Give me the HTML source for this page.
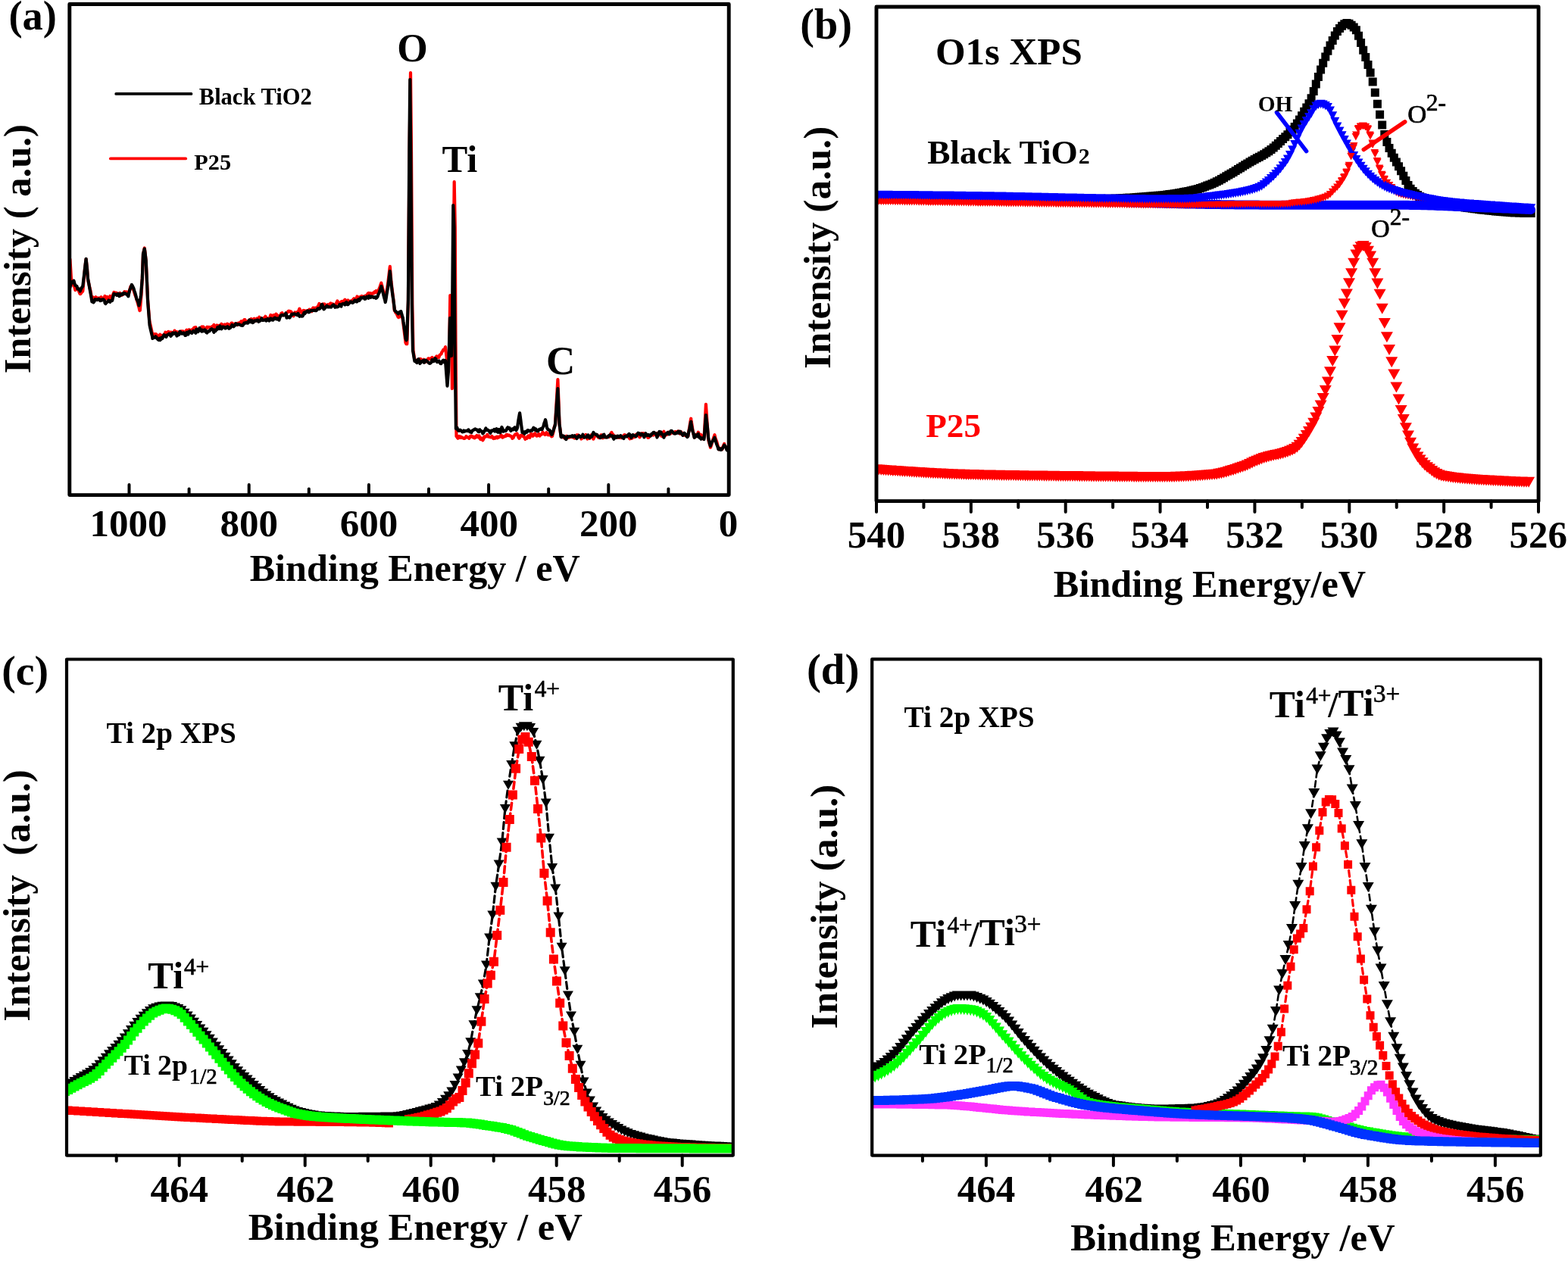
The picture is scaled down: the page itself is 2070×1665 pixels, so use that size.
<!DOCTYPE html>
<html><head><meta charset="utf-8"><title>XPS spectra</title>
<style>html,body{margin:0;padding:0;background:#fff;}svg{display:block;}</style>
</head><body>
<svg width="2070" height="1665" viewBox="0 0 2070 1665" font-family="Liberation Serif, Times New Roman, serif"><clipPath id="ca"><rect x="92" y="6" width="870" height="647"/></clipPath><g clip-path="url(#ca)"><polyline points="92.4,342.1 93.4,357.8 94.0,367.9 94.4,368.8 95.4,371.8 96.4,374.7 97.2,377.3 97.4,376.6 98.4,378.8 99.4,383.0 100.4,381.2 101.0,379.9 101.4,380.1 102.4,381.3 103.4,382.7 104.4,385.2 105.4,387.7 105.7,388.1 106.4,388.1 107.4,386.2 108.4,385.5 109.3,384.2 109.4,383.2 110.4,372.1 111.4,361.4 112.0,355.1 112.4,352.6 113.4,343.7 113.6,342.0 114.4,349.7 115.0,354.9 115.4,360.1 116.0,368.1 116.4,370.5 117.4,375.3 118.4,379.9 119.4,383.7 120.4,389.9 121.4,394.7 122.4,392.2 123.4,394.5 124.4,395.2 125.4,393.3 126.4,392.2 127.4,393.1 128.4,393.9 129.4,395.3 129.9,393.5 130.4,394.2 131.4,394.7 132.4,393.1 133.4,392.3 134.4,394.2 135.4,394.6 136.4,393.4 137.4,392.8 138.3,393.6 138.4,390.9 139.4,394.0 140.4,394.3 141.4,391.9 142.4,392.8 143.4,393.0 144.4,393.7 145.4,391.0 146.4,392.0 147.4,395.1 148.0,394.2 148.4,391.3 149.4,388.5 150.4,386.0 151.4,386.5 152.4,388.1 153.4,386.6 154.4,387.2 155.4,387.5 156.4,389.8 157.4,389.3 157.6,388.6 158.4,387.0 159.4,390.0 160.4,389.9 161.4,389.2 162.4,389.0 163.4,387.3 164.4,385.2 164.9,385.4 165.4,385.4 166.4,387.4 167.4,385.5 168.4,385.9 169.4,387.3 169.7,388.1 170.4,386.2 171.4,381.9 172.4,378.6 173.4,377.3 173.9,376.6 174.4,378.4 175.4,380.6 176.4,383.1 177.0,385.0 177.4,386.3 178.4,389.7 179.4,392.0 180.4,395.3 181.4,398.6 182.4,402.1 183.4,405.6 184.4,410.1 184.8,409.7 185.4,402.7 186.4,390.6 186.5,389.9 187.4,374.6 187.8,368.0 188.4,351.2 189.0,335.1 189.4,334.1 190.4,328.7 190.8,327.4 191.4,332.6 192.4,341.5 192.7,344.1 193.4,359.6 194.4,381.0 195.1,396.1 195.4,399.9 196.4,412.3 197.4,424.3 197.5,425.1 198.4,428.6 199.4,432.9 200.4,437.7 201.1,441.4 201.4,442.5 202.4,441.1 203.4,441.2 204.4,442.2 205.4,441.2 206.4,441.3 207.4,444.3 208.4,446.6 209.4,444.1 210.4,442.5 210.8,443.2 211.4,441.8 212.4,443.8 213.4,444.2 214.4,443.0 215.4,442.6 216.4,442.0 217.4,440.8 218.4,438.8 219.4,439.3 220.4,439.6 221.4,438.5 222.4,437.9 222.9,438.6 223.4,438.5 224.4,439.7 225.4,438.5 226.4,438.7 227.4,440.0 228.4,440.6 229.4,440.2 230.4,436.6 231.4,438.3 232.4,438.0 233.4,438.5 234.4,439.8 234.9,438.7 235.4,439.9 236.4,439.2 237.4,439.7 238.4,437.7 239.4,437.3 240.4,437.9 241.4,437.5 242.4,439.9 243.4,440.0 244.4,439.9 245.4,437.0 246.4,435.6 247.4,436.3 248.4,436.6 249.4,435.3 250.4,435.7 251.4,436.2 252.4,437.0 253.4,435.3 254.4,435.6 255.4,433.8 256.4,432.5 257.4,432.3 258.4,432.2 259.1,434.0 259.4,435.6 260.4,434.9 261.4,435.5 262.4,436.4 263.4,434.9 264.4,433.8 265.4,432.4 266.4,431.4 267.4,432.8 268.4,431.4 269.4,433.2 270.4,433.9 271.4,434.5 272.4,432.9 273.4,431.8 274.4,432.6 275.4,431.9 276.4,432.1 277.4,432.4 278.4,432.1 279.4,431.6 280.4,430.9 281.4,430.5 282.4,428.9 283.2,431.5 283.4,430.8 284.4,433.4 285.4,433.0 286.4,429.4 287.4,430.6 288.4,430.6 289.4,429.7 290.4,430.8 291.4,429.4 292.4,427.7 293.4,429.1 294.4,429.9 295.4,429.5 296.4,428.5 297.4,430.3 298.4,430.3 299.4,427.8 300.4,427.7 301.4,428.3 302.4,428.8 303.4,430.9 304.4,429.1 305.4,426.7 306.4,426.6 307.4,428.2 308.4,430.6 309.4,428.3 310.4,427.4 311.4,427.6 312.4,427.7 313.4,429.0 314.4,426.6 315.4,426.5 316.4,426.2 317.4,425.5 318.4,424.3 319.4,426.3 320.4,424.9 321.4,423.5 322.4,422.1 323.4,422.2 324.4,423.9 325.4,424.7 326.4,424.4 327.4,424.4 328.4,423.4 329.4,422.3 330.4,422.7 331.4,422.1 331.5,421.1 332.4,422.6 333.4,423.2 334.4,421.6 335.4,420.8 336.4,422.5 337.4,423.7 338.4,421.3 339.4,420.4 340.4,420.9 341.4,421.4 342.4,418.7 343.4,420.7 344.4,421.9 345.4,420.5 346.4,422.3 347.4,421.5 348.4,419.8 349.4,419.5 350.4,417.8 351.4,419.5 352.4,422.0 353.4,420.5 354.2,420.6 354.4,421.1 355.4,421.0 356.4,419.0 357.4,416.0 358.4,417.3 359.4,418.2 360.4,416.4 361.4,416.1 362.4,417.6 363.4,416.2 364.4,414.6 365.4,415.9 366.4,417.6 367.4,416.9 368.4,418.2 369.4,418.7 370.4,416.2 371.4,413.6 372.4,413.2 373.4,415.0 374.4,416.3 375.4,415.7 376.4,415.1 377.4,414.0 378.3,414.0 378.4,413.3 379.4,412.6 380.4,411.1 381.4,410.6 382.4,411.6 383.4,411.2 384.4,411.7 385.4,413.6 386.4,414.5 387.4,417.3 388.4,415.1 389.4,412.5 390.4,413.5 391.4,412.9 392.4,412.0 393.4,413.0 394.4,410.0 395.4,407.6 396.4,411.2 397.4,411.8 398.4,413.0 399.4,410.6 400.4,410.0 401.4,412.2 402.4,410.3 402.5,411.1 403.4,412.7 404.4,411.1 405.4,410.0 406.4,410.2 407.4,410.2 408.4,408.6 409.4,409.4 410.4,410.4 411.4,411.2 412.4,407.9 413.4,406.4 414.4,407.4 415.4,406.6 416.4,406.6 417.4,406.9 418.4,407.0 419.4,405.0 420.4,403.5 421.4,401.0 422.4,402.8 423.4,405.4 424.4,403.2 425.4,401.7 426.4,401.4 426.6,403.1 427.4,402.8 428.4,401.5 429.4,403.0 430.4,403.4 431.4,403.1 432.4,402.3 433.4,404.2 434.4,403.0 435.4,401.3 436.4,400.5 437.4,401.0 438.4,402.0 439.4,401.4 440.4,402.3 441.4,402.5 442.4,402.9 443.4,401.9 444.4,399.5 445.4,397.4 446.4,399.6 447.4,400.9 448.4,400.2 449.4,399.9 450.4,398.5 450.8,398.7 451.4,398.0 452.4,400.0 453.4,398.8 454.4,396.8 455.4,395.6 456.4,397.2 457.4,399.1 458.4,397.7 459.4,396.4 460.4,398.4 461.4,398.9 462.4,397.9 463.4,397.3 464.4,397.2 465.4,396.3 466.4,395.4 467.4,394.1 468.4,395.6 469.4,395.5 470.4,395.2 471.4,391.5 472.4,393.2 473.4,393.9 474.4,392.3 474.9,392.2 475.4,393.3 476.4,392.5 477.4,390.9 478.4,391.2 479.4,392.8 480.4,392.8 481.4,391.1 482.4,390.4 483.4,390.7 484.4,390.7 485.4,387.9 486.4,387.0 487.4,388.0 488.4,387.0 489.4,387.2 490.4,388.2 491.4,388.1 492.4,386.8 493.4,387.2 494.4,385.4 495.4,386.2 496.4,384.2 497.4,384.3 498.4,386.3 499.1,385.9 499.4,384.3 500.4,381.7 501.4,379.4 502.4,376.2 503.3,373.6 503.4,374.4 504.4,377.7 505.4,381.7 506.4,386.2 507.4,391.4 508.4,395.9 508.7,396.5 509.4,391.7 510.4,385.2 511.4,379.1 512.0,375.0 512.4,372.1 513.4,363.8 514.4,355.1 514.8,351.9 515.4,359.2 516.4,371.6 516.5,372.3 517.4,379.9 518.4,387.9 519.4,396.3 520.4,406.1 520.8,410.0 521.4,410.3 522.4,412.9 523.4,413.5 524.4,416.0 525.4,418.1 525.7,418.7 526.4,419.1 527.4,418.1 528.4,414.4 529.3,414.6 529.4,415.4 530.4,418.0 531.4,420.1 531.7,421.9 532.4,427.3 533.4,435.3 534.4,443.4 535.3,450.3 535.4,452.3 536.4,454.2 537.3,454.1 537.4,450.9 538.4,417.1 538.9,400.0 539.4,337.5 540.4,212.5 540.5,200.0 541.4,137.7 542.0,96.0 542.4,137.6 543.0,200.0 543.4,262.2 544.3,402.0 544.4,407.1 545.4,457.9 545.5,463.0 546.4,468.7 547.4,475.0 548.4,476.4 549.4,477.8 550.4,475.6 551.4,475.1 552.4,475.4 553.4,475.8 554.4,473.9 555.4,474.1 556.4,475.6 557.4,476.5 558.4,475.8 559.4,474.8 560.0,475.6 560.4,476.8 561.4,477.9 562.4,476.5 563.4,475.7 564.4,475.1 565.4,473.4 566.4,473.4 567.4,473.7 568.4,474.1 569.4,473.1 570.4,472.1 571.4,474.7 571.5,473.8 572.4,473.2 573.4,472.9 574.4,472.8 575.4,472.1 576.4,470.4 577.4,472.2 578.4,471.2 579.4,471.7 580.0,470.1 580.4,469.0 581.4,468.2 582.4,467.4 583.4,464.8 584.4,463.3 585.4,461.6 586.0,461.6 586.4,462.0 587.4,460.1 588.0,458.1 588.4,461.9 589.4,470.1 590.4,479.2 590.5,480.3 591.4,476.9 592.4,470.4 593.0,469.8 593.4,445.3 594.3,390.0 594.4,392.9 595.4,422.3 596.0,440.0 596.4,472.4 596.9,513.1 597.4,470.8 598.0,420.0 598.4,377.7 599.4,271.8 599.7,240.0 600.4,278.2 600.8,300.0 601.4,428.6 601.5,450.0 602.4,563.3 602.5,576.0 603.4,577.1 604.4,578.7 605.0,577.5 605.4,576.0 606.4,576.1 607.4,577.9 608.4,576.6 609.4,577.9 610.4,577.6 611.4,578.3 612.4,578.8 613.4,578.9 614.4,578.1 615.4,576.1 616.4,577.0 617.4,577.3 618.4,578.0 619.4,578.8 620.4,576.9 621.4,575.5 622.4,575.5 623.4,576.6 624.4,577.5 625.4,576.7 626.4,578.4 627.4,577.9 628.4,576.2 629.4,575.1 630.4,577.0 631.4,577.3 632.4,575.4 633.4,578.7 634.4,580.1 635.4,578.5 636.4,579.0 637.4,581.3 638.4,579.5 639.4,576.3 640.4,576.5 641.4,576.7 642.4,575.6 643.4,573.9 644.4,576.6 645.4,576.5 646.4,576.9 647.4,577.3 648.0,577.3 648.4,576.6 649.4,575.9 650.4,578.0 651.4,579.0 652.4,577.7 653.4,578.7 654.4,577.6 655.4,576.8 656.4,578.2 657.4,576.7 658.4,577.5 659.4,576.6 660.4,576.4 661.4,574.6 662.4,575.2 663.4,577.7 664.4,577.2 665.4,576.3 666.4,576.0 667.4,576.1 668.4,574.0 669.4,573.9 670.4,575.1 671.4,574.6 672.4,574.7 673.4,575.6 674.4,575.8 675.4,576.5 676.4,578.8 677.0,576.8 677.4,578.2 678.4,576.2 679.4,574.5 680.4,573.4 681.4,573.6 682.4,572.4 683.4,574.3 684.4,577.3 685.4,578.8 686.4,577.3 687.4,575.0 688.4,575.4 689.4,575.0 690.4,576.2 691.4,576.0 692.4,577.7 693.4,579.8 694.4,578.9 695.4,579.0 696.4,576.4 697.4,575.4 698.4,577.6 699.4,577.8 700.0,575.0 700.4,574.1 701.4,572.8 702.4,574.2 703.4,575.8 704.4,574.6 705.4,573.0 706.4,572.3 707.4,574.5 708.4,575.7 709.4,575.4 710.4,574.0 711.4,573.0 712.4,575.6 713.4,574.3 714.4,573.7 715.4,573.4 716.4,570.6 717.4,572.1 718.4,573.1 719.4,574.1 720.0,573.7 720.4,573.5 721.4,571.1 722.4,572.6 723.4,574.3 724.4,574.2 725.4,572.4 726.4,572.6 727.4,575.6 728.4,576.4 729.1,575.9 729.4,574.0 730.4,570.8 731.4,565.0 732.4,562.1 733.0,560.2 733.4,553.2 734.4,535.7 735.4,518.2 736.4,501.1 737.4,529.0 738.4,557.2 738.5,560.0 739.4,566.6 740.4,574.7 740.7,576.8 741.4,575.3 742.4,576.4 743.4,576.6 744.4,577.9 745.4,578.4 746.4,576.8 747.4,575.8 748.4,575.8 749.4,576.6 750.4,577.9 751.4,577.3 752.4,577.4 753.4,576.7 754.4,576.2 755.4,577.3 756.4,575.9 757.4,577.2 758.4,578.6 759.4,576.1 760.4,575.6 761.4,574.4 762.4,574.8 763.4,574.4 764.4,575.5 765.4,576.1 766.4,577.7 767.4,579.5 768.4,578.5 769.4,578.1 770.4,577.1 771.4,576.2 772.4,574.8 773.4,574.0 774.4,577.0 775.4,579.6 776.4,578.2 777.4,577.3 778.4,578.9 779.4,576.9 780.0,576.5 780.4,574.5 781.4,574.9 782.4,577.1 783.4,579.6 784.4,577.1 785.4,575.0 786.4,575.4 787.4,575.4 788.4,574.3 789.4,576.5 790.4,578.0 791.4,577.9 792.4,577.2 793.4,574.4 794.4,574.3 795.4,578.3 796.4,578.1 797.4,575.1 798.4,576.2 799.4,577.0 800.4,577.5 801.4,576.9 802.4,576.1 803.4,576.7 804.4,576.9 805.4,575.7 806.4,572.4 807.4,571.0 808.4,573.1 809.4,573.9 810.4,576.4 811.4,577.7 812.4,577.0 813.4,576.0 814.4,576.9 815.4,577.7 816.4,576.3 817.4,577.6 818.4,577.9 819.4,577.7 820.4,578.1 821.4,576.4 822.4,576.8 823.4,575.0 824.4,574.1 825.4,574.5 826.4,575.8 827.4,575.0 828.4,575.2 829.4,575.0 830.4,577.9 831.4,579.3 832.4,578.0 833.4,578.8 834.4,578.6 835.0,577.0 835.4,576.4 836.4,574.5 837.4,577.2 838.4,575.9 839.4,573.9 840.4,573.5 841.4,573.0 842.4,574.1 843.4,574.6 844.4,577.4 845.4,576.3 846.4,572.6 847.4,572.1 848.4,572.9 849.4,572.2 850.4,574.1 851.4,574.6 852.4,573.7 853.4,574.1 854.4,576.1 855.4,577.9 856.4,577.7 857.4,575.9 858.4,575.6 859.4,574.2 860.4,574.4 861.4,573.8 862.4,574.5 863.4,572.6 864.4,572.5 865.4,574.2 866.4,574.4 867.4,572.2 868.4,572.8 869.4,574.2 870.4,574.1 871.4,573.0 872.0,573.9 872.4,574.3 873.4,575.9 874.4,574.5 875.4,570.9 876.4,569.8 877.4,572.9 878.4,574.8 879.4,574.1 880.4,573.9 881.4,571.8 882.4,570.8 883.4,572.8 884.4,573.0 885.4,572.4 886.4,570.4 887.4,571.1 888.4,571.2 889.4,572.1 890.4,570.7 891.4,569.9 892.4,570.6 893.0,571.5 893.4,571.3 894.4,569.8 895.4,569.3 896.4,570.4 897.4,572.5 898.4,569.9 899.4,570.5 900.4,573.4 901.4,574.5 902.4,573.5 903.4,574.4 904.4,575.0 905.4,575.1 906.4,574.9 907.4,576.2 908.4,575.7 908.5,574.5 909.4,568.8 910.4,563.3 911.4,556.8 912.2,552.7 912.4,554.2 913.4,560.6 914.4,567.3 914.5,568.0 915.4,572.7 916.4,576.4 916.8,577.7 917.4,577.2 918.4,576.2 919.4,573.6 920.4,573.2 921.4,573.2 921.8,570.7 922.4,571.8 923.4,574.3 924.4,577.3 925.0,578.2 925.4,574.1 926.4,575.9 927.4,577.2 928.4,579.5 929.4,577.7 929.6,576.8 930.4,561.8 931.4,543.3 931.9,533.8 932.4,541.2 933.4,556.1 934.0,565.0 934.4,570.2 935.1,579.1 935.4,581.5 936.4,585.2 937.4,588.0 937.9,590.8 938.4,589.7 939.4,586.5 940.4,582.7 941.4,580.0 942.4,577.3 943.4,574.2 944.4,578.3 945.4,581.4 946.4,583.9 947.4,587.8 948.4,592.0 948.9,593.3 949.4,593.0 950.4,593.0 951.4,593.0 952.4,592.0 952.6,593.6 953.4,593.2 954.4,590.2 955.4,587.6 956.2,585.9 956.4,588.0 957.4,590.1 958.4,590.2 959.4,591.5 959.9,591.9" fill="none" stroke="#ff0000" stroke-width="4.2" stroke-linejoin="round" stroke-linecap="round" /><polyline points="92.4,379.7 93.4,375.7 94.4,373.4 95.0,372.2 95.4,373.5 96.4,371.7 97.2,370.8 97.4,370.7 98.4,374.2 99.4,376.9 100.4,377.3 101.0,377.6 101.4,377.8 102.4,381.4 103.4,381.7 104.4,381.4 105.4,383.5 105.7,384.5 106.4,382.6 107.4,380.8 108.4,379.1 109.3,378.0 109.4,377.1 110.4,368.4 111.4,360.3 112.0,355.1 112.4,351.1 113.4,343.2 113.6,341.8 114.4,349.1 115.0,354.9 115.4,360.1 116.0,368.0 116.4,369.9 117.4,375.2 118.4,381.0 119.4,386.3 120.4,392.0 121.4,398.4 122.4,397.4 123.4,399.3 124.4,398.2 125.4,395.1 126.4,396.0 127.4,395.4 128.4,396.0 129.4,395.3 129.9,395.1 130.4,394.7 131.4,396.2 132.4,397.0 133.4,395.6 134.4,396.5 135.4,395.3 136.4,395.4 137.4,396.2 138.3,397.6 138.4,399.7 139.4,401.1 140.4,399.5 141.4,398.9 142.4,398.3 143.4,396.5 144.4,397.3 145.4,398.7 146.4,397.2 147.4,397.1 148.0,397.1 148.4,395.8 149.4,391.6 150.4,387.9 151.4,388.7 152.4,388.7 153.4,388.6 154.4,389.9 155.4,388.3 156.4,387.9 157.4,389.2 157.6,391.2 158.4,390.2 159.4,388.4 160.4,388.2 161.4,389.0 162.4,387.3 163.4,386.8 164.4,387.9 164.9,387.5 165.4,387.3 166.4,388.3 167.4,388.4 168.4,389.8 169.4,391.3 169.7,389.8 170.4,386.2 171.4,382.7 172.4,380.3 173.4,377.4 173.9,376.0 174.4,376.7 175.4,378.6 176.4,380.7 177.0,382.8 177.4,384.1 178.4,387.0 179.4,390.7 180.4,394.9 181.4,396.8 182.4,398.7 183.4,403.4 183.6,403.2 184.4,398.4 185.4,393.6 186.0,390.0 186.4,384.9 187.4,372.5 187.8,367.9 188.4,351.5 189.0,335.1 189.4,333.6 190.4,330.2 190.8,328.5 191.4,332.8 192.4,341.4 192.7,343.9 193.4,359.5 194.4,382.0 195.1,398.0 195.4,401.9 196.4,414.7 197.4,427.7 197.5,429.1 198.4,433.3 199.4,437.6 200.4,441.7 201.1,444.4 201.4,447.0 202.4,446.1 203.4,445.5 204.4,445.6 205.4,444.3 206.4,445.1 207.4,447.1 208.4,448.1 209.4,448.9 210.4,446.9 210.8,446.7 211.4,449.1 212.4,448.1 213.4,445.6 214.4,446.8 215.4,445.0 216.4,442.2 217.4,442.7 218.4,443.7 219.4,444.9 220.4,442.6 221.4,441.8 222.4,441.6 222.9,441.7 223.4,440.6 224.4,442.3 225.4,443.7 226.4,442.7 227.4,440.1 228.4,439.5 229.4,440.8 230.4,440.1 231.4,439.3 232.4,439.5 233.4,443.5 234.4,442.8 234.9,440.8 235.4,442.3 236.4,441.9 237.4,437.7 238.4,438.4 239.4,439.8 240.4,440.7 241.4,440.0 242.4,439.4 243.4,440.3 244.4,442.9 245.4,442.8 246.4,438.9 247.4,438.7 248.4,441.6 249.4,438.2 250.4,437.2 251.4,438.3 252.4,439.3 253.4,439.8 254.4,438.4 255.4,436.8 256.4,437.9 257.4,438.7 258.4,439.8 259.1,437.1 259.4,434.6 260.4,435.5 261.4,438.1 262.4,435.7 263.4,433.2 264.4,434.8 265.4,436.8 266.4,437.6 267.4,435.8 268.4,437.1 269.4,437.2 270.4,435.4 271.4,436.2 272.4,439.1 273.4,439.5 274.4,437.9 275.4,437.0 276.4,437.3 277.4,435.8 278.4,434.8 279.4,434.1 280.4,434.8 281.4,436.3 282.4,438.8 283.2,435.5 283.4,437.2 284.4,437.1 285.4,435.5 286.4,435.0 287.4,431.9 288.4,433.7 289.4,434.1 290.4,430.4 291.4,431.4 292.4,434.3 293.4,432.9 294.4,431.4 295.4,431.7 296.4,432.2 297.4,433.6 298.4,433.3 299.4,431.8 300.4,431.1 301.4,432.2 302.4,433.8 303.4,433.0 304.4,432.5 305.4,430.8 306.4,429.0 307.4,430.6 308.4,431.3 309.4,430.4 310.4,428.3 311.4,427.3 312.4,428.8 313.4,428.7 314.4,428.2 315.4,428.2 316.4,428.7 317.4,429.0 318.4,429.6 319.4,429.8 320.4,429.8 321.4,428.4 322.4,426.5 323.4,426.4 324.4,426.6 325.4,425.8 326.4,426.6 327.4,426.6 328.4,423.6 329.4,422.4 330.4,425.1 331.4,424.9 331.5,424.1 332.4,423.2 333.4,426.1 334.4,425.7 335.4,423.8 336.4,423.3 337.4,423.7 338.4,423.4 339.4,422.6 340.4,422.5 341.4,424.8 342.4,424.1 343.4,423.6 344.4,422.5 345.4,420.3 346.4,422.8 347.4,422.9 348.4,422.7 349.4,422.7 350.4,422.2 351.4,423.5 352.4,422.1 353.4,421.0 354.2,422.5 354.4,423.1 355.4,423.5 356.4,421.3 357.4,420.4 358.4,422.2 359.4,421.3 360.4,422.6 361.4,421.4 362.4,419.7 363.4,419.7 364.4,421.2 365.4,421.5 366.4,420.5 367.4,421.8 368.4,422.6 369.4,419.4 370.4,416.9 371.4,416.2 372.4,415.8 373.4,416.4 374.4,416.1 375.4,415.9 376.4,416.4 377.4,413.4 378.3,416.4 378.4,419.7 379.4,419.5 380.4,418.2 381.4,418.4 382.4,419.5 383.4,418.1 384.4,416.2 385.4,414.6 386.4,415.1 387.4,414.7 388.4,414.3 389.4,414.5 390.4,415.2 391.4,415.6 392.4,416.0 393.4,413.9 394.4,415.3 395.4,417.8 396.4,416.6 397.4,417.2 398.4,417.7 399.4,417.5 400.4,415.7 401.4,412.9 402.4,413.3 402.5,414.1 403.4,411.8 404.4,412.0 405.4,410.9 406.4,410.5 407.4,412.3 408.4,412.2 409.4,410.7 410.4,409.9 411.4,410.1 412.4,410.1 413.4,409.9 414.4,409.9 415.4,409.5 416.4,410.1 417.4,410.2 418.4,409.3 419.4,407.6 420.4,407.3 421.4,408.0 422.4,407.4 423.4,405.9 424.4,402.3 425.4,402.0 426.4,405.5 426.6,406.4 427.4,408.3 428.4,407.5 429.4,406.2 430.4,404.9 431.4,403.8 432.4,405.4 433.4,404.8 434.4,405.4 435.4,405.4 436.4,405.5 437.4,405.6 438.4,403.8 439.4,403.0 440.4,402.5 441.4,403.7 442.4,405.7 443.4,404.4 444.4,405.3 445.4,405.3 446.4,404.9 447.4,404.0 448.4,402.0 449.4,403.5 450.4,404.6 450.8,402.4 451.4,401.6 452.4,401.2 453.4,401.3 454.4,400.8 455.4,402.5 456.4,400.3 457.4,399.0 458.4,402.2 459.4,402.1 460.4,400.9 461.4,400.0 462.4,398.6 463.4,398.4 464.4,399.5 465.4,399.9 466.4,399.4 467.4,397.8 468.4,396.4 469.4,396.7 470.4,398.4 471.4,398.3 472.4,395.8 473.4,395.2 474.4,396.9 474.9,395.5 475.4,395.6 476.4,393.1 477.4,393.2 478.4,393.5 479.4,393.4 480.4,392.2 481.4,394.8 482.4,394.6 483.4,393.4 484.4,391.6 485.4,392.9 486.4,393.7 487.4,391.0 488.4,392.2 489.4,392.8 490.4,391.5 491.4,392.2 492.4,391.9 493.4,392.9 494.4,392.3 495.4,392.2 496.4,393.8 497.4,393.0 498.4,391.8 499.1,389.7 499.4,388.6 500.4,387.0 501.4,384.3 502.4,381.0 503.3,378.1 503.4,377.9 504.4,381.9 505.4,385.5 506.4,389.9 507.4,393.6 508.4,397.3 508.7,399.1 509.4,395.8 510.4,388.9 511.4,383.1 512.0,380.1 512.4,377.1 513.4,369.7 514.4,361.5 514.8,358.1 515.4,364.3 516.4,374.7 516.5,375.2 517.4,382.5 518.4,390.0 519.4,396.7 520.4,404.6 520.8,408.3 521.4,410.3 522.4,411.1 523.4,412.1 524.4,412.6 525.4,414.0 525.7,414.3 526.4,413.7 527.4,412.1 528.4,411.5 529.3,411.1 529.4,411.4 530.4,415.2 531.4,418.6 531.7,419.2 532.4,424.5 533.4,430.6 534.4,437.6 535.3,445.1 535.4,446.9 536.4,449.3 537.1,448.1 537.4,439.5 538.4,410.4 538.9,396.0 539.4,326.0 540.3,200.0 540.4,190.4 541.3,105.0 541.4,114.5 542.3,200.0 542.4,213.4 543.4,348.1 543.8,402.0 544.4,432.5 545.0,463.0 545.4,465.0 546.4,471.2 547.4,476.9 548.4,475.8 549.4,477.9 550.4,478.9 551.4,475.6 552.4,474.1 553.4,475.8 554.4,480.0 555.4,478.8 556.4,477.9 557.4,477.0 558.4,476.2 559.4,475.8 560.0,478.8 560.4,478.4 561.4,475.6 562.4,475.8 563.4,476.6 564.4,477.6 565.4,478.4 566.4,479.5 567.4,479.9 568.4,479.4 569.4,478.3 570.4,475.1 571.4,475.3 571.5,476.4 572.4,477.1 573.4,475.7 574.4,473.2 575.4,473.9 576.4,477.5 577.4,478.0 578.4,477.2 579.4,476.4 580.0,477.3 580.4,478.1 581.4,479.9 582.4,480.1 583.4,477.9 584.4,476.2 585.4,475.6 586.4,478.3 587.4,478.7 588.0,476.0 588.4,481.5 589.4,495.0 590.4,508.2 590.5,509.7 591.4,497.7 592.0,490.0 592.4,476.0 593.4,441.4 594.0,419.9 594.4,430.9 595.4,455.5 596.0,470.0 596.4,450.0 597.0,420.0 597.4,374.1 598.3,271.0 598.4,273.4 599.4,297.6 599.5,300.0 600.4,435.0 600.5,450.0 601.4,524.5 601.9,566.0 602.4,564.1 603.4,564.6 604.4,567.8 605.0,568.6 605.4,567.7 606.4,568.7 607.4,567.6 608.4,568.4 609.4,569.2 610.4,570.4 611.4,570.2 612.4,568.5 613.4,569.6 614.4,569.1 615.4,568.8 616.4,568.8 617.4,569.1 618.4,567.4 619.4,569.0 620.4,570.3 621.4,569.7 622.4,571.0 623.4,568.6 624.4,568.2 625.4,567.6 626.4,566.8 627.4,566.3 628.4,567.1 629.4,567.7 630.4,567.6 631.4,570.0 632.4,570.2 633.4,567.3 634.4,568.8 635.4,569.1 636.4,569.9 637.4,572.4 638.4,571.3 639.4,569.3 640.4,567.5 641.4,565.5 642.4,567.8 643.4,567.5 644.4,568.0 645.4,568.7 646.4,570.4 647.4,571.8 648.0,568.9 648.4,570.1 649.4,568.4 650.4,568.7 651.4,568.4 652.4,567.0 653.4,569.5 654.4,566.9 655.4,566.1 656.4,570.1 657.4,570.8 658.4,567.0 659.4,567.5 660.4,571.3 661.4,567.8 662.4,564.0 663.4,566.1 664.4,569.7 665.4,569.0 666.4,568.7 667.4,569.1 668.4,568.0 669.4,565.6 670.4,564.3 671.4,565.7 672.4,564.9 673.4,566.5 674.4,568.9 675.4,567.7 676.4,566.4 677.0,566.1 677.4,567.4 678.4,566.8 679.4,564.3 680.4,565.9 681.4,568.0 682.4,566.6 683.0,564.9 683.4,561.6 684.4,554.7 685.4,549.1 686.1,545.3 686.4,547.4 687.4,554.8 688.0,559.9 688.4,562.8 689.4,570.1 689.5,570.9 690.4,569.9 691.4,571.9 692.4,572.7 693.4,570.1 694.4,569.8 695.4,570.8 696.4,568.2 697.4,568.1 698.4,568.9 699.4,569.4 700.4,568.6 701.4,568.0 702.4,568.5 703.4,566.6 704.4,564.8 705.4,565.3 706.4,567.7 707.4,566.4 708.4,568.2 709.4,569.4 710.4,569.1 711.4,567.5 712.4,566.7 713.4,566.9 714.4,565.8 715.4,565.6 715.6,567.2 716.4,564.8 717.4,563.0 718.0,560.2 718.4,558.7 719.4,556.3 720.0,554.2 720.4,555.5 721.4,560.8 722.0,564.7 722.4,565.4 723.4,567.1 724.4,567.6 725.4,567.9 726.4,569.6 727.4,572.6 728.4,573.9 729.1,573.0 729.4,571.2 730.4,568.9 731.4,565.8 732.4,562.7 733.0,560.2 733.4,554.8 734.4,540.4 735.4,526.6 736.4,513.2 737.4,535.6 738.4,557.9 738.5,560.0 739.4,566.4 740.4,574.6 740.7,576.9 741.4,577.4 742.4,575.1 743.4,575.5 744.4,575.9 745.4,577.2 746.4,579.2 747.4,580.1 748.4,577.8 749.4,576.2 750.4,576.6 751.4,576.5 752.4,576.1 753.4,576.5 754.4,576.1 755.4,575.2 756.4,576.6 757.4,575.8 758.4,575.2 759.4,576.5 760.4,576.9 761.4,579.0 762.4,578.0 763.4,576.4 764.4,575.2 765.4,575.9 766.4,577.1 767.4,576.2 768.4,576.1 769.4,573.8 770.4,576.0 771.4,577.7 772.4,577.2 773.4,576.9 774.4,577.3 775.4,575.0 776.4,574.5 777.4,576.5 778.4,578.2 779.4,577.3 780.0,576.1 780.4,576.7 781.4,576.3 782.4,573.2 783.4,571.0 784.4,572.6 785.4,573.2 786.4,573.9 787.4,573.6 788.4,574.4 789.4,576.3 790.4,576.3 791.4,576.8 792.4,578.1 793.4,575.9 794.4,575.8 795.4,577.0 796.4,574.1 797.4,573.7 798.4,577.1 799.4,577.3 800.4,577.2 801.4,577.5 802.4,577.2 803.4,575.5 804.4,574.9 805.4,574.2 806.4,575.5 807.4,575.9 808.4,575.5 809.4,577.9 810.4,579.7 811.4,575.9 812.4,576.8 813.4,577.9 814.4,577.3 815.4,575.6 816.4,577.3 817.4,577.1 818.4,575.6 819.4,575.2 820.4,576.2 821.4,577.5 822.4,578.4 823.4,579.1 824.4,576.4 825.4,576.0 826.4,575.6 827.4,576.5 828.4,575.8 829.4,574.0 830.4,572.9 831.4,573.8 832.4,576.1 833.4,578.0 834.4,576.6 835.0,574.6 835.4,574.1 836.4,575.1 837.4,575.1 838.4,575.6 839.4,576.4 840.4,575.4 841.4,573.2 842.4,571.8 843.4,572.7 844.4,572.3 845.4,574.0 846.4,574.5 847.4,572.9 848.4,573.7 849.4,575.0 850.4,577.4 851.4,575.2 852.4,572.2 853.4,574.4 854.4,575.1 855.4,574.1 856.4,574.0 857.4,575.3 858.4,575.7 859.4,574.7 860.4,572.8 861.4,572.6 862.4,571.0 863.4,570.9 864.4,572.0 865.4,572.0 866.4,574.0 867.4,577.5 868.4,575.3 869.4,571.8 870.4,569.9 871.4,570.9 872.0,572.9 872.4,570.3 873.4,573.3 874.4,573.2 875.4,575.0 876.4,577.7 877.4,574.8 878.4,573.2 879.4,573.1 880.4,571.9 881.4,571.0 882.4,572.1 883.4,573.4 884.4,571.5 885.4,569.2 886.4,568.8 887.4,569.5 888.4,571.1 889.4,572.1 890.4,572.5 891.4,572.7 892.4,571.5 893.0,571.3 893.4,572.0 894.4,571.4 895.4,569.7 896.4,571.7 897.4,569.7 898.4,570.0 899.4,572.5 900.4,573.0 901.4,574.8 902.4,573.3 903.4,571.7 904.4,572.7 905.4,573.6 906.4,576.2 907.4,577.0 908.4,575.5 908.5,573.9 909.4,570.0 910.4,565.7 911.4,560.2 912.2,556.8 912.4,558.6 913.4,564.3 914.4,569.4 914.5,569.8 915.4,572.0 916.4,576.9 916.8,577.9 917.4,575.3 918.4,574.3 919.4,574.6 920.4,576.2 921.4,574.3 921.8,572.8 922.4,575.9 923.4,577.9 924.4,577.4 925.0,579.0 925.4,579.7 926.4,579.0 927.4,578.3 928.4,578.3 929.4,580.1 929.6,578.5 930.4,567.9 931.4,554.6 931.9,548.1 932.4,552.1 933.4,559.7 934.0,565.1 934.4,569.8 935.1,578.0 935.4,579.4 936.4,583.6 937.4,587.7 937.9,588.8 938.4,587.2 939.4,584.4 940.4,583.1 941.4,581.4 942.4,580.2 943.4,577.8 944.4,580.9 945.4,584.5 946.4,587.3 947.4,589.7 948.4,593.2 948.9,593.4 949.4,591.7 950.4,593.3 951.4,594.0 952.4,593.4 952.6,593.7 953.4,592.5 954.4,591.0 955.4,589.4 956.2,587.6 956.4,588.6 957.4,589.0 958.4,590.9 959.4,593.9 959.9,594.4" fill="none" stroke="#000" stroke-width="4.2" stroke-linejoin="round" stroke-linecap="round" /></g><rect x="91.8" y="5.5" width="870.40" height="648.10" fill="none" stroke="#000" stroke-width="4.9" stroke-linejoin="round"/><line x1="882.40" y1="651.50" x2="882.40" y2="645.50" stroke="#000" stroke-width="4" stroke-linecap="round"/><line x1="803.30" y1="651.50" x2="803.30" y2="640.00" stroke="#000" stroke-width="4" stroke-linecap="round"/><line x1="724.20" y1="651.50" x2="724.20" y2="645.50" stroke="#000" stroke-width="4" stroke-linecap="round"/><line x1="645.10" y1="651.50" x2="645.10" y2="640.00" stroke="#000" stroke-width="4" stroke-linecap="round"/><line x1="566.00" y1="651.50" x2="566.00" y2="645.50" stroke="#000" stroke-width="4" stroke-linecap="round"/><line x1="486.90" y1="651.50" x2="486.90" y2="640.00" stroke="#000" stroke-width="4" stroke-linecap="round"/><line x1="407.80" y1="651.50" x2="407.80" y2="645.50" stroke="#000" stroke-width="4" stroke-linecap="round"/><line x1="328.70" y1="651.50" x2="328.70" y2="640.00" stroke="#000" stroke-width="4" stroke-linecap="round"/><line x1="249.60" y1="651.50" x2="249.60" y2="645.50" stroke="#000" stroke-width="4" stroke-linecap="round"/><line x1="170.50" y1="651.50" x2="170.50" y2="640.00" stroke="#000" stroke-width="4" stroke-linecap="round"/><text x="118.50" y="707.50" font-size="51.00" font-weight="bold" fill="#000">1000</text><text x="290.57" y="707.50" font-size="51.00" font-weight="bold" fill="#000">800</text><text x="448.77" y="707.50" font-size="51.00" font-weight="bold" fill="#000">600</text><text x="607.47" y="707.50" font-size="51.00" font-weight="bold" fill="#000">400</text><text x="765.05" y="707.50" font-size="51.00" font-weight="bold" fill="#000">200</text><text x="948.75" y="707.50" font-size="51.00" font-weight="bold" fill="#000">0</text><text x="11.40" y="39.20" font-size="54.48" font-weight="bold" fill="#000">(a)</text><text x="524.30" y="80.60" font-size="52.01" font-weight="bold" fill="#000">O</text><text x="583.45" y="226.70" font-size="50.58" font-weight="bold" fill="#000">Ti</text><text x="721.10" y="494.20" font-size="53.05" font-weight="bold" fill="#000">C</text><line x1="153.20" y1="123.90" x2="252.50" y2="123.90" stroke="#000" stroke-width="3.8" stroke-linecap="round"/><text x="262.80" y="138.00" font-size="30.50" font-weight="bold" fill="#000">Black TiO2</text><line x1="145.90" y1="209.40" x2="245.20" y2="209.40" stroke="#ff0000" stroke-width="3.8" stroke-linecap="round"/><text x="256.30" y="223.90" font-size="30.29" font-weight="bold" fill="#000">P25</text><text x="329.65" y="767.30" font-size="50.16" font-weight="bold" fill="#000">Binding Energy / eV</text><text transform="translate(40.00,493.35) rotate(-90)" font-size="50.65" font-weight="bold">Intensity ( a.u.)</text><clipPath id="cb"><rect x="1157" y="9" width="874" height="652"/></clipPath><g clip-path="url(#cb)"><path d="M1151.5 254.5h11v11h-11zM1154.6 254.5h11v11h-11zM1157.7 254.5h11v11h-11zM1160.9 254.5h11v11h-11zM1164.0 254.6h11v11h-11zM1167.1 254.6h11v11h-11zM1170.2 254.6h11v11h-11zM1173.3 254.6h11v11h-11zM1176.5 254.6h11v11h-11zM1179.6 254.7h11v11h-11zM1182.7 254.7h11v11h-11zM1185.8 254.7h11v11h-11zM1188.9 254.7h11v11h-11zM1192.1 254.7h11v11h-11zM1195.2 254.8h11v11h-11zM1198.3 254.8h11v11h-11zM1201.4 254.8h11v11h-11zM1204.5 254.8h11v11h-11zM1207.7 254.8h11v11h-11zM1210.8 254.9h11v11h-11zM1213.9 254.9h11v11h-11zM1217.0 254.9h11v11h-11zM1220.1 254.9h11v11h-11zM1223.3 254.9h11v11h-11zM1226.4 255.0h11v11h-11zM1229.5 255.0h11v11h-11zM1232.6 255.0h11v11h-11zM1235.7 255.0h11v11h-11zM1238.9 255.1h11v11h-11zM1242.0 255.1h11v11h-11zM1245.1 255.1h11v11h-11zM1248.2 255.1h11v11h-11zM1251.3 255.2h11v11h-11zM1254.5 255.2h11v11h-11zM1257.6 255.2h11v11h-11zM1260.7 255.2h11v11h-11zM1263.8 255.3h11v11h-11zM1266.9 255.3h11v11h-11zM1270.1 255.3h11v11h-11zM1273.2 255.3h11v11h-11zM1276.3 255.4h11v11h-11zM1279.4 255.4h11v11h-11zM1282.5 255.4h11v11h-11zM1285.7 255.4h11v11h-11zM1288.8 255.5h11v11h-11zM1291.9 255.5h11v11h-11zM1295.0 255.5h11v11h-11zM1298.1 255.5h11v11h-11zM1301.3 255.6h11v11h-11zM1304.4 255.6h11v11h-11zM1307.5 255.6h11v11h-11zM1310.6 255.7h11v11h-11zM1313.7 255.7h11v11h-11zM1316.9 255.7h11v11h-11zM1320.0 255.8h11v11h-11zM1323.1 255.8h11v11h-11zM1326.2 255.8h11v11h-11zM1329.3 255.9h11v11h-11zM1332.5 255.9h11v11h-11zM1335.6 256.0h11v11h-11zM1338.7 256.0h11v11h-11zM1341.8 256.0h11v11h-11zM1344.9 256.1h11v11h-11zM1348.1 256.1h11v11h-11zM1351.2 256.2h11v11h-11zM1354.3 256.2h11v11h-11zM1357.4 256.2h11v11h-11zM1360.5 256.3h11v11h-11zM1363.7 256.3h11v11h-11zM1366.8 256.4h11v11h-11zM1369.9 256.4h11v11h-11zM1373.0 256.5h11v11h-11zM1376.1 256.5h11v11h-11zM1379.3 256.5h11v11h-11zM1382.4 256.6h11v11h-11zM1385.5 256.6h11v11h-11zM1388.6 256.6h11v11h-11zM1391.7 256.7h11v11h-11zM1394.9 256.7h11v11h-11zM1398.0 256.7h11v11h-11zM1401.1 256.8h11v11h-11zM1404.2 256.8h11v11h-11zM1407.3 256.8h11v11h-11zM1410.5 256.9h11v11h-11zM1413.6 256.9h11v11h-11zM1416.7 256.9h11v11h-11zM1419.8 256.9h11v11h-11zM1422.9 256.9h11v11h-11zM1426.1 257.0h11v11h-11zM1429.2 257.0h11v11h-11zM1432.3 257.0h11v11h-11zM1435.4 257.0h11v11h-11zM1438.5 257.0h11v11h-11zM1441.7 257.0h11v11h-11zM1444.8 257.0h11v11h-11zM1447.9 257.0h11v11h-11zM1451.0 257.0h11v11h-11zM1454.1 256.9h11v11h-11zM1457.3 256.8h11v11h-11zM1460.4 256.8h11v11h-11zM1463.5 256.7h11v11h-11zM1466.6 256.5h11v11h-11zM1469.7 256.4h11v11h-11zM1472.9 256.3h11v11h-11zM1476.0 256.1h11v11h-11zM1479.1 256.0h11v11h-11zM1482.2 255.8h11v11h-11zM1485.3 255.6h11v11h-11zM1488.5 255.4h11v11h-11zM1491.6 255.2h11v11h-11zM1494.7 255.0h11v11h-11zM1497.8 254.7h11v11h-11zM1500.9 254.5h11v11h-11zM1504.1 254.3h11v11h-11zM1507.2 254.0h11v11h-11zM1510.3 253.8h11v11h-11zM1513.4 253.6h11v11h-11zM1516.5 253.3h11v11h-11zM1519.7 253.0h11v11h-11zM1522.8 252.8h11v11h-11zM1525.9 252.5h11v11h-11zM1529.0 252.2h11v11h-11zM1532.1 251.9h11v11h-11zM1535.3 251.5h11v11h-11zM1538.4 251.1h11v11h-11zM1541.5 250.7h11v11h-11zM1544.6 250.2h11v11h-11zM1547.7 249.7h11v11h-11zM1550.9 249.2h11v11h-11zM1554.0 248.7h11v11h-11zM1557.1 248.1h11v11h-11zM1560.2 247.5h11v11h-11zM1563.3 246.9h11v11h-11zM1566.5 246.3h11v11h-11zM1569.6 245.6h11v11h-11zM1572.7 244.8h11v11h-11zM1575.8 243.9h11v11h-11zM1578.9 242.9h11v11h-11zM1582.1 241.9h11v11h-11zM1585.2 240.8h11v11h-11zM1588.3 239.6h11v11h-11zM1591.4 238.4h11v11h-11zM1594.5 237.2h11v11h-11zM1597.7 235.8h11v11h-11zM1600.8 234.3h11v11h-11zM1603.9 232.7h11v11h-11zM1607.0 231.0h11v11h-11zM1610.1 229.2h11v11h-11zM1613.3 227.3h11v11h-11zM1616.4 225.5h11v11h-11zM1619.5 223.7h11v11h-11zM1622.6 221.9h11v11h-11zM1625.7 220.0h11v11h-11zM1628.9 218.1h11v11h-11zM1632.0 216.2h11v11h-11zM1635.1 214.2h11v11h-11zM1638.2 212.3h11v11h-11zM1641.3 210.4h11v11h-11zM1644.5 208.5h11v11h-11zM1647.6 206.7h11v11h-11zM1650.7 205.0h11v11h-11zM1653.8 203.3h11v11h-11zM1656.9 201.7h11v11h-11zM1660.1 200.0h11v11h-11zM1663.2 198.2h11v11h-11zM1666.3 196.3h11v11h-11zM1669.4 194.2h11v11h-11zM1672.5 192.0h11v11h-11zM1675.7 189.5h11v11h-11zM1678.8 186.8h11v11h-11zM1681.9 184.0h11v11h-11zM1685.0 181.1h11v11h-11zM1688.1 178.1h11v11h-11zM1691.3 175.2h11v11h-11zM1694.4 172.3h11v11h-11zM1697.5 169.1h11v11h-11zM1700.6 165.8h11v11h-11zM1703.7 162.0h11v11h-11zM1706.9 157.6h11v11h-11zM1710.0 152.5h11v11h-11zM1713.1 147.2h11v11h-11zM1716.2 141.8h11v11h-11zM1719.3 136.6h11v11h-11zM1722.5 131.2h11v11h-11zM1725.6 124.3h11v11h-11zM1728.7 114.9h11v11h-11zM1731.8 105.5h11v11h-11zM1734.9 95.9h11v11h-11zM1738.1 86.5h11v11h-11zM1741.2 77.8h11v11h-11zM1744.3 69.6h11v11h-11zM1747.4 61.8h11v11h-11zM1750.5 54.6h11v11h-11zM1753.7 48.0h11v11h-11zM1756.8 41.6h11v11h-11zM1759.9 36.0h11v11h-11zM1763.0 32.0h11v11h-11zM1766.1 28.7h11v11h-11zM1769.3 26.2h11v11h-11zM1772.4 25.1h11v11h-11zM1775.5 25.8h11v11h-11zM1778.6 27.7h11v11h-11zM1781.7 30.4h11v11h-11zM1784.9 34.3h11v11h-11zM1788.0 41.7h11v11h-11zM1791.1 51.1h11v11h-11zM1794.2 60.8h11v11h-11zM1797.3 70.0h11v11h-11zM1800.5 79.9h11v11h-11zM1803.6 90.6h11v11h-11zM1806.7 102.4h11v11h-11zM1809.8 116.7h11v11h-11zM1812.9 131.8h11v11h-11zM1816.1 145.7h11v11h-11zM1819.2 159.5h11v11h-11zM1822.3 172.1h11v11h-11zM1825.4 182.0h11v11h-11zM1828.5 189.9h11v11h-11zM1831.7 196.7h11v11h-11zM1834.8 202.7h11v11h-11zM1837.9 208.5h11v11h-11zM1841.0 214.2h11v11h-11zM1844.1 220.2h11v11h-11zM1847.3 226.7h11v11h-11zM1850.4 233.1h11v11h-11zM1853.5 238.9h11v11h-11zM1856.6 243.7h11v11h-11zM1859.7 247.1h11v11h-11zM1862.9 249.7h11v11h-11zM1866.0 252.0h11v11h-11zM1869.1 253.9h11v11h-11zM1872.2 255.5h11v11h-11zM1875.3 256.8h11v11h-11zM1878.5 258.0h11v11h-11zM1881.6 259.0h11v11h-11zM1884.7 260.0h11v11h-11zM1887.8 261.0h11v11h-11zM1890.9 261.8h11v11h-11zM1894.1 262.6h11v11h-11zM1897.2 263.3h11v11h-11zM1900.3 264.0h11v11h-11zM1903.4 264.6h11v11h-11zM1906.5 265.2h11v11h-11zM1909.7 265.8h11v11h-11zM1912.8 266.2h11v11h-11zM1915.9 266.7h11v11h-11zM1919.0 267.2h11v11h-11zM1922.1 267.6h11v11h-11zM1925.3 268.0h11v11h-11zM1928.4 268.5h11v11h-11zM1931.5 268.9h11v11h-11zM1934.6 269.3h11v11h-11zM1937.7 269.8h11v11h-11zM1940.9 270.2h11v11h-11zM1944.0 270.6h11v11h-11zM1947.1 271.0h11v11h-11zM1950.2 271.4h11v11h-11zM1953.3 271.7h11v11h-11zM1956.5 272.1h11v11h-11zM1959.6 272.5h11v11h-11zM1962.7 272.8h11v11h-11zM1965.8 273.1h11v11h-11zM1968.9 273.5h11v11h-11zM1972.1 273.7h11v11h-11zM1975.2 274.0h11v11h-11zM1978.3 274.3h11v11h-11zM1981.4 274.6h11v11h-11zM1984.5 274.8h11v11h-11zM1987.7 275.0h11v11h-11zM1990.8 275.2h11v11h-11zM1993.9 275.4h11v11h-11zM1997.0 275.5h11v11h-11zM2000.1 275.7h11v11h-11zM2003.3 275.8h11v11h-11zM2006.4 275.9h11v11h-11zM2009.5 275.9h11v11h-11zM2012.6 276.0h11v11h-11zM2015.7 276.0h11v11h-11z" fill="#000" /><path d="M1856.8 254.7h10.5l-5.25 9.5zM1859.9 255.4h10.5l-5.25 9.5zM1863.0 256.0h10.5l-5.25 9.5zM1866.1 256.7h10.5l-5.25 9.5zM1869.2 257.3h10.5l-5.25 9.5zM1872.3 257.8h10.5l-5.25 9.5zM1875.5 258.4h10.5l-5.25 9.5zM1878.6 258.9h10.5l-5.25 9.5zM1881.7 259.4h10.5l-5.25 9.5zM1884.8 259.8h10.5l-5.25 9.5zM1887.9 260.3h10.5l-5.25 9.5zM1891.1 260.7h10.5l-5.25 9.5zM1894.2 261.2h10.5l-5.25 9.5zM1897.3 261.6h10.5l-5.25 9.5zM1900.4 262.0h10.5l-5.25 9.5zM1903.5 262.5h10.5l-5.25 9.5zM1906.7 262.9h10.5l-5.25 9.5zM1909.8 263.3h10.5l-5.25 9.5zM1912.9 263.6h10.5l-5.25 9.5zM1916.0 264.0h10.5l-5.25 9.5zM1919.1 264.4h10.5l-5.25 9.5zM1922.3 264.8h10.5l-5.25 9.5zM1925.4 265.1h10.5l-5.25 9.5zM1928.5 265.5h10.5l-5.25 9.5zM1931.6 265.8h10.5l-5.25 9.5zM1934.7 266.2h10.5l-5.25 9.5zM1937.9 266.5h10.5l-5.25 9.5zM1941.0 266.8h10.5l-5.25 9.5zM1944.1 267.2h10.5l-5.25 9.5zM1947.2 267.5h10.5l-5.25 9.5zM1950.3 267.8h10.5l-5.25 9.5zM1953.5 268.2h10.5l-5.25 9.5zM1956.6 268.5h10.5l-5.25 9.5zM1959.7 268.8h10.5l-5.25 9.5zM1962.8 269.1h10.5l-5.25 9.5zM1965.9 269.4h10.5l-5.25 9.5zM1969.1 269.7h10.5l-5.25 9.5zM1972.2 270.0h10.5l-5.25 9.5zM1975.3 270.3h10.5l-5.25 9.5zM1978.4 270.6h10.5l-5.25 9.5zM1981.5 270.9h10.5l-5.25 9.5zM1984.7 271.2h10.5l-5.25 9.5zM1987.8 271.4h10.5l-5.25 9.5zM1990.9 271.7h10.5l-5.25 9.5zM1994.0 272.0h10.5l-5.25 9.5zM1997.1 272.2h10.5l-5.25 9.5zM2000.3 272.5h10.5l-5.25 9.5zM2003.4 272.7h10.5l-5.25 9.5zM2006.5 273.0h10.5l-5.25 9.5zM2009.6 273.2h10.5l-5.25 9.5zM2012.7 273.5h10.5l-5.25 9.5zM2015.9 273.7h10.5l-5.25 9.5z" fill="#ff0000" /><polyline points="1157.0,258.0 1160.0,258.1 1163.0,258.2 1166.0,258.3 1169.0,258.3 1172.0,258.4 1175.0,258.5 1178.0,258.6 1181.0,258.7 1184.0,258.8 1187.0,258.9 1190.0,258.9 1193.0,259.0 1196.0,259.1 1199.0,259.2 1202.0,259.3 1205.0,259.4 1208.0,259.4 1211.0,259.5 1214.0,259.6 1217.0,259.7 1220.0,259.8 1223.0,259.9 1226.0,260.0 1229.0,260.0 1232.0,260.1 1235.0,260.2 1238.0,260.3 1241.0,260.4 1244.0,260.5 1247.0,260.5 1250.0,260.6 1253.0,260.7 1256.0,260.8 1259.0,260.9 1262.0,261.0 1265.0,261.0 1268.0,261.1 1271.0,261.2 1274.0,261.3 1277.0,261.4 1280.0,261.5 1283.0,261.5 1286.0,261.6 1289.0,261.7 1292.0,261.8 1295.0,261.9 1298.0,261.9 1301.0,262.0 1304.0,262.1 1307.0,262.2 1310.0,262.3 1313.0,262.4 1316.0,262.4 1319.0,262.5 1322.0,262.6 1325.0,262.7 1328.0,262.8 1331.0,262.8 1334.0,262.9 1337.0,263.0 1340.0,263.1 1343.0,263.2 1346.0,263.2 1349.0,263.3 1352.0,263.4 1355.0,263.5 1358.0,263.6 1361.0,263.6 1364.0,263.7 1367.0,263.8 1370.0,263.9 1373.0,264.0 1376.0,264.0 1379.0,264.1 1382.0,264.2 1385.0,264.3 1388.0,264.4 1391.0,264.4 1394.0,264.5 1397.0,264.6 1400.0,264.7 1403.0,264.8 1406.0,264.8 1409.0,264.9 1412.0,265.0 1415.0,265.1 1418.0,265.2 1421.0,265.2 1424.0,265.3 1427.0,265.4 1430.0,265.5 1433.0,265.5 1436.0,265.6 1439.0,265.7 1442.0,265.8 1445.0,265.9 1448.0,265.9 1451.0,266.0 1454.0,266.1 1457.0,266.2 1460.0,266.3 1463.0,266.4 1466.0,266.4 1469.0,266.5 1472.0,266.6 1475.0,266.7 1478.0,266.8 1481.0,266.9 1484.0,267.0 1487.0,267.1 1490.0,267.2 1493.0,267.3 1496.0,267.4 1499.0,267.5 1502.0,267.6 1505.0,267.7 1508.0,267.8 1511.0,267.8 1514.0,267.9 1517.0,268.0 1520.0,268.1 1523.0,268.2 1526.0,268.3 1529.0,268.4 1532.0,268.5 1535.0,268.6 1538.0,268.7 1541.0,268.7 1544.0,268.8 1547.0,268.9 1550.0,269.0 1553.0,269.1 1556.0,269.2 1559.0,269.2 1562.0,269.3 1565.0,269.4 1568.0,269.4 1571.0,269.5 1574.0,269.6 1577.0,269.6 1580.0,269.7 1583.0,269.7 1586.0,269.8 1589.0,269.8 1592.0,269.9 1595.0,269.9 1598.0,270.0 1601.0,270.0 1604.0,270.0 1607.0,270.1 1610.0,270.1 1613.0,270.2 1616.0,270.2 1619.0,270.2 1622.0,270.3 1625.0,270.3 1628.0,270.3 1631.0,270.4 1634.0,270.4 1637.0,270.4 1640.0,270.5 1643.0,270.5 1646.0,270.5 1649.0,270.5 1652.0,270.6 1655.0,270.6 1658.0,270.6 1661.0,270.6 1664.0,270.7 1667.0,270.7 1670.0,270.7 1673.0,270.7 1676.0,270.7 1679.0,270.8 1682.0,270.8 1685.0,270.8 1688.0,270.8 1691.0,270.8 1694.0,270.8 1697.0,270.8 1700.0,270.8 1703.0,270.8 1706.0,270.8 1709.0,270.8 1712.0,270.8 1715.0,270.8 1718.0,270.8 1721.0,270.8 1724.0,270.8 1727.0,270.8 1730.0,270.8 1733.0,270.8 1736.0,270.8 1739.0,270.8 1742.0,270.8 1745.0,270.8 1748.0,270.8 1751.0,270.8 1754.0,270.8 1757.0,270.8 1760.0,270.8 1763.0,270.8 1766.0,270.8 1769.0,270.8 1772.0,270.8 1775.0,270.8 1778.0,270.8 1781.0,270.8 1784.0,270.8 1787.0,270.8 1790.0,270.8 1793.0,270.8 1796.0,270.8 1799.0,270.8 1802.0,270.8 1805.0,270.8 1808.0,270.8 1811.0,270.8 1814.0,270.8 1817.0,270.8 1820.0,270.8 1823.0,270.8 1826.0,270.8 1829.0,270.8 1832.0,270.8 1835.0,270.8 1838.0,270.8 1841.0,270.8 1844.0,270.8 1847.0,270.8 1850.0,270.8 1853.0,270.8 1856.0,270.8 1859.0,270.8 1862.0,270.9 1865.0,270.9 1868.0,271.0 1871.0,271.0 1874.0,271.1 1877.0,271.2 1880.0,271.3 1883.0,271.3 1886.0,271.4 1889.0,271.5 1892.0,271.6 1895.0,271.8 1898.0,271.9 1901.0,272.0 1904.0,272.1 1907.0,272.2 1910.0,272.3 1913.0,272.5 1916.0,272.6 1919.0,272.7 1922.0,272.9 1925.0,273.0 1928.0,273.1 1931.0,273.2 1934.0,273.4 1937.0,273.5 1940.0,273.6 1943.0,273.7 1946.0,273.9 1949.0,274.0 1952.0,274.1 1955.0,274.2 1958.0,274.3 1961.0,274.4 1964.0,274.5 1967.0,274.6 1970.0,274.8 1973.0,274.9 1976.0,275.0 1979.0,275.1 1982.0,275.2 1985.0,275.4 1988.0,275.5 1991.0,275.6 1994.0,275.8 1997.0,275.9 2000.0,276.0 2003.0,276.1 2006.0,276.3 2009.0,276.4 2012.0,276.5 2015.0,276.7 2018.0,276.8 2021.0,277.0" fill="none" stroke="#0000ff" stroke-width="12" stroke-linejoin="round" stroke-linecap="round" stroke-linecap="butt"/><path d="M1151.8 261.2h10.5l-5.25 9.5zM1154.9 261.3h10.5l-5.25 9.5zM1158.0 261.4h10.5l-5.25 9.5zM1161.1 261.4h10.5l-5.25 9.5zM1164.2 261.5h10.5l-5.25 9.5zM1167.3 261.5h10.5l-5.25 9.5zM1170.5 261.6h10.5l-5.25 9.5zM1173.6 261.6h10.5l-5.25 9.5zM1176.7 261.7h10.5l-5.25 9.5zM1179.8 261.7h10.5l-5.25 9.5zM1182.9 261.8h10.5l-5.25 9.5zM1186.1 261.8h10.5l-5.25 9.5zM1189.2 261.9h10.5l-5.25 9.5zM1192.3 261.9h10.5l-5.25 9.5zM1195.4 262.0h10.5l-5.25 9.5zM1198.5 262.0h10.5l-5.25 9.5zM1201.7 262.1h10.5l-5.25 9.5zM1204.8 262.1h10.5l-5.25 9.5zM1207.9 262.2h10.5l-5.25 9.5zM1211.0 262.2h10.5l-5.25 9.5zM1214.1 262.3h10.5l-5.25 9.5zM1217.3 262.3h10.5l-5.25 9.5zM1220.4 262.4h10.5l-5.25 9.5zM1223.5 262.4h10.5l-5.25 9.5zM1226.6 262.5h10.5l-5.25 9.5zM1229.7 262.5h10.5l-5.25 9.5zM1232.9 262.6h10.5l-5.25 9.5zM1236.0 262.6h10.5l-5.25 9.5zM1239.1 262.7h10.5l-5.25 9.5zM1242.2 262.7h10.5l-5.25 9.5zM1245.3 262.8h10.5l-5.25 9.5zM1248.5 262.8h10.5l-5.25 9.5zM1251.6 262.9h10.5l-5.25 9.5zM1254.7 262.9h10.5l-5.25 9.5zM1257.8 263.0h10.5l-5.25 9.5zM1260.9 263.0h10.5l-5.25 9.5zM1264.1 263.0h10.5l-5.25 9.5zM1267.2 263.1h10.5l-5.25 9.5zM1270.3 263.1h10.5l-5.25 9.5zM1273.4 263.2h10.5l-5.25 9.5zM1276.5 263.2h10.5l-5.25 9.5zM1279.7 263.3h10.5l-5.25 9.5zM1282.8 263.3h10.5l-5.25 9.5zM1285.9 263.4h10.5l-5.25 9.5zM1289.0 263.4h10.5l-5.25 9.5zM1292.1 263.4h10.5l-5.25 9.5zM1295.3 263.5h10.5l-5.25 9.5zM1298.4 263.5h10.5l-5.25 9.5zM1301.5 263.6h10.5l-5.25 9.5zM1304.6 263.6h10.5l-5.25 9.5zM1307.7 263.6h10.5l-5.25 9.5zM1310.9 263.7h10.5l-5.25 9.5zM1314.0 263.7h10.5l-5.25 9.5zM1317.1 263.8h10.5l-5.25 9.5zM1320.2 263.8h10.5l-5.25 9.5zM1323.3 263.9h10.5l-5.25 9.5zM1326.5 263.9h10.5l-5.25 9.5zM1329.6 263.9h10.5l-5.25 9.5zM1332.7 264.0h10.5l-5.25 9.5zM1335.8 264.0h10.5l-5.25 9.5zM1338.9 264.1h10.5l-5.25 9.5zM1342.1 264.1h10.5l-5.25 9.5zM1345.2 264.1h10.5l-5.25 9.5zM1348.3 264.2h10.5l-5.25 9.5zM1351.4 264.2h10.5l-5.25 9.5zM1354.5 264.2h10.5l-5.25 9.5zM1357.7 264.3h10.5l-5.25 9.5zM1360.8 264.3h10.5l-5.25 9.5zM1363.9 264.4h10.5l-5.25 9.5zM1367.0 264.4h10.5l-5.25 9.5zM1370.1 264.4h10.5l-5.25 9.5zM1373.3 264.5h10.5l-5.25 9.5zM1376.4 264.5h10.5l-5.25 9.5zM1379.5 264.5h10.5l-5.25 9.5zM1382.6 264.6h10.5l-5.25 9.5zM1385.7 264.6h10.5l-5.25 9.5zM1388.9 264.7h10.5l-5.25 9.5zM1392.0 264.7h10.5l-5.25 9.5zM1395.1 264.7h10.5l-5.25 9.5zM1398.2 264.8h10.5l-5.25 9.5zM1401.3 264.8h10.5l-5.25 9.5zM1404.5 264.8h10.5l-5.25 9.5zM1407.6 264.9h10.5l-5.25 9.5zM1410.7 264.9h10.5l-5.25 9.5zM1413.8 264.9h10.5l-5.25 9.5zM1416.9 265.0h10.5l-5.25 9.5zM1420.1 265.0h10.5l-5.25 9.5zM1423.2 265.0h10.5l-5.25 9.5zM1426.3 265.1h10.5l-5.25 9.5zM1429.4 265.1h10.5l-5.25 9.5zM1432.5 265.1h10.5l-5.25 9.5zM1435.7 265.2h10.5l-5.25 9.5zM1438.8 265.2h10.5l-5.25 9.5zM1441.9 265.2h10.5l-5.25 9.5zM1445.0 265.3h10.5l-5.25 9.5zM1448.1 265.3h10.5l-5.25 9.5zM1451.3 265.3h10.5l-5.25 9.5zM1454.4 265.3h10.5l-5.25 9.5zM1457.5 265.4h10.5l-5.25 9.5zM1460.6 265.4h10.5l-5.25 9.5zM1463.7 265.5h10.5l-5.25 9.5zM1466.9 265.5h10.5l-5.25 9.5zM1470.0 265.5h10.5l-5.25 9.5zM1473.1 265.6h10.5l-5.25 9.5zM1476.2 265.6h10.5l-5.25 9.5zM1479.3 265.6h10.5l-5.25 9.5zM1482.5 265.7h10.5l-5.25 9.5zM1485.6 265.7h10.5l-5.25 9.5zM1488.7 265.7h10.5l-5.25 9.5zM1491.8 265.8h10.5l-5.25 9.5zM1494.9 265.8h10.5l-5.25 9.5zM1498.1 265.8h10.5l-5.25 9.5zM1501.2 265.9h10.5l-5.25 9.5zM1504.3 265.9h10.5l-5.25 9.5zM1507.4 265.9h10.5l-5.25 9.5zM1510.5 266.0h10.5l-5.25 9.5zM1513.7 266.0h10.5l-5.25 9.5zM1516.8 266.0h10.5l-5.25 9.5zM1519.9 266.0h10.5l-5.25 9.5zM1523.0 266.1h10.5l-5.25 9.5zM1526.1 266.1h10.5l-5.25 9.5zM1529.3 266.1h10.5l-5.25 9.5zM1532.4 266.1h10.5l-5.25 9.5zM1535.5 266.2h10.5l-5.25 9.5zM1538.6 266.2h10.5l-5.25 9.5zM1541.7 266.2h10.5l-5.25 9.5zM1544.9 266.2h10.5l-5.25 9.5zM1548.0 266.2h10.5l-5.25 9.5zM1551.1 266.2h10.5l-5.25 9.5zM1554.2 266.2h10.5l-5.25 9.5zM1557.3 266.2h10.5l-5.25 9.5zM1560.5 266.2h10.5l-5.25 9.5zM1563.6 266.2h10.5l-5.25 9.5zM1566.7 266.2h10.5l-5.25 9.5zM1569.8 266.2h10.5l-5.25 9.5zM1572.9 266.2h10.5l-5.25 9.5zM1576.1 266.2h10.5l-5.25 9.5zM1579.2 266.1h10.5l-5.25 9.5zM1582.3 266.1h10.5l-5.25 9.5zM1585.4 266.0h10.5l-5.25 9.5zM1588.5 266.0h10.5l-5.25 9.5zM1591.7 265.9h10.5l-5.25 9.5zM1594.8 265.8h10.5l-5.25 9.5zM1597.9 265.8h10.5l-5.25 9.5zM1601.0 265.7h10.5l-5.25 9.5zM1604.1 265.6h10.5l-5.25 9.5zM1607.3 265.6h10.5l-5.25 9.5zM1610.4 265.5h10.5l-5.25 9.5zM1613.5 265.4h10.5l-5.25 9.5zM1616.6 265.4h10.5l-5.25 9.5zM1619.7 265.3h10.5l-5.25 9.5zM1622.9 265.3h10.5l-5.25 9.5zM1626.0 265.2h10.5l-5.25 9.5zM1629.1 265.2h10.5l-5.25 9.5zM1632.2 265.2h10.5l-5.25 9.5zM1635.3 265.2h10.5l-5.25 9.5zM1638.5 265.2h10.5l-5.25 9.5zM1641.6 265.1h10.5l-5.25 9.5zM1644.7 265.1h10.5l-5.25 9.5zM1647.8 265.1h10.5l-5.25 9.5zM1650.9 265.1h10.5l-5.25 9.5zM1654.1 265.1h10.5l-5.25 9.5zM1657.2 265.1h10.5l-5.25 9.5zM1660.3 265.1h10.5l-5.25 9.5zM1663.4 265.1h10.5l-5.25 9.5zM1666.5 265.0h10.5l-5.25 9.5zM1669.7 265.0h10.5l-5.25 9.5zM1672.8 265.0h10.5l-5.25 9.5zM1675.9 265.0h10.5l-5.25 9.5zM1679.0 265.0h10.5l-5.25 9.5zM1682.1 264.9h10.5l-5.25 9.5zM1685.3 264.9h10.5l-5.25 9.5zM1688.4 264.9h10.5l-5.25 9.5zM1691.5 264.8h10.5l-5.25 9.5zM1694.6 264.8h10.5l-5.25 9.5zM1697.7 264.4h10.5l-5.25 9.5zM1700.9 263.7h10.5l-5.25 9.5zM1704.0 263.2h10.5l-5.25 9.5zM1707.1 262.9h10.5l-5.25 9.5zM1710.2 262.6h10.5l-5.25 9.5zM1713.3 262.4h10.5l-5.25 9.5zM1716.5 262.1h10.5l-5.25 9.5zM1719.6 261.7h10.5l-5.25 9.5zM1722.7 261.3h10.5l-5.25 9.5zM1725.8 260.7h10.5l-5.25 9.5zM1728.9 260.1h10.5l-5.25 9.5zM1732.1 259.4h10.5l-5.25 9.5zM1735.2 258.6h10.5l-5.25 9.5zM1738.3 257.8h10.5l-5.25 9.5zM1741.4 256.8h10.5l-5.25 9.5zM1744.5 255.7h10.5l-5.25 9.5zM1747.7 254.2h10.5l-5.25 9.5zM1750.8 252.1h10.5l-5.25 9.5zM1753.9 248.7h10.5l-5.25 9.5zM1757.0 245.5h10.5l-5.25 9.5zM1760.1 242.4h10.5l-5.25 9.5zM1763.3 238.4h10.5l-5.25 9.5zM1766.4 234.0h10.5l-5.25 9.5zM1769.5 229.0h10.5l-5.25 9.5zM1772.6 222.5h10.5l-5.25 9.5zM1775.7 213.8h10.5l-5.25 9.5zM1778.9 200.1h10.5l-5.25 9.5zM1782.0 188.1h10.5l-5.25 9.5zM1785.1 173.6h10.5l-5.25 9.5zM1788.2 165.0h10.5l-5.25 9.5zM1791.3 162.5h10.5l-5.25 9.5zM1794.5 161.8h10.5l-5.25 9.5zM1797.6 163.0h10.5l-5.25 9.5zM1800.7 166.2h10.5l-5.25 9.5zM1803.8 175.1h10.5l-5.25 9.5zM1806.9 186.5h10.5l-5.25 9.5zM1810.1 198.8h10.5l-5.25 9.5zM1813.2 209.6h10.5l-5.25 9.5zM1816.3 218.9h10.5l-5.25 9.5zM1819.4 227.0h10.5l-5.25 9.5zM1822.5 232.6h10.5l-5.25 9.5zM1825.7 236.8h10.5l-5.25 9.5zM1828.8 239.9h10.5l-5.25 9.5zM1831.9 243.0h10.5l-5.25 9.5zM1835.0 246.6h10.5l-5.25 9.5zM1838.1 249.6h10.5l-5.25 9.5zM1841.3 251.1h10.5l-5.25 9.5zM1844.4 252.0h10.5l-5.25 9.5zM1847.5 252.8h10.5l-5.25 9.5zM1850.6 253.4h10.5l-5.25 9.5zM1853.7 254.0h10.5l-5.25 9.5z" fill="#ff0000" /><path d="M1151.0 251.7h12l-6.0 11.5zM1154.1 251.8h12l-6.0 11.5zM1157.2 251.8h12l-6.0 11.5zM1160.4 251.8h12l-6.0 11.5zM1163.5 251.8h12l-6.0 11.5zM1166.6 251.8h12l-6.0 11.5zM1169.7 251.9h12l-6.0 11.5zM1172.8 251.9h12l-6.0 11.5zM1176.0 251.9h12l-6.0 11.5zM1179.1 251.9h12l-6.0 11.5zM1182.2 252.0h12l-6.0 11.5zM1185.3 252.0h12l-6.0 11.5zM1188.4 252.0h12l-6.0 11.5zM1191.6 252.0h12l-6.0 11.5zM1194.7 252.1h12l-6.0 11.5zM1197.8 252.1h12l-6.0 11.5zM1200.9 252.1h12l-6.0 11.5zM1204.0 252.2h12l-6.0 11.5zM1207.2 252.2h12l-6.0 11.5zM1210.3 252.2h12l-6.0 11.5zM1213.4 252.3h12l-6.0 11.5zM1216.5 252.3h12l-6.0 11.5zM1219.6 252.3h12l-6.0 11.5zM1222.8 252.4h12l-6.0 11.5zM1225.9 252.4h12l-6.0 11.5zM1229.0 252.4h12l-6.0 11.5zM1232.1 252.5h12l-6.0 11.5zM1235.2 252.5h12l-6.0 11.5zM1238.4 252.5h12l-6.0 11.5zM1241.5 252.6h12l-6.0 11.5zM1244.6 252.6h12l-6.0 11.5zM1247.7 252.6h12l-6.0 11.5zM1250.8 252.7h12l-6.0 11.5zM1254.0 252.7h12l-6.0 11.5zM1257.1 252.8h12l-6.0 11.5zM1260.2 252.8h12l-6.0 11.5zM1263.3 252.8h12l-6.0 11.5zM1266.4 252.9h12l-6.0 11.5zM1269.6 252.9h12l-6.0 11.5zM1272.7 253.0h12l-6.0 11.5zM1275.8 253.0h12l-6.0 11.5zM1278.9 253.0h12l-6.0 11.5zM1282.0 253.1h12l-6.0 11.5zM1285.2 253.1h12l-6.0 11.5zM1288.3 253.2h12l-6.0 11.5zM1291.4 253.2h12l-6.0 11.5zM1294.5 253.3h12l-6.0 11.5zM1297.6 253.3h12l-6.0 11.5zM1300.8 253.3h12l-6.0 11.5zM1303.9 253.4h12l-6.0 11.5zM1307.0 253.4h12l-6.0 11.5zM1310.1 253.5h12l-6.0 11.5zM1313.2 253.6h12l-6.0 11.5zM1316.4 253.6h12l-6.0 11.5zM1319.5 253.7h12l-6.0 11.5zM1322.6 253.7h12l-6.0 11.5zM1325.7 253.8h12l-6.0 11.5zM1328.8 253.9h12l-6.0 11.5zM1332.0 253.9h12l-6.0 11.5zM1335.1 254.0h12l-6.0 11.5zM1338.2 254.0h12l-6.0 11.5zM1341.3 254.1h12l-6.0 11.5zM1344.4 254.2h12l-6.0 11.5zM1347.6 254.2h12l-6.0 11.5zM1350.7 254.3h12l-6.0 11.5zM1353.8 254.4h12l-6.0 11.5zM1356.9 254.4h12l-6.0 11.5zM1360.0 254.5h12l-6.0 11.5zM1363.2 254.6h12l-6.0 11.5zM1366.3 254.7h12l-6.0 11.5zM1369.4 254.7h12l-6.0 11.5zM1372.5 254.8h12l-6.0 11.5zM1375.6 254.9h12l-6.0 11.5zM1378.8 254.9h12l-6.0 11.5zM1381.9 255.0h12l-6.0 11.5zM1385.0 255.1h12l-6.0 11.5zM1388.1 255.2h12l-6.0 11.5zM1391.2 255.2h12l-6.0 11.5zM1394.4 255.3h12l-6.0 11.5zM1397.5 255.4h12l-6.0 11.5zM1400.6 255.4h12l-6.0 11.5zM1403.7 255.5h12l-6.0 11.5zM1406.8 255.6h12l-6.0 11.5zM1410.0 255.6h12l-6.0 11.5zM1413.1 255.7h12l-6.0 11.5zM1416.2 255.8h12l-6.0 11.5zM1419.3 255.8h12l-6.0 11.5zM1422.4 255.9h12l-6.0 11.5zM1425.6 255.9h12l-6.0 11.5zM1428.7 256.0h12l-6.0 11.5zM1431.8 256.0h12l-6.0 11.5zM1434.9 256.1h12l-6.0 11.5zM1438.0 256.2h12l-6.0 11.5zM1441.2 256.2h12l-6.0 11.5zM1444.3 256.3h12l-6.0 11.5zM1447.4 256.3h12l-6.0 11.5zM1450.5 256.4h12l-6.0 11.5zM1453.6 256.4h12l-6.0 11.5zM1456.8 256.5h12l-6.0 11.5zM1459.9 256.5h12l-6.0 11.5zM1463.0 256.6h12l-6.0 11.5zM1466.1 256.6h12l-6.0 11.5zM1469.2 256.7h12l-6.0 11.5zM1472.4 256.7h12l-6.0 11.5zM1475.5 256.8h12l-6.0 11.5zM1478.6 256.8h12l-6.0 11.5zM1481.7 256.9h12l-6.0 11.5zM1484.8 256.9h12l-6.0 11.5zM1488.0 257.0h12l-6.0 11.5zM1491.1 257.0h12l-6.0 11.5zM1494.2 257.1h12l-6.0 11.5zM1497.3 257.1h12l-6.0 11.5zM1500.4 257.1h12l-6.0 11.5zM1503.6 257.2h12l-6.0 11.5zM1506.7 257.2h12l-6.0 11.5zM1509.8 257.2h12l-6.0 11.5zM1512.9 257.2h12l-6.0 11.5zM1516.0 257.2h12l-6.0 11.5zM1519.2 257.2h12l-6.0 11.5zM1522.3 257.2h12l-6.0 11.5zM1525.4 257.2h12l-6.0 11.5zM1528.5 257.2h12l-6.0 11.5zM1531.6 257.2h12l-6.0 11.5zM1534.8 257.2h12l-6.0 11.5zM1537.9 257.2h12l-6.0 11.5zM1541.0 257.1h12l-6.0 11.5zM1544.1 257.1h12l-6.0 11.5zM1547.2 257.1h12l-6.0 11.5zM1550.4 257.0h12l-6.0 11.5zM1553.5 257.0h12l-6.0 11.5zM1556.6 256.9h12l-6.0 11.5zM1559.7 256.9h12l-6.0 11.5zM1562.8 256.8h12l-6.0 11.5zM1566.0 256.7h12l-6.0 11.5zM1569.1 256.6h12l-6.0 11.5zM1572.2 256.4h12l-6.0 11.5zM1575.3 256.1h12l-6.0 11.5zM1578.4 255.7h12l-6.0 11.5zM1581.6 255.3h12l-6.0 11.5zM1584.7 254.9h12l-6.0 11.5zM1587.8 254.5h12l-6.0 11.5zM1590.9 254.1h12l-6.0 11.5zM1594.0 253.7h12l-6.0 11.5zM1597.2 253.4h12l-6.0 11.5zM1600.3 253.0h12l-6.0 11.5zM1603.4 252.6h12l-6.0 11.5zM1606.5 252.2h12l-6.0 11.5zM1609.6 251.8h12l-6.0 11.5zM1612.8 251.4h12l-6.0 11.5zM1615.9 250.9h12l-6.0 11.5zM1619.0 250.5h12l-6.0 11.5zM1622.1 249.9h12l-6.0 11.5zM1625.2 249.4h12l-6.0 11.5zM1628.4 248.9h12l-6.0 11.5zM1631.5 248.4h12l-6.0 11.5zM1634.6 247.8h12l-6.0 11.5zM1637.7 247.2h12l-6.0 11.5zM1640.8 246.5h12l-6.0 11.5zM1644.0 245.7h12l-6.0 11.5zM1647.1 244.9h12l-6.0 11.5zM1650.2 244.0h12l-6.0 11.5zM1653.3 243.0h12l-6.0 11.5zM1656.4 241.8h12l-6.0 11.5zM1659.6 240.2h12l-6.0 11.5zM1662.7 238.1h12l-6.0 11.5zM1665.8 235.6h12l-6.0 11.5zM1668.9 232.9h12l-6.0 11.5zM1672.0 230.1h12l-6.0 11.5zM1675.2 227.2h12l-6.0 11.5zM1678.3 224.1h12l-6.0 11.5zM1681.4 220.8h12l-6.0 11.5zM1684.5 217.2h12l-6.0 11.5zM1687.6 213.3h12l-6.0 11.5zM1690.8 209.1h12l-6.0 11.5zM1693.9 204.4h12l-6.0 11.5zM1697.0 198.9h12l-6.0 11.5zM1700.1 192.3h12l-6.0 11.5zM1703.2 185.0h12l-6.0 11.5zM1706.4 177.6h12l-6.0 11.5zM1709.5 170.7h12l-6.0 11.5zM1712.6 164.6h12l-6.0 11.5zM1715.7 159.1h12l-6.0 11.5zM1718.8 153.9h12l-6.0 11.5zM1722.0 149.0h12l-6.0 11.5zM1725.1 144.2h12l-6.0 11.5zM1728.2 138.8h12l-6.0 11.5zM1731.3 134.4h12l-6.0 11.5zM1734.4 132.5h12l-6.0 11.5zM1737.6 131.8h12l-6.0 11.5zM1740.7 132.4h12l-6.0 11.5zM1743.8 133.9h12l-6.0 11.5zM1746.9 136.0h12l-6.0 11.5zM1750.0 140.6h12l-6.0 11.5zM1753.2 147.3h12l-6.0 11.5zM1756.3 154.7h12l-6.0 11.5zM1759.4 161.6h12l-6.0 11.5zM1762.5 167.5h12l-6.0 11.5zM1765.6 173.3h12l-6.0 11.5zM1768.8 179.0h12l-6.0 11.5zM1771.9 184.6h12l-6.0 11.5zM1775.0 189.9h12l-6.0 11.5zM1778.1 195.0h12l-6.0 11.5zM1781.2 200.1h12l-6.0 11.5zM1784.4 205.0h12l-6.0 11.5zM1787.5 209.6h12l-6.0 11.5zM1790.6 213.8h12l-6.0 11.5zM1793.7 217.7h12l-6.0 11.5zM1796.8 221.3h12l-6.0 11.5zM1800.0 224.7h12l-6.0 11.5zM1803.1 227.8h12l-6.0 11.5zM1806.2 230.6h12l-6.0 11.5zM1809.3 233.1h12l-6.0 11.5zM1812.4 235.3h12l-6.0 11.5zM1815.6 237.4h12l-6.0 11.5zM1818.7 239.3h12l-6.0 11.5zM1821.8 241.0h12l-6.0 11.5zM1824.9 242.4h12l-6.0 11.5zM1828.0 243.7h12l-6.0 11.5zM1831.2 244.9h12l-6.0 11.5zM1834.3 246.0h12l-6.0 11.5zM1837.4 247.0h12l-6.0 11.5zM1840.5 248.0h12l-6.0 11.5zM1843.6 248.9h12l-6.0 11.5zM1846.8 249.7h12l-6.0 11.5zM1849.9 250.5h12l-6.0 11.5zM1853.0 251.3h12l-6.0 11.5zM1856.1 252.1h12l-6.0 11.5zM1859.2 252.8h12l-6.0 11.5zM1862.4 253.5h12l-6.0 11.5zM1865.5 254.1h12l-6.0 11.5zM1868.6 254.8h12l-6.0 11.5zM1871.7 255.5h12l-6.0 11.5zM1874.8 256.1h12l-6.0 11.5zM1878.0 256.7h12l-6.0 11.5zM1881.1 257.3h12l-6.0 11.5zM1884.2 257.8h12l-6.0 11.5zM1887.3 258.4h12l-6.0 11.5zM1890.4 258.9h12l-6.0 11.5zM1893.6 259.4h12l-6.0 11.5zM1896.7 259.9h12l-6.0 11.5zM1899.8 260.3h12l-6.0 11.5zM1902.9 260.7h12l-6.0 11.5zM1906.0 261.1h12l-6.0 11.5zM1909.2 261.4h12l-6.0 11.5zM1912.3 261.8h12l-6.0 11.5zM1915.4 262.1h12l-6.0 11.5zM1918.5 262.4h12l-6.0 11.5zM1921.6 262.6h12l-6.0 11.5zM1924.8 262.9h12l-6.0 11.5zM1927.9 263.2h12l-6.0 11.5zM1931.0 263.4h12l-6.0 11.5zM1934.1 263.6h12l-6.0 11.5zM1937.2 263.9h12l-6.0 11.5zM1940.4 264.1h12l-6.0 11.5zM1943.5 264.3h12l-6.0 11.5zM1946.6 264.5h12l-6.0 11.5zM1949.7 264.7h12l-6.0 11.5zM1952.8 265.0h12l-6.0 11.5zM1956.0 265.2h12l-6.0 11.5zM1959.1 265.4h12l-6.0 11.5zM1962.2 265.6h12l-6.0 11.5zM1965.3 265.9h12l-6.0 11.5zM1968.4 266.1h12l-6.0 11.5zM1971.6 266.3h12l-6.0 11.5zM1974.7 266.5h12l-6.0 11.5zM1977.8 266.8h12l-6.0 11.5zM1980.9 267.0h12l-6.0 11.5zM1984.0 267.2h12l-6.0 11.5zM1987.2 267.4h12l-6.0 11.5zM1990.3 267.6h12l-6.0 11.5zM1993.4 267.8h12l-6.0 11.5zM1996.5 268.0h12l-6.0 11.5zM1999.6 268.2h12l-6.0 11.5zM2002.8 268.4h12l-6.0 11.5zM2005.9 268.6h12l-6.0 11.5zM2009.0 268.8h12l-6.0 11.5zM2012.1 269.0h12l-6.0 11.5zM2015.2 269.2h12l-6.0 11.5z" fill="#0000ff" /><path d="M1762.8 239.1h10.5l-5.25 9.5zM1765.9 234.7h10.5l-5.25 9.5zM1769.0 230.0h10.5l-5.25 9.5zM1772.1 223.6h10.5l-5.25 9.5zM1775.2 215.8h10.5l-5.25 9.5zM1778.3 202.0h10.5l-5.25 9.5zM1781.5 190.5h10.5l-5.25 9.5zM1784.6 175.9h10.5l-5.25 9.5zM1787.7 166.0h10.5l-5.25 9.5zM1790.8 162.7h10.5l-5.25 9.5zM1793.9 161.8h10.5l-5.25 9.5zM1797.1 162.7h10.5l-5.25 9.5zM1800.2 165.3h10.5l-5.25 9.5zM1803.3 173.5h10.5l-5.25 9.5zM1806.4 184.5h10.5l-5.25 9.5zM1809.5 196.9h10.5l-5.25 9.5zM1812.7 207.9h10.5l-5.25 9.5zM1815.8 217.5h10.5l-5.25 9.5zM1818.9 225.8h10.5l-5.25 9.5zM1822.0 231.8h10.5l-5.25 9.5z" fill="#ff0000" /><path d="M1149.0 613.3h16l-8.0 14zM1152.1 613.5h16l-8.0 14zM1155.2 613.7h16l-8.0 14zM1158.4 614.0h16l-8.0 14zM1161.5 614.2h16l-8.0 14zM1164.6 614.4h16l-8.0 14zM1167.7 614.6h16l-8.0 14zM1170.8 614.9h16l-8.0 14zM1174.0 615.1h16l-8.0 14zM1177.1 615.3h16l-8.0 14zM1180.2 615.5h16l-8.0 14zM1183.3 615.7h16l-8.0 14zM1186.4 615.9h16l-8.0 14zM1189.6 616.1h16l-8.0 14zM1192.7 616.3h16l-8.0 14zM1195.8 616.5h16l-8.0 14zM1198.9 616.7h16l-8.0 14zM1202.0 616.9h16l-8.0 14zM1205.2 617.1h16l-8.0 14zM1208.3 617.3h16l-8.0 14zM1211.4 617.5h16l-8.0 14zM1214.5 617.7h16l-8.0 14zM1217.6 617.8h16l-8.0 14zM1220.8 618.0h16l-8.0 14zM1223.9 618.2h16l-8.0 14zM1227.0 618.3h16l-8.0 14zM1230.1 618.5h16l-8.0 14zM1233.2 618.6h16l-8.0 14zM1236.4 618.8h16l-8.0 14zM1239.5 618.9h16l-8.0 14zM1242.6 619.0h16l-8.0 14zM1245.7 619.2h16l-8.0 14zM1248.8 619.3h16l-8.0 14zM1252.0 619.4h16l-8.0 14zM1255.1 619.5h16l-8.0 14zM1258.2 619.6h16l-8.0 14zM1261.3 619.7h16l-8.0 14zM1264.4 619.8h16l-8.0 14zM1267.6 619.9h16l-8.0 14zM1270.7 620.0h16l-8.0 14zM1273.8 620.1h16l-8.0 14zM1276.9 620.1h16l-8.0 14zM1280.0 620.2h16l-8.0 14zM1283.2 620.3h16l-8.0 14zM1286.3 620.4h16l-8.0 14zM1289.4 620.4h16l-8.0 14zM1292.5 620.5h16l-8.0 14zM1295.6 620.5h16l-8.0 14zM1298.8 620.6h16l-8.0 14zM1301.9 620.7h16l-8.0 14zM1305.0 620.7h16l-8.0 14zM1308.1 620.8h16l-8.0 14zM1311.2 620.8h16l-8.0 14zM1314.4 620.9h16l-8.0 14zM1317.5 620.9h16l-8.0 14zM1320.6 621.0h16l-8.0 14zM1323.7 621.0h16l-8.0 14zM1326.8 621.1h16l-8.0 14zM1330.0 621.1h16l-8.0 14zM1333.1 621.2h16l-8.0 14zM1336.2 621.2h16l-8.0 14zM1339.3 621.3h16l-8.0 14zM1342.4 621.3h16l-8.0 14zM1345.6 621.4h16l-8.0 14zM1348.7 621.4h16l-8.0 14zM1351.8 621.5h16l-8.0 14zM1354.9 621.5h16l-8.0 14zM1358.0 621.5h16l-8.0 14zM1361.2 621.6h16l-8.0 14zM1364.3 621.6h16l-8.0 14zM1367.4 621.6h16l-8.0 14zM1370.5 621.7h16l-8.0 14zM1373.6 621.7h16l-8.0 14zM1376.8 621.8h16l-8.0 14zM1379.9 621.8h16l-8.0 14zM1383.0 621.8h16l-8.0 14zM1386.1 621.9h16l-8.0 14zM1389.2 621.9h16l-8.0 14zM1392.4 621.9h16l-8.0 14zM1395.5 622.0h16l-8.0 14zM1398.6 622.0h16l-8.0 14zM1401.7 622.0h16l-8.0 14zM1404.8 622.1h16l-8.0 14zM1408.0 622.1h16l-8.0 14zM1411.1 622.1h16l-8.0 14zM1414.2 622.1h16l-8.0 14zM1417.3 622.2h16l-8.0 14zM1420.4 622.2h16l-8.0 14zM1423.6 622.3h16l-8.0 14zM1426.7 622.3h16l-8.0 14zM1429.8 622.3h16l-8.0 14zM1432.9 622.4h16l-8.0 14zM1436.0 622.4h16l-8.0 14zM1439.2 622.4h16l-8.0 14zM1442.3 622.4h16l-8.0 14zM1445.4 622.5h16l-8.0 14zM1448.5 622.5h16l-8.0 14zM1451.6 622.5h16l-8.0 14zM1454.8 622.6h16l-8.0 14zM1457.9 622.6h16l-8.0 14zM1461.0 622.6h16l-8.0 14zM1464.1 622.7h16l-8.0 14zM1467.2 622.7h16l-8.0 14zM1470.4 622.7h16l-8.0 14zM1473.5 622.7h16l-8.0 14zM1476.6 622.8h16l-8.0 14zM1479.7 622.8h16l-8.0 14zM1482.8 622.8h16l-8.0 14zM1486.0 622.8h16l-8.0 14zM1489.1 622.9h16l-8.0 14zM1492.2 622.9h16l-8.0 14zM1495.3 622.9h16l-8.0 14zM1498.4 622.9h16l-8.0 14zM1501.6 622.9h16l-8.0 14zM1504.7 622.9h16l-8.0 14zM1507.8 623.0h16l-8.0 14zM1510.9 623.0h16l-8.0 14zM1514.0 623.0h16l-8.0 14zM1517.2 623.0h16l-8.0 14zM1520.3 623.0h16l-8.0 14zM1523.4 623.0h16l-8.0 14zM1526.5 623.0h16l-8.0 14zM1529.6 623.0h16l-8.0 14zM1532.8 623.0h16l-8.0 14zM1535.9 623.0h16l-8.0 14zM1539.0 622.9h16l-8.0 14zM1542.1 622.9h16l-8.0 14zM1545.2 622.8h16l-8.0 14zM1548.4 622.7h16l-8.0 14zM1551.5 622.6h16l-8.0 14zM1554.6 622.5h16l-8.0 14zM1557.7 622.3h16l-8.0 14zM1560.8 622.2h16l-8.0 14zM1564.0 622.0h16l-8.0 14zM1567.1 621.8h16l-8.0 14zM1570.2 621.7h16l-8.0 14zM1573.3 621.5h16l-8.0 14zM1576.4 621.3h16l-8.0 14zM1579.6 621.0h16l-8.0 14zM1582.7 620.8h16l-8.0 14zM1585.8 620.6h16l-8.0 14zM1588.9 620.3h16l-8.0 14zM1592.0 620.1h16l-8.0 14zM1595.2 619.8h16l-8.0 14zM1598.3 619.4h16l-8.0 14zM1601.4 618.8h16l-8.0 14zM1604.5 618.2h16l-8.0 14zM1607.6 617.5h16l-8.0 14zM1610.8 616.7h16l-8.0 14zM1613.9 615.8h16l-8.0 14zM1617.0 614.8h16l-8.0 14zM1620.1 613.9h16l-8.0 14zM1623.2 612.9h16l-8.0 14zM1626.4 611.8h16l-8.0 14zM1629.5 610.8h16l-8.0 14zM1632.6 609.8h16l-8.0 14zM1635.7 608.7h16l-8.0 14zM1638.8 607.4h16l-8.0 14zM1642.0 606.0h16l-8.0 14zM1645.1 604.6h16l-8.0 14zM1648.2 603.1h16l-8.0 14zM1651.3 601.7h16l-8.0 14zM1654.4 600.4h16l-8.0 14zM1657.6 599.2h16l-8.0 14zM1660.7 598.1h16l-8.0 14zM1663.8 597.2h16l-8.0 14zM1666.9 596.3h16l-8.0 14zM1670.0 595.6h16l-8.0 14zM1673.2 594.8h16l-8.0 14zM1676.3 594.1h16l-8.0 14zM1679.4 593.4h16l-8.0 14zM1682.5 592.7h16l-8.0 14zM1685.6 591.9h16l-8.0 14zM1688.8 590.9h16l-8.0 14zM1691.9 589.9h16l-8.0 14zM1695.0 588.8h16l-8.0 14zM1698.1 587.4h16l-8.0 14zM1701.2 585.9h16l-8.0 14zM1704.4 583.7h16l-8.0 14zM1707.5 580.7h16l-8.0 14zM1710.6 577.0h16l-8.0 14zM1713.7 572.7h16l-8.0 14zM1716.8 568.0h16l-8.0 14zM1720.0 563.0h16l-8.0 14zM1723.1 557.8h16l-8.0 14zM1726.2 551.7h16l-8.0 14zM1729.3 544.6h16l-8.0 14zM1732.4 536.9h16l-8.0 14zM1735.6 528.4h16l-8.0 14zM1738.7 519.0h16l-8.0 14zM1741.8 508.8h16l-8.0 14zM1744.9 497.5h16l-8.0 14zM1748.0 484.2h16l-8.0 14zM1751.2 470.1h16l-8.0 14zM1754.3 456.5h16l-8.0 14zM1757.4 442.1h16l-8.0 14zM1760.5 426.2h16l-8.0 14zM1763.6 409.8h16l-8.0 14zM1766.8 394.2h16l-8.0 14zM1769.9 381.6h16l-8.0 14zM1773.0 367.2h16l-8.0 14zM1776.1 354.2h16l-8.0 14zM1779.2 340.7h16l-8.0 14zM1782.4 329.6h16l-8.0 14zM1785.5 323.1h16l-8.0 14zM1788.6 319.3h16l-8.0 14zM1791.7 318.1h16l-8.0 14zM1794.8 319.9h16l-8.0 14zM1798.0 324.8h16l-8.0 14zM1801.1 331.6h16l-8.0 14zM1804.2 340.8h16l-8.0 14zM1807.3 354.3h16l-8.0 14zM1810.4 367.5h16l-8.0 14zM1813.6 381.8h16l-8.0 14zM1816.7 400.7h16l-8.0 14zM1819.8 420.1h16l-8.0 14zM1822.9 438.3h16l-8.0 14zM1826.0 455.1h16l-8.0 14zM1829.2 471.2h16l-8.0 14zM1832.3 487.6h16l-8.0 14zM1835.4 504.4h16l-8.0 14zM1838.5 520.6h16l-8.0 14zM1841.6 535.0h16l-8.0 14zM1844.8 546.9h16l-8.0 14zM1847.9 558.2h16l-8.0 14zM1851.0 568.6h16l-8.0 14zM1854.1 577.8h16l-8.0 14zM1857.2 585.6h16l-8.0 14zM1860.4 591.6h16l-8.0 14zM1863.5 596.4h16l-8.0 14zM1866.6 600.6h16l-8.0 14zM1869.7 604.3h16l-8.0 14zM1872.8 607.4h16l-8.0 14zM1876.0 610.2h16l-8.0 14zM1879.1 612.6h16l-8.0 14zM1882.2 615.0h16l-8.0 14zM1885.3 617.2h16l-8.0 14zM1888.4 619.1h16l-8.0 14zM1891.6 620.5h16l-8.0 14zM1894.7 621.4h16l-8.0 14zM1897.8 621.9h16l-8.0 14zM1900.9 622.5h16l-8.0 14zM1904.0 623.0h16l-8.0 14zM1907.2 623.5h16l-8.0 14zM1910.3 623.9h16l-8.0 14zM1913.4 624.3h16l-8.0 14zM1916.5 624.6h16l-8.0 14zM1919.6 625.0h16l-8.0 14zM1922.8 625.3h16l-8.0 14zM1925.9 625.6h16l-8.0 14zM1929.0 625.8h16l-8.0 14zM1932.1 626.1h16l-8.0 14zM1935.2 626.3h16l-8.0 14zM1938.4 626.5h16l-8.0 14zM1941.5 626.7h16l-8.0 14zM1944.6 626.9h16l-8.0 14zM1947.7 627.1h16l-8.0 14zM1950.8 627.3h16l-8.0 14zM1954.0 627.4h16l-8.0 14zM1957.1 627.6h16l-8.0 14zM1960.2 627.8h16l-8.0 14zM1963.3 628.0h16l-8.0 14zM1966.4 628.1h16l-8.0 14zM1969.6 628.3h16l-8.0 14zM1972.7 628.5h16l-8.0 14zM1975.8 628.6h16l-8.0 14zM1978.9 628.8h16l-8.0 14zM1982.0 628.9h16l-8.0 14zM1985.2 629.0h16l-8.0 14zM1988.3 629.2h16l-8.0 14zM1991.4 629.3h16l-8.0 14zM1994.5 629.4h16l-8.0 14zM1997.6 629.5h16l-8.0 14zM2000.8 629.6h16l-8.0 14zM2003.9 629.7h16l-8.0 14zM2007.0 629.7h16l-8.0 14zM2010.1 629.8h16l-8.0 14z" fill="#ff0000" /></g><line x1="1685.50" y1="148.50" x2="1724.60" y2="199.60" stroke="#0000ff" stroke-width="5.5" stroke-linecap="round"/><line x1="1800.30" y1="197.50" x2="1854.70" y2="160.90" stroke="#ff0000" stroke-width="5.5" stroke-linecap="round"/><rect x="1157.0" y="9.0" width="874.10" height="652.60" fill="none" stroke="#000" stroke-width="4.9" stroke-linejoin="round"/><line x1="2031.02" y1="661.60" x2="2031.02" y2="676.10" stroke="#000" stroke-width="4" stroke-linecap="round"/><line x1="1968.59" y1="661.60" x2="1968.59" y2="670.10" stroke="#000" stroke-width="4" stroke-linecap="round"/><line x1="1906.16" y1="661.60" x2="1906.16" y2="676.10" stroke="#000" stroke-width="4" stroke-linecap="round"/><line x1="1843.73" y1="661.60" x2="1843.73" y2="670.10" stroke="#000" stroke-width="4" stroke-linecap="round"/><line x1="1781.30" y1="661.60" x2="1781.30" y2="676.10" stroke="#000" stroke-width="4" stroke-linecap="round"/><line x1="1718.87" y1="661.60" x2="1718.87" y2="670.10" stroke="#000" stroke-width="4" stroke-linecap="round"/><line x1="1656.44" y1="661.60" x2="1656.44" y2="676.10" stroke="#000" stroke-width="4" stroke-linecap="round"/><line x1="1594.01" y1="661.60" x2="1594.01" y2="670.10" stroke="#000" stroke-width="4" stroke-linecap="round"/><line x1="1531.58" y1="661.60" x2="1531.58" y2="676.10" stroke="#000" stroke-width="4" stroke-linecap="round"/><line x1="1469.15" y1="661.60" x2="1469.15" y2="670.10" stroke="#000" stroke-width="4" stroke-linecap="round"/><line x1="1406.72" y1="661.60" x2="1406.72" y2="676.10" stroke="#000" stroke-width="4" stroke-linecap="round"/><line x1="1344.29" y1="661.60" x2="1344.29" y2="670.10" stroke="#000" stroke-width="4" stroke-linecap="round"/><line x1="1281.86" y1="661.60" x2="1281.86" y2="676.10" stroke="#000" stroke-width="4" stroke-linecap="round"/><line x1="1219.43" y1="661.60" x2="1219.43" y2="670.10" stroke="#000" stroke-width="4" stroke-linecap="round"/><line x1="1157.00" y1="661.60" x2="1157.00" y2="676.10" stroke="#000" stroke-width="4" stroke-linecap="round"/><text x="1992.52" y="723.00" font-size="51.00" font-weight="bold" fill="#000">526</text><text x="1867.78" y="723.00" font-size="51.00" font-weight="bold" fill="#000">528</text><text x="1743.05" y="723.00" font-size="51.00" font-weight="bold" fill="#000">530</text><text x="1618.32" y="723.00" font-size="51.00" font-weight="bold" fill="#000">532</text><text x="1492.83" y="723.00" font-size="51.00" font-weight="bold" fill="#000">534</text><text x="1368.22" y="723.00" font-size="51.00" font-weight="bold" fill="#000">536</text><text x="1243.48" y="723.00" font-size="51.00" font-weight="bold" fill="#000">538</text><text x="1118.75" y="723.00" font-size="51.00" font-weight="bold" fill="#000">540</text><text x="1056.20" y="51.00" font-size="56.21" font-weight="bold" fill="#000">(b)</text><text x="1234.90" y="85.00" font-size="50.95" font-weight="bold" fill="#000">O1s XPS</text><text x="1224.15" y="215.50" font-size="45.33" font-weight="bold" fill="#000">Black TiO</text><text x="1423.75" y="215.50" font-size="29.88" font-weight="bold" fill="#000">2</text><text x="1660.70" y="146.50" font-size="29.41" font-weight="bold" fill="#000">OH</text><text x="1858.20" y="161.70" font-size="34.71" font-weight="normal" fill="#000" stroke="#000" stroke-width="0.7">O</text><text x="1882.75" y="145.60" font-size="31.50" font-weight="normal" fill="#000" stroke="#000" stroke-width="0.7">2-</text><text x="1810.35" y="312.50" font-size="33.77" font-weight="normal" fill="#000" stroke="#000" stroke-width="0.7">O</text><text x="1834.75" y="296.50" font-size="31.50" font-weight="normal" fill="#000" stroke="#000" stroke-width="0.7">2-</text><text x="1222.25" y="576.60" font-size="45.14" font-weight="bold" fill="#ff0000">P25</text><text x="1390.85" y="787.70" font-size="50.32" font-weight="bold" fill="#000">Binding Energy/eV</text><text transform="translate(1096.20,487.05) rotate(-90)" font-size="51.24" font-weight="bold">Intensity (a.u.)</text><clipPath id="cc"><rect x="88" y="870" width="880" height="655"/></clipPath><g clip-path="url(#cc)"><path d="M80.5 1460.4h11v11h-11zM84.7 1460.6h11v11h-11zM88.8 1460.9h11v11h-11zM93.0 1461.1h11v11h-11zM97.1 1461.4h11v11h-11zM101.3 1461.6h11v11h-11zM105.4 1461.9h11v11h-11zM109.6 1462.1h11v11h-11zM113.7 1462.4h11v11h-11zM117.9 1462.6h11v11h-11zM122.0 1462.9h11v11h-11zM126.2 1463.1h11v11h-11zM130.3 1463.4h11v11h-11zM134.5 1463.6h11v11h-11zM138.6 1463.9h11v11h-11zM142.8 1464.1h11v11h-11zM146.9 1464.4h11v11h-11zM151.1 1464.6h11v11h-11zM155.2 1464.9h11v11h-11zM159.4 1465.1h11v11h-11zM163.5 1465.3h11v11h-11zM167.7 1465.6h11v11h-11zM171.8 1465.8h11v11h-11zM176.0 1466.1h11v11h-11zM180.1 1466.3h11v11h-11zM184.3 1466.6h11v11h-11zM188.4 1466.8h11v11h-11zM192.6 1467.0h11v11h-11zM196.7 1467.3h11v11h-11zM200.9 1467.5h11v11h-11zM205.0 1467.8h11v11h-11zM209.2 1468.0h11v11h-11zM213.3 1468.2h11v11h-11zM217.5 1468.5h11v11h-11zM221.6 1468.7h11v11h-11zM225.8 1469.0h11v11h-11zM229.9 1469.2h11v11h-11zM234.1 1469.4h11v11h-11zM238.2 1469.7h11v11h-11zM242.4 1469.9h11v11h-11zM246.5 1470.1h11v11h-11zM250.7 1470.4h11v11h-11zM254.8 1470.6h11v11h-11zM259.0 1470.8h11v11h-11zM263.1 1471.0h11v11h-11zM267.3 1471.2h11v11h-11zM271.4 1471.4h11v11h-11zM275.6 1471.6h11v11h-11zM279.7 1471.9h11v11h-11zM283.9 1472.1h11v11h-11zM288.0 1472.3h11v11h-11zM292.2 1472.5h11v11h-11zM296.3 1472.7h11v11h-11zM300.5 1472.9h11v11h-11zM304.6 1473.1h11v11h-11zM308.8 1473.3h11v11h-11zM312.9 1473.5h11v11h-11zM317.1 1473.7h11v11h-11zM321.2 1473.9h11v11h-11zM325.4 1474.1h11v11h-11zM329.5 1474.3h11v11h-11zM333.7 1474.5h11v11h-11zM337.8 1474.7h11v11h-11zM342.0 1474.8h11v11h-11zM346.1 1475.0h11v11h-11zM350.3 1475.1h11v11h-11zM354.4 1475.2h11v11h-11zM358.6 1475.3h11v11h-11zM362.7 1475.4h11v11h-11zM366.9 1475.5h11v11h-11zM371.0 1475.5h11v11h-11zM375.2 1475.6h11v11h-11zM379.3 1475.6h11v11h-11zM383.5 1475.6h11v11h-11zM387.6 1475.7h11v11h-11zM391.8 1475.7h11v11h-11zM395.9 1475.7h11v11h-11zM400.1 1475.8h11v11h-11zM404.2 1475.8h11v11h-11zM408.4 1475.8h11v11h-11zM412.5 1475.8h11v11h-11zM416.7 1475.9h11v11h-11zM420.8 1475.9h11v11h-11zM425.0 1475.9h11v11h-11zM429.1 1476.0h11v11h-11zM433.3 1476.0h11v11h-11zM437.4 1476.0h11v11h-11zM441.6 1476.1h11v11h-11zM445.7 1476.1h11v11h-11zM449.9 1476.1h11v11h-11zM454.0 1476.2h11v11h-11zM458.2 1476.2h11v11h-11zM462.3 1476.3h11v11h-11zM466.5 1476.3h11v11h-11zM470.6 1476.4h11v11h-11zM474.8 1476.4h11v11h-11zM478.9 1476.5h11v11h-11zM483.1 1476.6h11v11h-11zM487.2 1476.7h11v11h-11zM491.4 1476.8h11v11h-11zM495.5 1476.9h11v11h-11zM499.7 1477.1h11v11h-11zM503.8 1477.3h11v11h-11zM508.0 1477.4h11v11h-11z" fill="#ff0000" /><polyline points="90.0,1432.8 94.2,1430.4 98.3,1427.9 102.5,1425.4 106.6,1423.0 110.8,1420.7 114.9,1418.4 119.1,1415.9 123.2,1413.2 127.4,1409.8 131.5,1405.7 135.7,1401.2 139.8,1396.7 144.0,1392.2 148.1,1388.0 152.3,1383.9 156.4,1379.7 160.6,1375.3 164.7,1370.5 168.9,1365.3 173.0,1359.9 177.2,1354.7 181.3,1350.0 185.5,1345.7 189.6,1341.8 193.8,1338.3 197.9,1335.0 202.1,1332.3 206.2,1330.7 210.4,1329.4 214.5,1328.7 218.7,1328.5 222.8,1328.6 227.0,1329.1 231.1,1330.5 235.3,1332.0 239.4,1334.2 243.6,1337.8 247.7,1341.6 251.9,1345.6 256.0,1349.7 260.2,1354.1 264.3,1358.4 268.5,1362.7 272.6,1367.2 276.8,1371.8 280.9,1376.6 285.1,1381.4 289.2,1386.3 293.4,1391.1 297.5,1395.7 301.7,1400.5 305.8,1405.2 310.0,1409.9 314.1,1414.2 318.3,1418.3 322.4,1422.1 326.6,1425.6 330.7,1429.3 334.9,1433.0 339.0,1436.6 343.2,1440.1 347.3,1443.4 351.5,1446.5 355.6,1449.3 359.8,1451.9 363.9,1454.3 368.1,1456.5 372.2,1458.6 376.4,1460.7 380.5,1462.7 384.7,1464.7 388.8,1466.5 393.0,1467.9 397.1,1469.0 401.3,1470.0 405.4,1470.9 409.6,1471.7 413.7,1472.5 417.9,1473.2 422.0,1473.6 426.2,1473.9 430.3,1474.1 434.5,1474.3 438.6,1474.5 442.8,1474.6 446.9,1474.8 451.1,1474.9 455.2,1474.9 459.4,1474.9 463.5,1474.9 467.7,1474.9 471.8,1474.9 476.0,1474.9 480.1,1474.8 484.3,1474.8 488.4,1474.8 492.6,1474.8 496.7,1474.7 500.9,1474.7 505.0,1474.7 509.2,1474.6 513.3,1474.6 517.5,1474.6 521.6,1474.5 525.8,1474.2 529.9,1473.7 534.1,1473.0 538.2,1472.1 542.4,1471.1 546.5,1470.1 550.7,1468.9 554.8,1467.8 559.0,1466.7 563.1,1465.7 567.3,1464.6 571.4,1463.5 575.6,1461.9 579.7,1459.4 583.9,1455.9 588.0,1451.8 592.2,1447.3 596.3,1441.5 600.5,1433.0 604.6,1423.4 608.8,1413.6 612.9,1403.3 617.1,1392.1 621.2,1376.3 625.4,1353.3 629.5,1334.3 633.7,1317.3 637.8,1299.5 642.0,1274.6 646.1,1238.6 650.3,1208.4 654.4,1170.7 658.6,1141.6 662.7,1112.6 666.9,1067.9 671.0,1036.8 675.2,1010.0 679.3,985.3 683.5,965.7 687.6,960.7 691.8,959.2 695.9,959.3 700.1,961.0 704.2,967.0 708.4,983.7 712.5,1004.7 716.7,1029.8 720.8,1060.5 725.0,1106.7 729.1,1146.0 733.3,1173.4 737.4,1210.5 741.6,1250.7 745.7,1282.2 749.9,1314.4 754.0,1341.5 758.2,1362.8 762.3,1385.8 766.5,1406.8 770.6,1428.4 774.8,1443.4 778.9,1453.4 783.1,1461.4 787.2,1467.6 791.4,1472.3 795.5,1476.1 799.7,1479.4 803.8,1482.4 808.0,1485.1 812.1,1487.6 816.3,1490.1 820.4,1492.4 824.6,1494.5 828.7,1496.3 832.9,1497.9 837.0,1499.2 841.2,1500.5 845.3,1501.6 849.5,1502.7 853.6,1503.7 857.8,1504.6 861.9,1505.5 866.1,1506.4 870.2,1507.3 874.4,1508.0 878.5,1508.7 882.7,1509.2 886.8,1509.6 891.0,1510.0 895.1,1510.4 899.3,1510.7 903.4,1511.1 907.6,1511.3 911.7,1511.6 915.9,1511.9 920.0,1512.2 924.2,1512.4 928.3,1512.7 932.5,1512.9 936.6,1513.2 940.8,1513.4 944.9,1513.6 949.1,1513.8 953.2,1514.0 957.4,1514.2 961.5,1514.4" fill="none" stroke="#000" stroke-width="3.2" stroke-linejoin="round" stroke-linecap="round" stroke-dasharray="9 5"/><path d="M83.0 1426.8h14l-7.0 12zM87.2 1424.4h14l-7.0 12zM91.3 1421.9h14l-7.0 12zM95.5 1419.4h14l-7.0 12zM99.6 1417.0h14l-7.0 12zM103.8 1414.7h14l-7.0 12zM107.9 1412.4h14l-7.0 12zM112.1 1409.9h14l-7.0 12zM116.2 1407.2h14l-7.0 12zM120.4 1403.8h14l-7.0 12zM124.5 1399.7h14l-7.0 12zM128.7 1395.2h14l-7.0 12zM132.8 1390.7h14l-7.0 12zM137.0 1386.2h14l-7.0 12zM141.1 1382.0h14l-7.0 12zM145.3 1377.9h14l-7.0 12zM149.4 1373.7h14l-7.0 12zM153.6 1369.3h14l-7.0 12zM157.7 1364.5h14l-7.0 12zM161.9 1359.3h14l-7.0 12zM166.0 1353.9h14l-7.0 12zM170.2 1348.7h14l-7.0 12zM174.3 1344.0h14l-7.0 12zM178.5 1339.7h14l-7.0 12zM182.6 1335.8h14l-7.0 12zM186.8 1332.3h14l-7.0 12zM190.9 1329.0h14l-7.0 12zM195.1 1326.3h14l-7.0 12zM199.2 1324.7h14l-7.0 12zM203.4 1323.4h14l-7.0 12zM207.5 1322.7h14l-7.0 12zM211.7 1322.5h14l-7.0 12zM215.8 1322.6h14l-7.0 12zM220.0 1323.1h14l-7.0 12zM224.1 1324.5h14l-7.0 12zM228.3 1326.0h14l-7.0 12zM232.4 1328.2h14l-7.0 12zM236.6 1331.8h14l-7.0 12zM240.7 1335.6h14l-7.0 12zM244.9 1339.6h14l-7.0 12zM249.0 1343.7h14l-7.0 12zM253.2 1348.1h14l-7.0 12zM257.3 1352.4h14l-7.0 12zM261.5 1356.7h14l-7.0 12zM265.6 1361.2h14l-7.0 12zM269.8 1365.8h14l-7.0 12zM273.9 1370.6h14l-7.0 12zM278.1 1375.4h14l-7.0 12zM282.2 1380.3h14l-7.0 12zM286.4 1385.1h14l-7.0 12zM290.5 1389.7h14l-7.0 12zM294.7 1394.5h14l-7.0 12zM298.8 1399.2h14l-7.0 12zM303.0 1403.9h14l-7.0 12zM307.1 1408.2h14l-7.0 12zM311.3 1412.3h14l-7.0 12zM315.4 1416.1h14l-7.0 12zM319.6 1419.6h14l-7.0 12zM323.7 1423.3h14l-7.0 12zM327.9 1427.0h14l-7.0 12zM332.0 1430.6h14l-7.0 12zM336.2 1434.1h14l-7.0 12zM340.3 1437.4h14l-7.0 12zM344.5 1440.5h14l-7.0 12zM348.6 1443.3h14l-7.0 12zM352.8 1445.9h14l-7.0 12zM356.9 1448.3h14l-7.0 12zM361.1 1450.5h14l-7.0 12zM365.2 1452.6h14l-7.0 12zM369.4 1454.7h14l-7.0 12zM373.5 1456.7h14l-7.0 12zM377.7 1458.7h14l-7.0 12zM381.8 1460.5h14l-7.0 12zM386.0 1461.9h14l-7.0 12zM390.1 1463.0h14l-7.0 12zM394.3 1464.0h14l-7.0 12zM398.4 1464.9h14l-7.0 12zM402.6 1465.7h14l-7.0 12zM406.7 1466.5h14l-7.0 12zM410.9 1467.2h14l-7.0 12zM415.0 1467.6h14l-7.0 12zM419.2 1467.9h14l-7.0 12zM423.3 1468.1h14l-7.0 12zM427.5 1468.3h14l-7.0 12zM431.6 1468.5h14l-7.0 12zM435.8 1468.6h14l-7.0 12zM439.9 1468.8h14l-7.0 12zM444.1 1468.9h14l-7.0 12zM448.2 1468.9h14l-7.0 12zM452.4 1468.9h14l-7.0 12zM456.5 1468.9h14l-7.0 12zM460.7 1468.9h14l-7.0 12zM464.8 1468.9h14l-7.0 12zM469.0 1468.9h14l-7.0 12zM473.1 1468.8h14l-7.0 12zM477.3 1468.8h14l-7.0 12zM481.4 1468.8h14l-7.0 12zM485.6 1468.8h14l-7.0 12zM489.7 1468.7h14l-7.0 12zM493.9 1468.7h14l-7.0 12zM498.0 1468.7h14l-7.0 12zM502.2 1468.6h14l-7.0 12zM506.3 1468.6h14l-7.0 12zM510.5 1468.6h14l-7.0 12zM514.6 1468.5h14l-7.0 12zM518.8 1468.2h14l-7.0 12zM522.9 1467.7h14l-7.0 12zM527.1 1467.0h14l-7.0 12zM531.2 1466.1h14l-7.0 12zM535.4 1465.1h14l-7.0 12zM539.5 1464.1h14l-7.0 12zM543.7 1462.9h14l-7.0 12zM547.8 1461.8h14l-7.0 12zM552.0 1460.7h14l-7.0 12zM556.1 1459.7h14l-7.0 12zM560.3 1458.6h14l-7.0 12zM564.4 1457.5h14l-7.0 12zM568.6 1455.9h14l-7.0 12zM572.7 1453.4h14l-7.0 12zM576.9 1449.9h14l-7.0 12zM581.0 1445.8h14l-7.0 12zM585.2 1441.3h14l-7.0 12zM589.3 1435.5h14l-7.0 12zM593.5 1427.0h14l-7.0 12zM597.6 1417.4h14l-7.0 12zM601.8 1407.6h14l-7.0 12zM605.9 1397.3h14l-7.0 12zM610.1 1386.1h14l-7.0 12zM614.2 1370.3h14l-7.0 12zM618.4 1347.3h14l-7.0 12zM622.5 1328.3h14l-7.0 12zM626.7 1311.3h14l-7.0 12zM630.8 1293.5h14l-7.0 12zM635.0 1268.6h14l-7.0 12zM639.1 1232.6h14l-7.0 12zM643.3 1202.4h14l-7.0 12zM647.4 1164.7h14l-7.0 12zM651.6 1135.6h14l-7.0 12zM655.7 1106.6h14l-7.0 12zM659.9 1061.9h14l-7.0 12zM664.0 1030.8h14l-7.0 12zM668.2 1004.0h14l-7.0 12zM672.3 979.3h14l-7.0 12zM676.5 959.7h14l-7.0 12zM680.6 954.7h14l-7.0 12zM684.8 953.2h14l-7.0 12zM688.9 953.3h14l-7.0 12zM693.1 955.0h14l-7.0 12zM697.2 961.0h14l-7.0 12zM701.4 977.7h14l-7.0 12zM705.5 998.7h14l-7.0 12zM709.7 1023.8h14l-7.0 12zM713.8 1054.5h14l-7.0 12zM718.0 1100.7h14l-7.0 12zM722.1 1140.0h14l-7.0 12zM726.3 1167.4h14l-7.0 12zM730.4 1204.5h14l-7.0 12zM734.6 1244.7h14l-7.0 12zM738.7 1276.2h14l-7.0 12zM742.9 1308.4h14l-7.0 12zM747.0 1335.5h14l-7.0 12zM751.2 1356.8h14l-7.0 12zM755.3 1379.8h14l-7.0 12zM759.5 1400.8h14l-7.0 12zM763.6 1422.4h14l-7.0 12zM767.8 1437.4h14l-7.0 12zM771.9 1447.4h14l-7.0 12zM776.1 1455.4h14l-7.0 12zM780.2 1461.6h14l-7.0 12zM784.4 1466.3h14l-7.0 12zM788.5 1470.1h14l-7.0 12zM792.7 1473.4h14l-7.0 12zM796.8 1476.4h14l-7.0 12zM801.0 1479.1h14l-7.0 12zM805.1 1481.6h14l-7.0 12zM809.3 1484.1h14l-7.0 12zM813.4 1486.4h14l-7.0 12zM817.6 1488.5h14l-7.0 12zM821.7 1490.3h14l-7.0 12zM825.9 1491.9h14l-7.0 12zM830.0 1493.2h14l-7.0 12zM834.2 1494.5h14l-7.0 12zM838.3 1495.6h14l-7.0 12zM842.5 1496.7h14l-7.0 12zM846.6 1497.7h14l-7.0 12zM850.8 1498.6h14l-7.0 12zM854.9 1499.5h14l-7.0 12zM859.1 1500.4h14l-7.0 12zM863.2 1501.3h14l-7.0 12zM867.4 1502.0h14l-7.0 12zM871.5 1502.7h14l-7.0 12zM875.7 1503.2h14l-7.0 12zM879.8 1503.6h14l-7.0 12zM884.0 1504.0h14l-7.0 12zM888.1 1504.4h14l-7.0 12zM892.3 1504.7h14l-7.0 12zM896.4 1505.1h14l-7.0 12zM900.6 1505.3h14l-7.0 12zM904.7 1505.6h14l-7.0 12zM908.9 1505.9h14l-7.0 12zM913.0 1506.2h14l-7.0 12zM917.2 1506.4h14l-7.0 12zM921.3 1506.7h14l-7.0 12zM925.5 1506.9h14l-7.0 12zM929.6 1507.2h14l-7.0 12zM933.8 1507.4h14l-7.0 12zM937.9 1507.6h14l-7.0 12zM942.1 1507.8h14l-7.0 12zM946.2 1508.0h14l-7.0 12zM950.4 1508.2h14l-7.0 12zM954.5 1508.4h14l-7.0 12z" fill="#000" /><polyline points="540.0,1478.0 544.1,1477.4 548.3,1476.7 552.4,1475.8 556.6,1474.9 560.7,1473.8 564.9,1472.6 569.0,1471.4 573.2,1470.2 577.3,1468.8 581.5,1467.4 585.6,1465.6 589.8,1463.3 593.9,1459.3 598.1,1454.5 602.2,1451.0 606.4,1449.0 610.5,1440.1 614.7,1429.7 618.8,1417.2 623.0,1404.2 627.1,1392.6 631.3,1377.5 635.4,1348.7 639.6,1319.1 643.7,1298.5 647.9,1287.7 652.0,1269.7 656.2,1235.0 660.3,1201.7 664.5,1165.1 668.6,1118.8 672.8,1082.0 676.9,1049.4 681.1,1014.7 685.2,989.1 689.4,976.6 693.5,973.0 697.7,979.7 701.8,999.0 706.0,1030.8 710.1,1068.1 714.3,1106.6 718.4,1153.1 722.6,1189.6 726.7,1231.3 730.9,1266.4 735.0,1295.5 739.2,1324.4 743.3,1354.6 747.5,1376.7 751.6,1393.9 755.8,1410.7 759.9,1425.0 764.1,1436.1 768.2,1446.0 772.4,1454.5 776.5,1461.6 780.7,1468.1 784.8,1474.2 789.0,1479.9 793.1,1485.2 797.3,1490.0 801.4,1494.8 805.6,1498.8 809.7,1501.5 813.9,1503.4 818.0,1505.1 822.2,1506.5 826.3,1507.6 830.5,1508.5 834.6,1509.3 838.8,1510.0 842.9,1510.6 847.1,1511.2 851.2,1511.7 855.4,1512.1 859.5,1512.5 863.7,1512.9 867.8,1513.2 872.0,1513.5 876.1,1513.8 880.3,1514.1 884.4,1514.3 888.6,1514.6 892.7,1514.8 896.9,1514.9 901.0,1515.0 905.2,1515.1 909.3,1515.2 913.5,1515.3 917.6,1515.4 921.8,1515.5 925.9,1515.6 930.1,1515.7 934.2,1515.7 938.4,1515.8 942.5,1515.9 946.7,1515.9 950.8,1515.9 955.0,1516.0 959.1,1516.0 963.3,1516.0" fill="none" stroke="#ff0000" stroke-width="3.6" stroke-linejoin="round" stroke-linecap="round" stroke-dasharray="9 5"/><path d="M534.0 1472.0h12v12h-12zM538.1 1471.4h12v12h-12zM542.3 1470.7h12v12h-12zM546.4 1469.8h12v12h-12zM550.6 1468.9h12v12h-12zM554.7 1467.8h12v12h-12zM558.9 1466.6h12v12h-12zM563.0 1465.4h12v12h-12zM567.2 1464.2h12v12h-12zM571.3 1462.8h12v12h-12zM575.5 1461.4h12v12h-12zM579.6 1459.6h12v12h-12zM583.8 1457.3h12v12h-12zM587.9 1453.3h12v12h-12zM592.1 1448.5h12v12h-12zM596.2 1445.0h12v12h-12zM600.4 1443.0h12v12h-12zM604.5 1434.1h12v12h-12zM608.7 1423.7h12v12h-12zM612.8 1411.2h12v12h-12zM617.0 1398.2h12v12h-12zM621.1 1386.6h12v12h-12zM625.3 1371.5h12v12h-12zM629.4 1342.7h12v12h-12zM633.6 1313.1h12v12h-12zM637.7 1292.5h12v12h-12zM641.9 1281.7h12v12h-12zM646.0 1263.7h12v12h-12zM650.2 1229.0h12v12h-12zM654.3 1195.7h12v12h-12zM658.5 1159.1h12v12h-12zM662.6 1112.8h12v12h-12zM666.8 1076.0h12v12h-12zM670.9 1043.4h12v12h-12zM675.1 1008.7h12v12h-12zM679.2 983.1h12v12h-12zM683.4 970.6h12v12h-12zM687.5 967.0h12v12h-12zM691.7 973.7h12v12h-12zM695.8 993.0h12v12h-12zM700.0 1024.8h12v12h-12zM704.1 1062.1h12v12h-12zM708.3 1100.6h12v12h-12zM712.4 1147.1h12v12h-12zM716.6 1183.6h12v12h-12zM720.7 1225.3h12v12h-12zM724.9 1260.4h12v12h-12zM729.0 1289.5h12v12h-12zM733.2 1318.4h12v12h-12zM737.3 1348.6h12v12h-12zM741.5 1370.7h12v12h-12zM745.6 1387.9h12v12h-12zM749.8 1404.7h12v12h-12zM753.9 1419.0h12v12h-12zM758.1 1430.1h12v12h-12zM762.2 1440.0h12v12h-12zM766.4 1448.5h12v12h-12zM770.5 1455.6h12v12h-12zM774.7 1462.1h12v12h-12zM778.8 1468.2h12v12h-12zM783.0 1473.9h12v12h-12zM787.1 1479.2h12v12h-12zM791.3 1484.0h12v12h-12zM795.4 1488.8h12v12h-12zM799.6 1492.8h12v12h-12zM803.7 1495.5h12v12h-12zM807.9 1497.4h12v12h-12zM812.0 1499.1h12v12h-12zM816.2 1500.5h12v12h-12zM820.3 1501.6h12v12h-12zM824.5 1502.5h12v12h-12zM828.6 1503.3h12v12h-12zM832.8 1504.0h12v12h-12zM836.9 1504.6h12v12h-12zM841.1 1505.2h12v12h-12zM845.2 1505.7h12v12h-12zM849.4 1506.1h12v12h-12zM853.5 1506.5h12v12h-12zM857.7 1506.9h12v12h-12zM861.8 1507.2h12v12h-12zM866.0 1507.5h12v12h-12zM870.1 1507.8h12v12h-12zM874.3 1508.1h12v12h-12zM878.4 1508.3h12v12h-12zM882.6 1508.6h12v12h-12zM886.7 1508.8h12v12h-12zM890.9 1508.9h12v12h-12zM895.0 1509.0h12v12h-12zM899.2 1509.1h12v12h-12zM903.3 1509.2h12v12h-12zM907.5 1509.3h12v12h-12zM911.6 1509.4h12v12h-12zM915.8 1509.5h12v12h-12zM919.9 1509.6h12v12h-12zM924.1 1509.7h12v12h-12zM928.2 1509.7h12v12h-12zM932.4 1509.8h12v12h-12zM936.5 1509.9h12v12h-12zM940.7 1509.9h12v12h-12zM944.8 1509.9h12v12h-12zM949.0 1510.0h12v12h-12zM953.1 1510.0h12v12h-12zM957.3 1510.0h12v12h-12z" fill="#ff0000" /><path d="M80.0 1435.1h12v12h-12zM84.2 1432.9h12v12h-12zM88.3 1430.7h12v12h-12zM92.5 1428.5h12v12h-12zM96.6 1426.3h12v12h-12zM100.8 1424.1h12v12h-12zM104.9 1422.0h12v12h-12zM109.1 1420.0h12v12h-12zM113.2 1417.8h12v12h-12zM117.4 1415.2h12v12h-12zM121.5 1411.9h12v12h-12zM125.7 1408.0h12v12h-12zM129.8 1403.6h12v12h-12zM134.0 1399.2h12v12h-12zM138.1 1394.9h12v12h-12zM142.3 1390.8h12v12h-12zM146.4 1386.6h12v12h-12zM150.6 1382.3h12v12h-12zM154.7 1377.8h12v12h-12zM158.9 1372.9h12v12h-12zM163.0 1367.5h12v12h-12zM167.2 1361.9h12v12h-12zM171.3 1356.6h12v12h-12zM175.5 1351.7h12v12h-12zM179.6 1346.9h12v12h-12zM183.8 1342.5h12v12h-12zM187.9 1338.5h12v12h-12zM192.1 1334.7h12v12h-12zM196.2 1331.5h12v12h-12zM200.4 1329.4h12v12h-12zM204.5 1327.7h12v12h-12zM208.7 1326.3h12v12h-12zM212.8 1325.6h12v12h-12zM217.0 1325.7h12v12h-12zM221.1 1326.7h12v12h-12zM225.3 1328.3h12v12h-12zM229.4 1330.2h12v12h-12zM233.6 1333.3h12v12h-12zM237.7 1337.7h12v12h-12zM241.9 1342.4h12v12h-12zM246.0 1347.0h12v12h-12zM250.2 1351.8h12v12h-12zM254.3 1356.8h12v12h-12zM258.5 1361.7h12v12h-12zM262.6 1366.6h12v12h-12zM266.8 1371.5h12v12h-12zM270.9 1376.4h12v12h-12zM275.1 1381.5h12v12h-12zM279.2 1386.6h12v12h-12zM283.4 1391.8h12v12h-12zM287.5 1396.8h12v12h-12zM291.7 1401.8h12v12h-12zM295.8 1406.6h12v12h-12zM300.0 1411.4h12v12h-12zM304.1 1416.0h12v12h-12zM308.3 1420.4h12v12h-12zM312.4 1424.4h12v12h-12zM316.6 1428.2h12v12h-12zM320.7 1431.8h12v12h-12zM324.9 1435.2h12v12h-12zM329.0 1438.3h12v12h-12zM333.2 1441.2h12v12h-12zM337.3 1444.0h12v12h-12zM341.5 1446.6h12v12h-12zM345.6 1449.0h12v12h-12zM349.8 1451.1h12v12h-12zM353.9 1453.1h12v12h-12zM358.1 1454.8h12v12h-12zM362.2 1456.5h12v12h-12zM366.4 1458.0h12v12h-12zM370.5 1459.5h12v12h-12zM374.7 1461.0h12v12h-12zM378.8 1462.5h12v12h-12zM383.0 1463.7h12v12h-12zM387.1 1464.8h12v12h-12zM391.3 1465.6h12v12h-12zM395.4 1466.3h12v12h-12zM399.6 1466.9h12v12h-12zM403.7 1467.4h12v12h-12zM407.9 1467.9h12v12h-12zM412.0 1468.3h12v12h-12zM416.2 1468.7h12v12h-12zM420.3 1469.0h12v12h-12zM424.5 1469.3h12v12h-12zM428.6 1469.5h12v12h-12zM432.8 1469.8h12v12h-12zM436.9 1470.0h12v12h-12zM441.1 1470.2h12v12h-12zM445.2 1470.5h12v12h-12zM449.4 1470.7h12v12h-12zM453.5 1470.9h12v12h-12zM457.7 1471.1h12v12h-12zM461.8 1471.3h12v12h-12zM466.0 1471.5h12v12h-12zM470.1 1471.7h12v12h-12zM474.3 1471.9h12v12h-12zM478.4 1472.0h12v12h-12zM482.6 1472.2h12v12h-12zM486.7 1472.4h12v12h-12zM490.9 1472.6h12v12h-12zM495.0 1472.7h12v12h-12zM499.2 1472.9h12v12h-12zM503.3 1473.1h12v12h-12zM507.5 1473.2h12v12h-12zM511.6 1473.4h12v12h-12zM515.8 1473.6h12v12h-12zM519.9 1473.7h12v12h-12zM524.1 1473.9h12v12h-12zM528.2 1474.1h12v12h-12zM532.4 1474.2h12v12h-12zM536.5 1474.4h12v12h-12zM540.7 1474.5h12v12h-12zM544.8 1474.7h12v12h-12zM549.0 1474.8h12v12h-12zM553.1 1475.0h12v12h-12zM557.3 1475.1h12v12h-12zM561.4 1475.3h12v12h-12zM565.6 1475.4h12v12h-12zM569.7 1475.5h12v12h-12zM573.9 1475.6h12v12h-12zM578.0 1475.7h12v12h-12zM582.2 1475.8h12v12h-12zM586.3 1475.9h12v12h-12zM590.5 1475.9h12v12h-12zM594.6 1476.0h12v12h-12zM598.8 1476.1h12v12h-12zM602.9 1476.2h12v12h-12zM607.1 1476.4h12v12h-12zM611.2 1476.6h12v12h-12zM615.4 1476.9h12v12h-12zM619.5 1477.4h12v12h-12zM623.7 1477.9h12v12h-12zM627.8 1478.6h12v12h-12zM632.0 1479.2h12v12h-12zM636.1 1479.9h12v12h-12zM640.3 1480.5h12v12h-12zM644.4 1481.1h12v12h-12zM648.6 1481.7h12v12h-12zM652.7 1482.4h12v12h-12zM656.9 1483.1h12v12h-12zM661.0 1483.9h12v12h-12zM665.2 1484.9h12v12h-12zM669.3 1486.1h12v12h-12zM673.5 1487.5h12v12h-12zM677.6 1489.0h12v12h-12zM681.8 1490.6h12v12h-12zM685.9 1492.2h12v12h-12zM690.1 1493.7h12v12h-12zM694.2 1495.0h12v12h-12zM698.4 1496.3h12v12h-12zM702.5 1497.6h12v12h-12zM706.7 1498.8h12v12h-12zM710.8 1499.9h12v12h-12zM715.0 1501.1h12v12h-12zM719.1 1502.2h12v12h-12zM723.3 1503.4h12v12h-12zM727.4 1504.5h12v12h-12zM731.6 1505.5h12v12h-12zM735.7 1506.3h12v12h-12zM739.9 1506.8h12v12h-12zM744.0 1507.2h12v12h-12zM748.2 1507.5h12v12h-12zM752.3 1507.8h12v12h-12zM756.5 1508.1h12v12h-12zM760.6 1508.4h12v12h-12zM764.8 1508.6h12v12h-12zM768.9 1508.8h12v12h-12zM773.1 1509.0h12v12h-12zM777.2 1509.1h12v12h-12zM781.4 1509.3h12v12h-12zM785.5 1509.4h12v12h-12zM789.7 1509.6h12v12h-12zM793.8 1509.7h12v12h-12zM798.0 1509.8h12v12h-12zM802.1 1509.9h12v12h-12zM806.3 1510.0h12v12h-12zM810.4 1510.0h12v12h-12zM814.6 1510.0h12v12h-12zM818.7 1510.1h12v12h-12zM822.9 1510.1h12v12h-12zM827.0 1510.1h12v12h-12zM831.2 1510.1h12v12h-12zM835.3 1510.1h12v12h-12zM839.5 1510.2h12v12h-12zM843.6 1510.2h12v12h-12zM847.8 1510.2h12v12h-12zM851.9 1510.2h12v12h-12zM856.1 1510.2h12v12h-12zM860.2 1510.2h12v12h-12zM864.4 1510.2h12v12h-12zM868.5 1510.2h12v12h-12zM872.7 1510.2h12v12h-12zM876.8 1510.3h12v12h-12zM881.0 1510.3h12v12h-12zM885.1 1510.3h12v12h-12zM889.3 1510.3h12v12h-12zM893.4 1510.3h12v12h-12zM897.6 1510.3h12v12h-12zM901.7 1510.3h12v12h-12zM905.9 1510.3h12v12h-12zM910.0 1510.4h12v12h-12zM914.2 1510.4h12v12h-12zM918.3 1510.4h12v12h-12zM922.5 1510.4h12v12h-12zM926.6 1510.4h12v12h-12zM930.8 1510.4h12v12h-12zM934.9 1510.4h12v12h-12zM939.1 1510.4h12v12h-12zM943.2 1510.5h12v12h-12zM947.4 1510.5h12v12h-12zM951.5 1510.5h12v12h-12zM955.7 1510.5h12v12h-12zM959.8 1510.5h12v12h-12z" fill="#00ff00" /></g><rect x="88" y="870.5" width="879.80" height="655.10" fill="none" stroke="#000" stroke-width="4.2" stroke-linejoin="round"/><line x1="900.70" y1="1525.60" x2="900.70" y2="1539.10" stroke="#000" stroke-width="4" stroke-linecap="round"/><line x1="817.70" y1="1525.60" x2="817.70" y2="1533.10" stroke="#000" stroke-width="4" stroke-linecap="round"/><line x1="734.70" y1="1525.60" x2="734.70" y2="1539.10" stroke="#000" stroke-width="4" stroke-linecap="round"/><line x1="651.70" y1="1525.60" x2="651.70" y2="1533.10" stroke="#000" stroke-width="4" stroke-linecap="round"/><line x1="568.70" y1="1525.60" x2="568.70" y2="1539.10" stroke="#000" stroke-width="4" stroke-linecap="round"/><line x1="485.70" y1="1525.60" x2="485.70" y2="1533.10" stroke="#000" stroke-width="4" stroke-linecap="round"/><line x1="402.70" y1="1525.60" x2="402.70" y2="1539.10" stroke="#000" stroke-width="4" stroke-linecap="round"/><line x1="319.70" y1="1525.60" x2="319.70" y2="1533.10" stroke="#000" stroke-width="4" stroke-linecap="round"/><line x1="236.70" y1="1525.60" x2="236.70" y2="1539.10" stroke="#000" stroke-width="4" stroke-linecap="round"/><line x1="153.70" y1="1525.60" x2="153.70" y2="1533.10" stroke="#000" stroke-width="4" stroke-linecap="round"/><text x="862.83" y="1587.30" font-size="51.00" font-weight="bold" fill="#000">456</text><text x="696.95" y="1587.30" font-size="51.00" font-weight="bold" fill="#000">458</text><text x="531.08" y="1587.30" font-size="51.00" font-weight="bold" fill="#000">460</text><text x="365.20" y="1587.30" font-size="51.00" font-weight="bold" fill="#000">462</text><text x="198.57" y="1587.30" font-size="51.00" font-weight="bold" fill="#000">464</text><text x="2.30" y="903.50" font-size="55.75" font-weight="bold" fill="#000">(c)</text><text x="140.50" y="981.00" font-size="39.17" font-weight="bold" fill="#000">Ti 2p XPS</text><text x="657.85" y="937.50" font-size="50.03" font-weight="bold" fill="#000">Ti</text><text x="705.70" y="919.60" font-size="31.16" font-weight="normal" fill="#000" stroke="#000" stroke-width="0.7">4+</text><text x="195.35" y="1305.10" font-size="50.58" font-weight="bold" fill="#000">Ti</text><text x="243.00" y="1287.00" font-size="31.06" font-weight="normal" fill="#000" stroke="#000" stroke-width="0.7">4+</text><text x="163.70" y="1419.00" font-size="37.70" font-weight="bold" fill="#000">Ti 2p</text><text x="249.70" y="1430.50" font-size="28.90" font-weight="normal" fill="#000" stroke="#000" stroke-width="0.7">1/2</text><text x="628.00" y="1447.10" font-size="38.98" font-weight="bold" fill="#000">Ti 2P</text><text x="717.15" y="1459.20" font-size="27.91" font-weight="normal" fill="#000" stroke="#000" stroke-width="0.7">3/2</text><text x="327.75" y="1637.00" font-size="50.72" font-weight="bold" fill="#000">Binding Energy / eV</text><text transform="translate(38.90,1348.75) rotate(-90)" font-size="51.22" font-weight="bold">Intensity</text><text transform="translate(38.90,1129.85) rotate(-90)" font-size="51.15" font-weight="bold">(a.u.)</text><clipPath id="cd"><rect x="1151" y="870" width="883" height="655"/></clipPath><g clip-path="url(#cd)"><polyline points="1151.0,1412.0 1155.2,1410.7 1159.4,1408.9 1163.6,1406.4 1167.8,1403.4 1172.0,1400.1 1176.2,1396.5 1180.4,1392.7 1184.6,1388.3 1188.8,1383.4 1193.0,1378.1 1197.2,1372.7 1201.4,1367.3 1205.6,1362.2 1209.8,1357.5 1214.0,1352.9 1218.2,1348.3 1222.4,1343.9 1226.6,1339.6 1230.8,1335.5 1235.0,1331.7 1239.2,1328.2 1243.4,1324.8 1247.6,1321.9 1251.8,1319.6 1256.0,1317.7 1260.2,1316.0 1264.4,1315.1 1268.6,1315.0 1272.8,1315.0 1277.0,1315.0 1281.2,1315.0 1285.4,1315.9 1289.6,1317.4 1293.8,1319.2 1298.0,1321.1 1302.2,1323.5 1306.4,1326.3 1310.6,1329.5 1314.8,1332.9 1319.0,1336.5 1323.2,1340.3 1327.4,1344.3 1331.6,1348.9 1335.8,1353.9 1340.0,1359.2 1344.2,1364.5 1348.4,1369.7 1352.6,1374.6 1356.8,1379.2 1361.0,1383.8 1365.2,1388.3 1369.4,1392.7 1373.6,1397.0 1377.8,1401.1 1382.0,1405.0 1386.2,1408.7 1390.4,1412.2 1394.6,1415.6 1398.8,1418.9 1403.0,1422.1 1407.2,1425.2 1411.4,1428.3 1415.6,1431.3 1419.8,1434.3 1424.0,1437.2 1428.2,1440.0 1432.4,1442.7 1436.6,1445.2 1440.8,1447.4 1445.0,1449.6 1449.2,1451.8 1453.4,1453.9 1457.6,1455.8 1461.8,1457.5 1466.0,1458.9 1470.2,1459.9 1474.4,1460.5 1478.6,1461.1 1482.8,1461.7 1487.0,1462.2 1491.2,1462.7 1495.4,1463.2 1499.6,1463.6 1503.8,1464.0 1508.0,1464.3 1512.2,1464.6 1516.4,1464.8 1520.6,1464.9 1524.8,1465.0 1529.0,1465.0 1533.2,1465.0 1537.4,1465.0 1541.6,1464.9 1545.8,1464.9 1550.0,1464.8 1554.2,1464.7 1558.4,1464.6 1562.6,1464.5 1566.8,1464.4 1571.0,1464.3 1575.2,1464.1 1579.4,1463.9 1583.6,1463.6 1587.8,1463.1 1592.0,1462.4 1596.2,1461.6 1600.4,1460.6 1604.6,1459.6 1608.8,1458.0 1613.0,1455.9 1617.2,1453.5 1621.4,1450.7 1625.6,1447.7 1629.8,1444.6 1634.0,1441.0 1638.2,1436.8 1642.4,1432.2 1646.6,1427.5 1650.8,1422.6 1655.0,1417.7 1659.2,1412.1 1663.4,1405.7 1667.6,1397.8 1671.8,1387.6 1676.0,1374.8 1680.2,1359.2 1684.4,1335.6 1688.6,1308.0 1692.8,1286.2 1697.0,1267.5 1701.2,1248.6 1705.4,1226.6 1709.6,1196.6 1713.8,1168.3 1718.0,1145.5 1722.2,1117.4 1726.4,1094.8 1730.6,1074.7 1734.8,1047.4 1739.0,1015.9 1743.2,998.8 1747.4,987.2 1751.6,975.7 1755.8,969.5 1760.0,967.1 1764.2,971.9 1768.4,980.8 1772.6,993.9 1776.8,1003.5 1781.0,1016.8 1785.2,1042.1 1789.4,1064.6 1793.6,1090.6 1797.8,1114.7 1802.0,1145.4 1806.2,1171.6 1810.4,1201.3 1814.6,1231.0 1818.8,1255.9 1823.0,1279.0 1827.2,1302.4 1831.4,1326.7 1835.6,1349.7 1839.8,1369.2 1844.0,1384.8 1848.2,1398.2 1852.4,1410.1 1856.6,1421.5 1860.8,1432.7 1865.0,1443.0 1869.2,1451.9 1873.4,1459.0 1877.6,1464.6 1881.8,1469.7 1886.0,1474.0 1890.2,1477.4 1894.4,1479.7 1898.6,1481.4 1902.8,1482.9 1907.0,1484.2 1911.2,1485.3 1915.4,1486.3 1919.6,1487.2 1923.8,1488.1 1928.0,1488.8 1932.2,1489.6 1936.4,1490.3 1940.6,1491.0 1944.8,1491.7 1949.0,1492.2 1953.2,1492.8 1957.4,1493.3 1961.6,1493.8 1965.8,1494.3 1970.0,1494.8 1974.2,1495.4 1978.4,1495.9 1982.6,1496.6 1986.8,1497.3 1991.0,1498.0 1995.2,1498.9 1999.4,1499.7 2003.6,1500.6 2007.8,1501.5 2012.0,1502.4 2016.2,1503.3 2020.4,1504.2 2024.6,1505.1 2028.8,1506.1 2033.0,1507.0" fill="none" stroke="#000" stroke-width="2.6" stroke-linejoin="round" stroke-linecap="round" stroke-dasharray="8 5"/><path d="M1143.5 1405.5h15l-7.5 13zM1147.7 1404.2h15l-7.5 13zM1151.9 1402.4h15l-7.5 13zM1156.1 1399.9h15l-7.5 13zM1160.3 1396.9h15l-7.5 13zM1164.5 1393.6h15l-7.5 13zM1168.7 1390.0h15l-7.5 13zM1172.9 1386.2h15l-7.5 13zM1177.1 1381.8h15l-7.5 13zM1181.3 1376.9h15l-7.5 13zM1185.5 1371.6h15l-7.5 13zM1189.7 1366.2h15l-7.5 13zM1193.9 1360.8h15l-7.5 13zM1198.1 1355.7h15l-7.5 13zM1202.3 1351.0h15l-7.5 13zM1206.5 1346.4h15l-7.5 13zM1210.7 1341.8h15l-7.5 13zM1214.9 1337.4h15l-7.5 13zM1219.1 1333.1h15l-7.5 13zM1223.3 1329.0h15l-7.5 13zM1227.5 1325.2h15l-7.5 13zM1231.7 1321.7h15l-7.5 13zM1235.9 1318.3h15l-7.5 13zM1240.1 1315.4h15l-7.5 13zM1244.3 1313.1h15l-7.5 13zM1248.5 1311.2h15l-7.5 13zM1252.7 1309.5h15l-7.5 13zM1256.9 1308.6h15l-7.5 13zM1261.1 1308.5h15l-7.5 13zM1265.3 1308.5h15l-7.5 13zM1269.5 1308.5h15l-7.5 13zM1273.7 1308.5h15l-7.5 13zM1277.9 1309.4h15l-7.5 13zM1282.1 1310.9h15l-7.5 13zM1286.3 1312.7h15l-7.5 13zM1290.5 1314.6h15l-7.5 13zM1294.7 1317.0h15l-7.5 13zM1298.9 1319.8h15l-7.5 13zM1303.1 1323.0h15l-7.5 13zM1307.3 1326.4h15l-7.5 13zM1311.5 1330.0h15l-7.5 13zM1315.7 1333.8h15l-7.5 13zM1319.9 1337.8h15l-7.5 13zM1324.1 1342.4h15l-7.5 13zM1328.3 1347.4h15l-7.5 13zM1332.5 1352.7h15l-7.5 13zM1336.7 1358.0h15l-7.5 13zM1340.9 1363.2h15l-7.5 13zM1345.1 1368.1h15l-7.5 13zM1349.3 1372.7h15l-7.5 13zM1353.5 1377.3h15l-7.5 13zM1357.7 1381.8h15l-7.5 13zM1361.9 1386.2h15l-7.5 13zM1366.1 1390.5h15l-7.5 13zM1370.3 1394.6h15l-7.5 13zM1374.5 1398.5h15l-7.5 13zM1378.7 1402.2h15l-7.5 13zM1382.9 1405.7h15l-7.5 13zM1387.1 1409.1h15l-7.5 13zM1391.3 1412.4h15l-7.5 13zM1395.5 1415.6h15l-7.5 13zM1399.7 1418.7h15l-7.5 13zM1403.9 1421.8h15l-7.5 13zM1408.1 1424.8h15l-7.5 13zM1412.3 1427.8h15l-7.5 13zM1416.5 1430.7h15l-7.5 13zM1420.7 1433.5h15l-7.5 13zM1424.9 1436.2h15l-7.5 13zM1429.1 1438.7h15l-7.5 13zM1433.3 1440.9h15l-7.5 13zM1437.5 1443.1h15l-7.5 13zM1441.7 1445.3h15l-7.5 13zM1445.9 1447.4h15l-7.5 13zM1450.1 1449.3h15l-7.5 13zM1454.3 1451.0h15l-7.5 13zM1458.5 1452.4h15l-7.5 13zM1462.7 1453.4h15l-7.5 13zM1466.9 1454.0h15l-7.5 13zM1471.1 1454.6h15l-7.5 13zM1475.3 1455.2h15l-7.5 13zM1479.5 1455.7h15l-7.5 13zM1483.7 1456.2h15l-7.5 13zM1487.9 1456.7h15l-7.5 13zM1492.1 1457.1h15l-7.5 13zM1496.3 1457.5h15l-7.5 13zM1500.5 1457.8h15l-7.5 13zM1504.7 1458.1h15l-7.5 13zM1508.9 1458.3h15l-7.5 13zM1513.1 1458.4h15l-7.5 13zM1517.3 1458.5h15l-7.5 13zM1521.5 1458.5h15l-7.5 13zM1525.7 1458.5h15l-7.5 13zM1529.9 1458.5h15l-7.5 13zM1534.1 1458.4h15l-7.5 13zM1538.3 1458.4h15l-7.5 13zM1542.5 1458.3h15l-7.5 13zM1546.7 1458.2h15l-7.5 13zM1550.9 1458.1h15l-7.5 13zM1555.1 1458.0h15l-7.5 13zM1559.3 1457.9h15l-7.5 13zM1563.5 1457.8h15l-7.5 13zM1567.7 1457.6h15l-7.5 13zM1571.9 1457.4h15l-7.5 13zM1576.1 1457.1h15l-7.5 13zM1580.3 1456.6h15l-7.5 13zM1584.5 1455.9h15l-7.5 13zM1588.7 1455.1h15l-7.5 13zM1592.9 1454.1h15l-7.5 13zM1597.1 1453.1h15l-7.5 13zM1601.3 1451.5h15l-7.5 13zM1605.5 1449.4h15l-7.5 13zM1609.7 1447.0h15l-7.5 13zM1613.9 1444.2h15l-7.5 13zM1618.1 1441.2h15l-7.5 13zM1622.3 1438.1h15l-7.5 13zM1626.5 1434.5h15l-7.5 13zM1630.7 1430.3h15l-7.5 13zM1634.9 1425.7h15l-7.5 13zM1639.1 1421.0h15l-7.5 13zM1643.3 1416.1h15l-7.5 13zM1647.5 1411.2h15l-7.5 13zM1651.7 1405.6h15l-7.5 13zM1655.9 1399.2h15l-7.5 13zM1660.1 1391.3h15l-7.5 13zM1664.3 1381.1h15l-7.5 13zM1668.5 1368.3h15l-7.5 13zM1672.7 1352.7h15l-7.5 13zM1676.9 1329.1h15l-7.5 13zM1681.1 1301.5h15l-7.5 13zM1685.3 1279.7h15l-7.5 13zM1689.5 1261.0h15l-7.5 13zM1693.7 1242.1h15l-7.5 13zM1697.9 1220.1h15l-7.5 13zM1702.1 1190.1h15l-7.5 13zM1706.3 1161.8h15l-7.5 13zM1710.5 1139.0h15l-7.5 13zM1714.7 1110.9h15l-7.5 13zM1718.9 1088.3h15l-7.5 13zM1723.1 1068.2h15l-7.5 13zM1727.3 1040.9h15l-7.5 13zM1731.5 1009.4h15l-7.5 13zM1735.7 992.3h15l-7.5 13zM1739.9 980.7h15l-7.5 13zM1744.1 969.2h15l-7.5 13zM1748.3 963.0h15l-7.5 13zM1752.5 960.6h15l-7.5 13zM1756.7 965.4h15l-7.5 13zM1760.9 974.3h15l-7.5 13zM1765.1 987.4h15l-7.5 13zM1769.3 997.0h15l-7.5 13zM1773.5 1010.3h15l-7.5 13zM1777.7 1035.6h15l-7.5 13zM1781.9 1058.1h15l-7.5 13zM1786.1 1084.1h15l-7.5 13zM1790.3 1108.2h15l-7.5 13zM1794.5 1138.9h15l-7.5 13zM1798.7 1165.1h15l-7.5 13zM1802.9 1194.8h15l-7.5 13zM1807.1 1224.5h15l-7.5 13zM1811.3 1249.4h15l-7.5 13zM1815.5 1272.5h15l-7.5 13zM1819.7 1295.9h15l-7.5 13zM1823.9 1320.2h15l-7.5 13zM1828.1 1343.2h15l-7.5 13zM1832.3 1362.7h15l-7.5 13zM1836.5 1378.3h15l-7.5 13zM1840.7 1391.7h15l-7.5 13zM1844.9 1403.6h15l-7.5 13zM1849.1 1415.0h15l-7.5 13zM1853.3 1426.2h15l-7.5 13zM1857.5 1436.5h15l-7.5 13zM1861.7 1445.4h15l-7.5 13zM1865.9 1452.5h15l-7.5 13zM1870.1 1458.1h15l-7.5 13zM1874.3 1463.2h15l-7.5 13zM1878.5 1467.5h15l-7.5 13zM1882.7 1470.9h15l-7.5 13zM1886.9 1473.2h15l-7.5 13zM1891.1 1474.9h15l-7.5 13zM1895.3 1476.4h15l-7.5 13zM1899.5 1477.7h15l-7.5 13zM1903.7 1478.8h15l-7.5 13zM1907.9 1479.8h15l-7.5 13zM1912.1 1480.7h15l-7.5 13zM1916.3 1481.6h15l-7.5 13zM1920.5 1482.3h15l-7.5 13zM1924.7 1483.1h15l-7.5 13zM1928.9 1483.8h15l-7.5 13zM1933.1 1484.5h15l-7.5 13zM1937.3 1485.2h15l-7.5 13zM1941.5 1485.7h15l-7.5 13zM1945.7 1486.3h15l-7.5 13zM1949.9 1486.8h15l-7.5 13zM1954.1 1487.3h15l-7.5 13zM1958.3 1487.8h15l-7.5 13zM1962.5 1488.3h15l-7.5 13zM1966.7 1488.9h15l-7.5 13zM1970.9 1489.4h15l-7.5 13zM1975.1 1490.1h15l-7.5 13zM1979.3 1490.8h15l-7.5 13zM1983.5 1491.5h15l-7.5 13zM1987.7 1492.4h15l-7.5 13zM1991.9 1493.2h15l-7.5 13zM1996.1 1494.1h15l-7.5 13zM2000.3 1495.0h15l-7.5 13zM2004.5 1495.9h15l-7.5 13zM2008.7 1496.8h15l-7.5 13zM2012.9 1497.7h15l-7.5 13zM2017.1 1498.6h15l-7.5 13zM2021.3 1499.6h15l-7.5 13zM2025.5 1500.5h15l-7.5 13z" fill="#000" /><path d="M1144.0 1417.0h14l-7.0 14zM1148.2 1415.5h14l-7.0 14zM1152.4 1413.7h14l-7.0 14zM1156.6 1411.6h14l-7.0 14zM1160.8 1409.3h14l-7.0 14zM1165.0 1406.7h14l-7.0 14zM1169.2 1403.9h14l-7.0 14zM1173.4 1401.0h14l-7.0 14zM1177.6 1397.6h14l-7.0 14zM1181.8 1393.6h14l-7.0 14zM1186.0 1389.4h14l-7.0 14zM1190.2 1384.8h14l-7.0 14zM1194.4 1380.2h14l-7.0 14zM1198.6 1375.6h14l-7.0 14zM1202.8 1371.0h14l-7.0 14zM1207.0 1366.2h14l-7.0 14zM1211.2 1361.0h14l-7.0 14zM1215.4 1355.9h14l-7.0 14zM1219.6 1350.8h14l-7.0 14zM1223.8 1346.0h14l-7.0 14zM1228.0 1341.8h14l-7.0 14zM1232.2 1338.1h14l-7.0 14zM1236.4 1334.6h14l-7.0 14zM1240.6 1331.7h14l-7.0 14zM1244.8 1329.7h14l-7.0 14zM1249.0 1328.1h14l-7.0 14zM1253.2 1326.8h14l-7.0 14zM1257.4 1326.1h14l-7.0 14zM1261.6 1326.0h14l-7.0 14zM1265.8 1326.3h14l-7.0 14zM1270.0 1326.7h14l-7.0 14zM1274.2 1327.2h14l-7.0 14zM1278.4 1328.1h14l-7.0 14zM1282.6 1329.6h14l-7.0 14zM1286.8 1331.4h14l-7.0 14zM1291.0 1333.7h14l-7.0 14zM1295.2 1337.0h14l-7.0 14zM1299.4 1341.1h14l-7.0 14zM1303.6 1345.7h14l-7.0 14zM1307.8 1350.5h14l-7.0 14zM1312.0 1355.5h14l-7.0 14zM1316.2 1360.2h14l-7.0 14zM1320.4 1364.7h14l-7.0 14zM1324.6 1369.4h14l-7.0 14zM1328.8 1374.2h14l-7.0 14zM1333.0 1379.0h14l-7.0 14zM1337.2 1383.8h14l-7.0 14zM1341.4 1388.3h14l-7.0 14zM1345.6 1392.6h14l-7.0 14zM1349.8 1396.7h14l-7.0 14zM1354.0 1400.7h14l-7.0 14zM1358.2 1404.6h14l-7.0 14zM1362.4 1408.3h14l-7.0 14zM1366.6 1411.9h14l-7.0 14zM1370.8 1415.1h14l-7.0 14zM1375.0 1418.0h14l-7.0 14zM1379.2 1420.5h14l-7.0 14zM1383.4 1422.8h14l-7.0 14zM1387.6 1424.9h14l-7.0 14zM1391.8 1426.9h14l-7.0 14zM1396.0 1428.9h14l-7.0 14zM1400.2 1431.0h14l-7.0 14zM1404.4 1433.2h14l-7.0 14zM1408.6 1435.9h14l-7.0 14zM1412.8 1439.0h14l-7.0 14zM1417.0 1442.2h14l-7.0 14zM1421.2 1445.2h14l-7.0 14zM1425.4 1447.9h14l-7.0 14zM1429.6 1450.0h14l-7.0 14zM1433.8 1451.2h14l-7.0 14zM1438.0 1452.0h14l-7.0 14zM1442.2 1452.7h14l-7.0 14zM1446.4 1453.4h14l-7.0 14zM1450.6 1454.0h14l-7.0 14zM1454.8 1454.6h14l-7.0 14zM1459.0 1455.1h14l-7.0 14zM1463.2 1455.5h14l-7.0 14zM1467.4 1455.9h14l-7.0 14zM1471.6 1456.3h14l-7.0 14zM1475.8 1456.7h14l-7.0 14zM1480.0 1457.0h14l-7.0 14zM1484.2 1457.3h14l-7.0 14zM1488.4 1457.7h14l-7.0 14zM1492.6 1458.0h14l-7.0 14zM1496.8 1458.3h14l-7.0 14zM1501.0 1458.7h14l-7.0 14zM1505.2 1459.0h14l-7.0 14zM1509.4 1459.4h14l-7.0 14zM1513.6 1459.8h14l-7.0 14zM1517.8 1460.1h14l-7.0 14zM1522.0 1460.5h14l-7.0 14zM1526.2 1460.8h14l-7.0 14zM1530.4 1461.2h14l-7.0 14zM1534.6 1461.5h14l-7.0 14zM1538.8 1461.8h14l-7.0 14zM1543.0 1462.1h14l-7.0 14zM1547.2 1462.4h14l-7.0 14zM1551.4 1462.6h14l-7.0 14zM1555.6 1462.8h14l-7.0 14zM1559.8 1463.1h14l-7.0 14zM1564.0 1463.3h14l-7.0 14zM1568.2 1463.4h14l-7.0 14zM1572.4 1463.6h14l-7.0 14zM1576.6 1463.8h14l-7.0 14zM1580.8 1463.9h14l-7.0 14zM1585.0 1464.1h14l-7.0 14zM1589.2 1464.2h14l-7.0 14zM1593.4 1464.4h14l-7.0 14zM1597.6 1464.5h14l-7.0 14zM1601.8 1464.7h14l-7.0 14zM1606.0 1464.8h14l-7.0 14zM1610.2 1464.9h14l-7.0 14zM1614.4 1465.0h14l-7.0 14zM1618.6 1465.2h14l-7.0 14zM1622.8 1465.3h14l-7.0 14zM1627.0 1465.4h14l-7.0 14zM1631.2 1465.6h14l-7.0 14zM1635.4 1465.7h14l-7.0 14zM1639.6 1465.9h14l-7.0 14zM1643.8 1466.0h14l-7.0 14zM1648.0 1466.2h14l-7.0 14zM1652.2 1466.4h14l-7.0 14zM1656.4 1466.5h14l-7.0 14zM1660.6 1466.7h14l-7.0 14zM1664.8 1466.9h14l-7.0 14zM1669.0 1467.1h14l-7.0 14zM1673.2 1467.2h14l-7.0 14zM1677.4 1467.4h14l-7.0 14zM1681.6 1467.6h14l-7.0 14zM1685.8 1467.7h14l-7.0 14zM1690.0 1467.9h14l-7.0 14zM1694.2 1468.0h14l-7.0 14zM1698.4 1468.2h14l-7.0 14zM1702.6 1468.3h14l-7.0 14zM1706.8 1468.4h14l-7.0 14zM1711.0 1468.5h14l-7.0 14zM1715.2 1468.6h14l-7.0 14zM1719.4 1468.8h14l-7.0 14zM1723.6 1469.0h14l-7.0 14zM1727.8 1469.5h14l-7.0 14zM1732.0 1470.3h14l-7.0 14zM1736.2 1471.4h14l-7.0 14zM1740.4 1472.6h14l-7.0 14zM1744.6 1473.9h14l-7.0 14zM1748.8 1475.2h14l-7.0 14zM1753.0 1476.5h14l-7.0 14zM1757.2 1477.6h14l-7.0 14zM1761.4 1478.8h14l-7.0 14zM1765.6 1480.0h14l-7.0 14zM1769.8 1481.3h14l-7.0 14zM1774.0 1482.5h14l-7.0 14zM1778.2 1483.7h14l-7.0 14zM1782.4 1484.9h14l-7.0 14zM1786.6 1486.0h14l-7.0 14zM1790.8 1487.0h14l-7.0 14zM1795.0 1487.9h14l-7.0 14zM1799.2 1488.6h14l-7.0 14zM1803.4 1489.4h14l-7.0 14zM1807.6 1490.1h14l-7.0 14zM1811.8 1490.8h14l-7.0 14zM1816.0 1491.5h14l-7.0 14zM1820.2 1492.2h14l-7.0 14zM1824.4 1492.8h14l-7.0 14zM1828.6 1493.4h14l-7.0 14zM1832.8 1494.0h14l-7.0 14zM1837.0 1494.5h14l-7.0 14zM1841.2 1494.9h14l-7.0 14zM1845.4 1495.3h14l-7.0 14zM1849.6 1495.6h14l-7.0 14zM1853.8 1495.9h14l-7.0 14zM1858.0 1496.1h14l-7.0 14zM1862.2 1496.2h14l-7.0 14zM1866.4 1496.4h14l-7.0 14zM1870.6 1496.5h14l-7.0 14zM1874.8 1496.6h14l-7.0 14zM1879.0 1496.8h14l-7.0 14zM1883.2 1496.9h14l-7.0 14zM1887.4 1497.0h14l-7.0 14zM1891.6 1497.1h14l-7.0 14zM1895.8 1497.2h14l-7.0 14zM1900.0 1497.3h14l-7.0 14zM1904.2 1497.4h14l-7.0 14zM1908.4 1497.4h14l-7.0 14zM1912.6 1497.5h14l-7.0 14zM1916.8 1497.6h14l-7.0 14zM1921.0 1497.7h14l-7.0 14zM1925.2 1497.7h14l-7.0 14zM1929.4 1497.8h14l-7.0 14zM1933.6 1497.9h14l-7.0 14zM1937.8 1497.9h14l-7.0 14zM1942.0 1498.0h14l-7.0 14zM1946.2 1498.1h14l-7.0 14zM1950.4 1498.1h14l-7.0 14zM1954.6 1498.2h14l-7.0 14zM1958.8 1498.2h14l-7.0 14zM1963.0 1498.3h14l-7.0 14zM1967.2 1498.4h14l-7.0 14zM1971.4 1498.4h14l-7.0 14zM1975.6 1498.5h14l-7.0 14zM1979.8 1498.5h14l-7.0 14zM1984.0 1498.6h14l-7.0 14zM1988.2 1498.6h14l-7.0 14zM1992.4 1498.7h14l-7.0 14zM1996.6 1498.7h14l-7.0 14zM2000.8 1498.8h14l-7.0 14zM2005.0 1498.8h14l-7.0 14zM2009.2 1498.9h14l-7.0 14zM2013.4 1498.9h14l-7.0 14zM2017.6 1498.9h14l-7.0 14zM2021.8 1499.0h14l-7.0 14zM2026.0 1499.0h14l-7.0 14z" fill="#00ff00" /><polyline points="1578.0,1466.0 1582.2,1465.3 1586.4,1464.6 1590.6,1463.9 1594.8,1463.1 1599.0,1462.3 1603.2,1461.5 1607.4,1460.6 1611.6,1459.6 1615.8,1458.7 1620.0,1457.7 1624.2,1456.5 1628.4,1455.0 1632.6,1453.0 1636.8,1450.4 1641.0,1447.2 1645.2,1443.7 1649.4,1439.9 1653.6,1436.0 1657.8,1432.1 1662.0,1427.9 1666.2,1423.4 1670.4,1418.2 1674.6,1412.0 1678.8,1404.8 1683.0,1395.0 1687.2,1381.3 1691.4,1362.8 1695.6,1332.1 1699.8,1301.2 1704.0,1276.2 1708.2,1253.7 1712.4,1239.1 1716.6,1232.9 1720.8,1225.4 1725.0,1200.7 1729.2,1176.7 1733.4,1143.9 1737.6,1118.7 1741.8,1096.8 1746.0,1072.5 1750.2,1059.1 1754.4,1055.6 1758.6,1055.8 1762.8,1061.4 1767.0,1073.6 1771.2,1094.1 1775.4,1116.8 1779.6,1141.4 1783.8,1175.2 1788.0,1210.2 1792.2,1236.7 1796.4,1266.0 1800.6,1293.7 1804.8,1319.0 1809.0,1340.8 1813.2,1356.3 1817.4,1368.6 1821.6,1380.3 1825.8,1393.6 1830.0,1407.5 1834.2,1420.1 1838.4,1431.8 1842.6,1441.8 1846.8,1449.9 1851.0,1457.4 1855.2,1464.0 1859.4,1469.5 1863.6,1473.6 1867.8,1476.8 1872.0,1479.8 1876.2,1482.5 1880.4,1484.9 1884.6,1487.1 1888.8,1489.1 1893.0,1490.8 1897.2,1492.2 1901.4,1493.4 1905.6,1494.3 1909.8,1495.2 1914.0,1496.0 1918.2,1496.7 1922.4,1497.4 1926.6,1498.0 1930.8,1498.6 1935.0,1499.1 1939.2,1499.6 1943.4,1500.1 1947.6,1500.5 1951.8,1500.9 1956.0,1501.3 1960.2,1501.6 1964.4,1502.0 1968.6,1502.3 1972.8,1502.6 1977.0,1502.9 1981.2,1503.2 1985.4,1503.5 1989.6,1503.7 1993.8,1504.0 1998.0,1504.2 2002.2,1504.5 2006.4,1504.7 2010.6,1504.9 2014.8,1505.1 2019.0,1505.2 2023.2,1505.3 2027.4,1505.4 2031.6,1505.5" fill="none" stroke="#ff0000" stroke-width="3.2" stroke-linejoin="round" stroke-linecap="round" stroke-dasharray="8 5"/><path d="M1572.5 1460.5h11v11h-11zM1576.7 1459.8h11v11h-11zM1580.9 1459.1h11v11h-11zM1585.1 1458.4h11v11h-11zM1589.3 1457.6h11v11h-11zM1593.5 1456.8h11v11h-11zM1597.7 1456.0h11v11h-11zM1601.9 1455.1h11v11h-11zM1606.1 1454.1h11v11h-11zM1610.3 1453.2h11v11h-11zM1614.5 1452.2h11v11h-11zM1618.7 1451.0h11v11h-11zM1622.9 1449.5h11v11h-11zM1627.1 1447.5h11v11h-11zM1631.3 1444.9h11v11h-11zM1635.5 1441.7h11v11h-11zM1639.7 1438.2h11v11h-11zM1643.9 1434.4h11v11h-11zM1648.1 1430.5h11v11h-11zM1652.3 1426.6h11v11h-11zM1656.5 1422.4h11v11h-11zM1660.7 1417.9h11v11h-11zM1664.9 1412.7h11v11h-11zM1669.1 1406.5h11v11h-11zM1673.3 1399.3h11v11h-11zM1677.5 1389.5h11v11h-11zM1681.7 1375.8h11v11h-11zM1685.9 1357.3h11v11h-11zM1690.1 1326.6h11v11h-11zM1694.3 1295.7h11v11h-11zM1698.5 1270.7h11v11h-11zM1702.7 1248.2h11v11h-11zM1706.9 1233.6h11v11h-11zM1711.1 1227.4h11v11h-11zM1715.3 1219.9h11v11h-11zM1719.5 1195.2h11v11h-11zM1723.7 1171.2h11v11h-11zM1727.9 1138.4h11v11h-11zM1732.1 1113.2h11v11h-11zM1736.3 1091.3h11v11h-11zM1740.5 1067.0h11v11h-11zM1744.7 1053.6h11v11h-11zM1748.9 1050.1h11v11h-11zM1753.1 1050.3h11v11h-11zM1757.3 1055.9h11v11h-11zM1761.5 1068.1h11v11h-11zM1765.7 1088.6h11v11h-11zM1769.9 1111.3h11v11h-11zM1774.1 1135.9h11v11h-11zM1778.3 1169.7h11v11h-11zM1782.5 1204.7h11v11h-11zM1786.7 1231.2h11v11h-11zM1790.9 1260.5h11v11h-11zM1795.1 1288.2h11v11h-11zM1799.3 1313.5h11v11h-11zM1803.5 1335.3h11v11h-11zM1807.7 1350.8h11v11h-11zM1811.9 1363.1h11v11h-11zM1816.1 1374.8h11v11h-11zM1820.3 1388.1h11v11h-11zM1824.5 1402.0h11v11h-11zM1828.7 1414.6h11v11h-11zM1832.9 1426.3h11v11h-11zM1837.1 1436.3h11v11h-11zM1841.3 1444.4h11v11h-11zM1845.5 1451.9h11v11h-11zM1849.7 1458.5h11v11h-11zM1853.9 1464.0h11v11h-11zM1858.1 1468.1h11v11h-11zM1862.3 1471.3h11v11h-11zM1866.5 1474.3h11v11h-11zM1870.7 1477.0h11v11h-11zM1874.9 1479.4h11v11h-11zM1879.1 1481.6h11v11h-11zM1883.3 1483.6h11v11h-11zM1887.5 1485.3h11v11h-11zM1891.7 1486.7h11v11h-11zM1895.9 1487.9h11v11h-11zM1900.1 1488.8h11v11h-11zM1904.3 1489.7h11v11h-11zM1908.5 1490.5h11v11h-11zM1912.7 1491.2h11v11h-11zM1916.9 1491.9h11v11h-11zM1921.1 1492.5h11v11h-11zM1925.3 1493.1h11v11h-11zM1929.5 1493.6h11v11h-11zM1933.7 1494.1h11v11h-11zM1937.9 1494.6h11v11h-11zM1942.1 1495.0h11v11h-11zM1946.3 1495.4h11v11h-11zM1950.5 1495.8h11v11h-11zM1954.7 1496.1h11v11h-11zM1958.9 1496.5h11v11h-11zM1963.1 1496.8h11v11h-11zM1967.3 1497.1h11v11h-11zM1971.5 1497.4h11v11h-11zM1975.7 1497.7h11v11h-11zM1979.9 1498.0h11v11h-11zM1984.1 1498.2h11v11h-11zM1988.3 1498.5h11v11h-11zM1992.5 1498.7h11v11h-11zM1996.7 1499.0h11v11h-11zM2000.9 1499.2h11v11h-11zM2005.1 1499.4h11v11h-11zM2009.3 1499.6h11v11h-11zM2013.5 1499.7h11v11h-11zM2017.7 1499.8h11v11h-11zM2021.9 1499.9h11v11h-11zM2026.1 1500.0h11v11h-11z" fill="#ff0000" /><path d="M1145.5 1452.5h11v11h-11zM1149.7 1452.5h11v11h-11zM1153.9 1452.5h11v11h-11zM1158.1 1452.5h11v11h-11zM1162.3 1452.5h11v11h-11zM1166.5 1452.5h11v11h-11zM1170.7 1452.6h11v11h-11zM1174.9 1452.6h11v11h-11zM1179.1 1452.6h11v11h-11zM1183.3 1452.7h11v11h-11zM1187.5 1452.7h11v11h-11zM1191.7 1452.8h11v11h-11zM1195.9 1452.8h11v11h-11zM1200.1 1452.8h11v11h-11zM1204.3 1452.9h11v11h-11zM1208.5 1453.0h11v11h-11zM1212.7 1453.0h11v11h-11zM1216.9 1453.1h11v11h-11zM1221.1 1453.1h11v11h-11zM1225.3 1453.2h11v11h-11zM1229.5 1453.3h11v11h-11zM1233.7 1453.4h11v11h-11zM1237.9 1453.4h11v11h-11zM1242.1 1453.5h11v11h-11zM1246.3 1453.6h11v11h-11zM1250.5 1453.8h11v11h-11zM1254.7 1454.0h11v11h-11zM1258.9 1454.3h11v11h-11zM1263.1 1454.6h11v11h-11zM1267.3 1454.9h11v11h-11zM1271.5 1455.2h11v11h-11zM1275.7 1455.6h11v11h-11zM1279.9 1456.0h11v11h-11zM1284.1 1456.4h11v11h-11zM1288.3 1456.9h11v11h-11zM1292.5 1457.3h11v11h-11zM1296.7 1457.7h11v11h-11zM1300.9 1458.2h11v11h-11zM1305.1 1458.6h11v11h-11zM1309.3 1459.1h11v11h-11zM1313.5 1459.5h11v11h-11zM1317.7 1459.9h11v11h-11zM1321.9 1460.3h11v11h-11zM1326.1 1460.6h11v11h-11zM1330.3 1461.0h11v11h-11zM1334.5 1461.3h11v11h-11zM1338.7 1461.6h11v11h-11zM1342.9 1461.8h11v11h-11zM1347.1 1462.1h11v11h-11zM1351.3 1462.4h11v11h-11zM1355.5 1462.6h11v11h-11zM1359.7 1462.9h11v11h-11zM1363.9 1463.1h11v11h-11zM1368.1 1463.3h11v11h-11zM1372.3 1463.6h11v11h-11zM1376.5 1463.8h11v11h-11zM1380.7 1464.0h11v11h-11zM1384.9 1464.2h11v11h-11zM1389.1 1464.5h11v11h-11zM1393.3 1464.7h11v11h-11zM1397.5 1464.9h11v11h-11zM1401.7 1465.1h11v11h-11zM1405.9 1465.3h11v11h-11zM1410.1 1465.5h11v11h-11zM1414.3 1465.7h11v11h-11zM1418.5 1465.8h11v11h-11zM1422.7 1466.0h11v11h-11zM1426.9 1466.2h11v11h-11zM1431.1 1466.4h11v11h-11zM1435.3 1466.5h11v11h-11zM1439.5 1466.7h11v11h-11zM1443.7 1466.9h11v11h-11zM1447.9 1467.0h11v11h-11zM1452.1 1467.2h11v11h-11zM1456.3 1467.3h11v11h-11zM1460.5 1467.5h11v11h-11zM1464.7 1467.7h11v11h-11zM1468.9 1467.8h11v11h-11zM1473.1 1468.0h11v11h-11zM1477.3 1468.1h11v11h-11zM1481.5 1468.3h11v11h-11zM1485.7 1468.4h11v11h-11zM1489.9 1468.5h11v11h-11zM1494.1 1468.7h11v11h-11zM1498.3 1468.8h11v11h-11zM1502.5 1468.9h11v11h-11zM1506.7 1469.0h11v11h-11zM1510.9 1469.1h11v11h-11zM1515.1 1469.2h11v11h-11zM1519.3 1469.3h11v11h-11zM1523.5 1469.4h11v11h-11zM1527.7 1469.5h11v11h-11zM1531.9 1469.5h11v11h-11zM1536.1 1469.6h11v11h-11zM1540.3 1469.6h11v11h-11zM1544.5 1469.7h11v11h-11zM1548.7 1469.7h11v11h-11zM1552.9 1469.7h11v11h-11zM1557.1 1469.8h11v11h-11zM1561.3 1469.8h11v11h-11zM1565.5 1469.8h11v11h-11zM1569.7 1469.9h11v11h-11zM1573.9 1469.9h11v11h-11zM1578.1 1469.9h11v11h-11zM1582.3 1469.9h11v11h-11zM1586.5 1470.0h11v11h-11zM1590.7 1470.0h11v11h-11zM1594.9 1470.0h11v11h-11zM1599.1 1470.0h11v11h-11zM1603.3 1470.1h11v11h-11zM1607.5 1470.1h11v11h-11zM1611.7 1470.1h11v11h-11zM1615.9 1470.2h11v11h-11zM1620.1 1470.2h11v11h-11zM1624.3 1470.2h11v11h-11zM1628.5 1470.3h11v11h-11zM1632.7 1470.3h11v11h-11zM1636.9 1470.4h11v11h-11zM1641.1 1470.4h11v11h-11zM1645.3 1470.5h11v11h-11zM1649.5 1470.6h11v11h-11zM1653.7 1470.7h11v11h-11zM1657.9 1470.8h11v11h-11zM1662.1 1471.0h11v11h-11zM1666.3 1471.2h11v11h-11zM1670.5 1471.4h11v11h-11zM1674.7 1471.6h11v11h-11zM1678.9 1471.8h11v11h-11zM1683.1 1472.0h11v11h-11zM1687.3 1472.2h11v11h-11zM1691.5 1472.4h11v11h-11zM1695.7 1472.6h11v11h-11zM1699.9 1472.7h11v11h-11zM1704.1 1473.0h11v11h-11zM1708.3 1473.2h11v11h-11zM1712.5 1473.4h11v11h-11zM1716.7 1473.6h11v11h-11zM1720.9 1473.8h11v11h-11zM1725.1 1474.0h11v11h-11zM1729.3 1474.2h11v11h-11zM1733.5 1474.5h11v11h-11zM1737.7 1474.7h11v11h-11zM1741.9 1474.9h11v11h-11zM1746.1 1475.2h11v11h-11zM1750.3 1475.4h11v11h-11zM1754.5 1475.5h11v11h-11zM1758.7 1475.4h11v11h-11zM1762.9 1474.9h11v11h-11zM1767.1 1473.9h11v11h-11zM1771.3 1472.6h11v11h-11zM1775.5 1471.0h11v11h-11zM1779.7 1468.9h11v11h-11zM1783.9 1465.5h11v11h-11zM1788.1 1461.1h11v11h-11zM1792.3 1455.6h11v11h-11zM1796.5 1448.5h11v11h-11zM1800.7 1441.2h11v11h-11zM1804.9 1434.3h11v11h-11zM1809.1 1430.2h11v11h-11zM1813.3 1427.3h11v11h-11zM1817.5 1426.7h11v11h-11zM1821.7 1430.7h11v11h-11zM1825.9 1436.6h11v11h-11zM1830.1 1444.7h11v11h-11zM1834.3 1453.0h11v11h-11zM1838.5 1461.1h11v11h-11zM1842.7 1468.9h11v11h-11zM1846.9 1475.1h11v11h-11zM1851.1 1479.3h11v11h-11zM1855.3 1482.8h11v11h-11zM1859.5 1485.8h11v11h-11zM1863.7 1488.3h11v11h-11zM1867.9 1490.2h11v11h-11zM1872.1 1491.8h11v11h-11zM1876.3 1493.3h11v11h-11zM1880.5 1494.5h11v11h-11zM1884.7 1495.6h11v11h-11zM1888.9 1496.5h11v11h-11zM1893.1 1497.3h11v11h-11zM1897.3 1497.9h11v11h-11zM1901.5 1498.5h11v11h-11zM1905.7 1499.0h11v11h-11zM1909.9 1499.5h11v11h-11zM1914.1 1499.9h11v11h-11zM1918.3 1500.3h11v11h-11zM1922.5 1500.7h11v11h-11zM1926.7 1501.0h11v11h-11zM1930.9 1501.3h11v11h-11zM1935.1 1501.6h11v11h-11zM1939.3 1501.8h11v11h-11zM1943.5 1502.0h11v11h-11zM1947.7 1502.1h11v11h-11zM1951.9 1502.2h11v11h-11zM1956.1 1502.3h11v11h-11zM1960.3 1502.5h11v11h-11zM1964.5 1502.6h11v11h-11zM1968.7 1502.7h11v11h-11zM1972.9 1502.8h11v11h-11zM1977.1 1502.9h11v11h-11zM1981.3 1503.0h11v11h-11zM1985.5 1503.1h11v11h-11zM1989.7 1503.1h11v11h-11zM1993.9 1503.2h11v11h-11zM1998.1 1503.3h11v11h-11zM2002.3 1503.3h11v11h-11zM2006.5 1503.4h11v11h-11zM2010.7 1503.4h11v11h-11zM2014.9 1503.4h11v11h-11zM2019.1 1503.5h11v11h-11zM2023.3 1503.5h11v11h-11zM2027.5 1503.5h11v11h-11z" fill="#ff33ff" /><path d="M1145.0 1447.0h12v12h-12zM1149.2 1447.0h12v12h-12zM1153.4 1447.0h12v12h-12zM1157.6 1446.9h12v12h-12zM1161.8 1446.9h12v12h-12zM1166.0 1446.8h12v12h-12zM1170.2 1446.7h12v12h-12zM1174.4 1446.6h12v12h-12zM1178.6 1446.5h12v12h-12zM1182.8 1446.4h12v12h-12zM1187.0 1446.2h12v12h-12zM1191.2 1446.1h12v12h-12zM1195.4 1445.9h12v12h-12zM1199.6 1445.8h12v12h-12zM1203.8 1445.6h12v12h-12zM1208.0 1445.4h12v12h-12zM1212.2 1445.2h12v12h-12zM1216.4 1445.0h12v12h-12zM1220.6 1444.8h12v12h-12zM1224.8 1444.4h12v12h-12zM1229.0 1444.0h12v12h-12zM1233.2 1443.5h12v12h-12zM1237.4 1443.0h12v12h-12zM1241.6 1442.5h12v12h-12zM1245.8 1441.9h12v12h-12zM1250.0 1441.2h12v12h-12zM1254.2 1440.6h12v12h-12zM1258.4 1440.0h12v12h-12zM1262.6 1439.3h12v12h-12zM1266.8 1438.7h12v12h-12zM1271.0 1438.0h12v12h-12zM1275.2 1437.3h12v12h-12zM1279.4 1436.6h12v12h-12zM1283.6 1435.8h12v12h-12zM1287.8 1435.1h12v12h-12zM1292.0 1434.3h12v12h-12zM1296.2 1433.6h12v12h-12zM1300.4 1432.8h12v12h-12zM1304.6 1432.0h12v12h-12zM1308.8 1431.1h12v12h-12zM1313.0 1430.3h12v12h-12zM1317.2 1429.5h12v12h-12zM1321.4 1428.8h12v12h-12zM1325.6 1428.3h12v12h-12zM1329.8 1428.1h12v12h-12zM1334.0 1428.0h12v12h-12zM1338.2 1428.3h12v12h-12zM1342.4 1428.9h12v12h-12zM1346.6 1429.6h12v12h-12zM1350.8 1430.4h12v12h-12zM1355.0 1431.2h12v12h-12zM1359.2 1432.3h12v12h-12zM1363.4 1433.7h12v12h-12zM1367.6 1435.3h12v12h-12zM1371.8 1436.9h12v12h-12zM1376.0 1438.6h12v12h-12zM1380.2 1440.2h12v12h-12zM1384.4 1441.7h12v12h-12zM1388.6 1442.9h12v12h-12zM1392.8 1444.1h12v12h-12zM1397.0 1445.4h12v12h-12zM1401.2 1446.6h12v12h-12zM1405.4 1447.7h12v12h-12zM1409.6 1448.9h12v12h-12zM1413.8 1449.9h12v12h-12zM1418.0 1450.9h12v12h-12zM1422.2 1451.9h12v12h-12zM1426.4 1452.7h12v12h-12zM1430.6 1453.5h12v12h-12zM1434.8 1454.1h12v12h-12zM1439.0 1454.7h12v12h-12zM1443.2 1455.2h12v12h-12zM1447.4 1455.7h12v12h-12zM1451.6 1456.2h12v12h-12zM1455.8 1456.7h12v12h-12zM1460.0 1457.1h12v12h-12zM1464.2 1457.5h12v12h-12zM1468.4 1457.9h12v12h-12zM1472.6 1458.3h12v12h-12zM1476.8 1458.6h12v12h-12zM1481.0 1459.0h12v12h-12zM1485.2 1459.3h12v12h-12zM1489.4 1459.7h12v12h-12zM1493.6 1460.0h12v12h-12zM1497.8 1460.3h12v12h-12zM1502.0 1460.7h12v12h-12zM1506.2 1461.0h12v12h-12zM1510.4 1461.4h12v12h-12zM1514.6 1461.7h12v12h-12zM1518.8 1462.1h12v12h-12zM1523.0 1462.4h12v12h-12zM1527.2 1462.8h12v12h-12zM1531.4 1463.1h12v12h-12zM1535.6 1463.4h12v12h-12zM1539.8 1463.8h12v12h-12zM1544.0 1464.1h12v12h-12zM1548.2 1464.3h12v12h-12zM1552.4 1464.6h12v12h-12zM1556.6 1464.8h12v12h-12zM1560.8 1465.1h12v12h-12zM1565.0 1465.3h12v12h-12zM1569.2 1465.4h12v12h-12zM1573.4 1465.6h12v12h-12zM1577.6 1465.8h12v12h-12zM1581.8 1465.9h12v12h-12zM1586.0 1466.1h12v12h-12zM1590.2 1466.2h12v12h-12zM1594.4 1466.4h12v12h-12zM1598.6 1466.5h12v12h-12zM1602.8 1466.7h12v12h-12zM1607.0 1466.8h12v12h-12zM1611.2 1466.9h12v12h-12zM1615.4 1467.0h12v12h-12zM1619.6 1467.2h12v12h-12zM1623.8 1467.3h12v12h-12zM1628.0 1467.4h12v12h-12zM1632.2 1467.6h12v12h-12zM1636.4 1467.7h12v12h-12zM1640.6 1467.9h12v12h-12zM1644.8 1468.0h12v12h-12zM1649.0 1468.2h12v12h-12zM1653.2 1468.3h12v12h-12zM1657.4 1468.5h12v12h-12zM1661.6 1468.6h12v12h-12zM1665.8 1468.8h12v12h-12zM1670.0 1468.9h12v12h-12zM1674.2 1469.1h12v12h-12zM1678.4 1469.2h12v12h-12zM1682.6 1469.4h12v12h-12zM1686.8 1469.6h12v12h-12zM1691.0 1469.8h12v12h-12zM1695.2 1470.1h12v12h-12zM1699.4 1470.4h12v12h-12zM1703.6 1470.7h12v12h-12zM1707.8 1471.1h12v12h-12zM1712.0 1471.5h12v12h-12zM1716.2 1472.0h12v12h-12zM1720.4 1472.5h12v12h-12zM1724.6 1473.1h12v12h-12zM1728.8 1473.8h12v12h-12zM1733.0 1474.7h12v12h-12zM1737.2 1475.8h12v12h-12zM1741.4 1476.9h12v12h-12zM1745.6 1478.1h12v12h-12zM1749.8 1479.3h12v12h-12zM1754.0 1480.5h12v12h-12zM1758.2 1481.6h12v12h-12zM1762.4 1482.8h12v12h-12zM1766.6 1484.0h12v12h-12zM1770.8 1485.3h12v12h-12zM1775.0 1486.5h12v12h-12zM1779.2 1487.7h12v12h-12zM1783.4 1488.9h12v12h-12zM1787.6 1490.0h12v12h-12zM1791.8 1491.0h12v12h-12zM1796.0 1491.9h12v12h-12zM1800.2 1492.6h12v12h-12zM1804.4 1493.4h12v12h-12zM1808.6 1494.1h12v12h-12zM1812.8 1494.8h12v12h-12zM1817.0 1495.5h12v12h-12zM1821.2 1496.2h12v12h-12zM1825.4 1496.8h12v12h-12zM1829.6 1497.4h12v12h-12zM1833.8 1498.0h12v12h-12zM1838.0 1498.5h12v12h-12zM1842.2 1498.9h12v12h-12zM1846.4 1499.3h12v12h-12zM1850.6 1499.6h12v12h-12zM1854.8 1499.9h12v12h-12zM1859.0 1500.1h12v12h-12zM1863.2 1500.2h12v12h-12zM1867.4 1500.4h12v12h-12zM1871.6 1500.5h12v12h-12zM1875.8 1500.6h12v12h-12zM1880.0 1500.8h12v12h-12zM1884.2 1500.9h12v12h-12zM1888.4 1501.0h12v12h-12zM1892.6 1501.1h12v12h-12zM1896.8 1501.2h12v12h-12zM1901.0 1501.3h12v12h-12zM1905.2 1501.4h12v12h-12zM1909.4 1501.4h12v12h-12zM1913.6 1501.5h12v12h-12zM1917.8 1501.6h12v12h-12zM1922.0 1501.7h12v12h-12zM1926.2 1501.7h12v12h-12zM1930.4 1501.8h12v12h-12zM1934.6 1501.9h12v12h-12zM1938.8 1501.9h12v12h-12zM1943.0 1502.0h12v12h-12zM1947.2 1502.1h12v12h-12zM1951.4 1502.1h12v12h-12zM1955.6 1502.2h12v12h-12zM1959.8 1502.2h12v12h-12zM1964.0 1502.3h12v12h-12zM1968.2 1502.4h12v12h-12zM1972.4 1502.4h12v12h-12zM1976.6 1502.5h12v12h-12zM1980.8 1502.5h12v12h-12zM1985.0 1502.6h12v12h-12zM1989.2 1502.6h12v12h-12zM1993.4 1502.7h12v12h-12zM1997.6 1502.7h12v12h-12zM2001.8 1502.8h12v12h-12zM2006.0 1502.8h12v12h-12zM2010.2 1502.9h12v12h-12zM2014.4 1502.9h12v12h-12zM2018.6 1502.9h12v12h-12zM2022.8 1503.0h12v12h-12zM2027.0 1503.0h12v12h-12z" fill="#0033ff" /></g><rect x="1151.2" y="870.3" width="882.60" height="655.30" fill="none" stroke="#000" stroke-width="4.2" stroke-linejoin="round"/><line x1="1973.90" y1="1525.60" x2="1973.90" y2="1539.10" stroke="#000" stroke-width="4" stroke-linecap="round"/><line x1="1889.90" y1="1525.60" x2="1889.90" y2="1533.10" stroke="#000" stroke-width="4" stroke-linecap="round"/><line x1="1805.90" y1="1525.60" x2="1805.90" y2="1539.10" stroke="#000" stroke-width="4" stroke-linecap="round"/><line x1="1721.90" y1="1525.60" x2="1721.90" y2="1533.10" stroke="#000" stroke-width="4" stroke-linecap="round"/><line x1="1637.90" y1="1525.60" x2="1637.90" y2="1539.10" stroke="#000" stroke-width="4" stroke-linecap="round"/><line x1="1553.90" y1="1525.60" x2="1553.90" y2="1533.10" stroke="#000" stroke-width="4" stroke-linecap="round"/><line x1="1469.90" y1="1525.60" x2="1469.90" y2="1539.10" stroke="#000" stroke-width="4" stroke-linecap="round"/><line x1="1385.90" y1="1525.60" x2="1385.90" y2="1533.10" stroke="#000" stroke-width="4" stroke-linecap="round"/><line x1="1301.90" y1="1525.60" x2="1301.90" y2="1539.10" stroke="#000" stroke-width="4" stroke-linecap="round"/><line x1="1217.90" y1="1525.60" x2="1217.90" y2="1533.10" stroke="#000" stroke-width="4" stroke-linecap="round"/><text x="1936.03" y="1587.30" font-size="51.00" font-weight="bold" fill="#000">456</text><text x="1768.15" y="1587.30" font-size="51.00" font-weight="bold" fill="#000">458</text><text x="1600.28" y="1587.30" font-size="51.00" font-weight="bold" fill="#000">460</text><text x="1432.40" y="1587.30" font-size="51.00" font-weight="bold" fill="#000">462</text><text x="1263.78" y="1587.30" font-size="51.00" font-weight="bold" fill="#000">464</text><text x="1064.90" y="903.20" font-size="57.00" font-weight="bold" fill="#000">(d)</text><text x="1193.50" y="959.80" font-size="39.40" font-weight="bold" fill="#000">Ti 2p XPS</text><text x="1675.65" y="947.00" font-size="51.00" font-weight="bold" fill="#000">Ti</text><text x="1724.20" y="928.60" font-size="31.16" font-weight="normal" fill="#000" stroke="#000" stroke-width="0.7">4+</text><text x="1753.30" y="946.50" font-size="48.00" font-weight="bold" fill="#000">/</text><text x="1766.45" y="944.60" font-size="51.00" font-weight="bold" fill="#000">Ti</text><text x="1813.10" y="927.20" font-size="32.97" font-weight="normal" fill="#000" stroke="#000" stroke-width="0.7">3+</text><text x="1201.85" y="1250.30" font-size="51.00" font-weight="bold" fill="#000">Ti</text><text x="1250.40" y="1231.90" font-size="31.16" font-weight="normal" fill="#000" stroke="#000" stroke-width="0.7">4+</text><text x="1279.50" y="1249.80" font-size="48.00" font-weight="bold" fill="#000">/</text><text x="1292.65" y="1247.90" font-size="51.00" font-weight="bold" fill="#000">Ti</text><text x="1339.30" y="1230.50" font-size="32.97" font-weight="normal" fill="#000" stroke="#000" stroke-width="0.7">3+</text><text x="1213.30" y="1404.50" font-size="38.71" font-weight="bold" fill="#000">Ti 2P</text><text x="1301.40" y="1416.20" font-size="28.46" font-weight="normal" fill="#000" stroke="#000" stroke-width="0.7">1/2</text><text x="1692.90" y="1406.90" font-size="39.47" font-weight="bold" fill="#000">Ti 2P</text><text x="1781.80" y="1418.70" font-size="29.36" font-weight="normal" fill="#000" stroke="#000" stroke-width="0.7">3/2</text><text x="1413.25" y="1650.60" font-size="50.73" font-weight="bold" fill="#000">Binding Energy /eV</text><text transform="translate(1104.90,1358.55) rotate(-90)" font-size="51.66" font-weight="bold">Intensity (a.u.)</text></svg>
</body></html>
